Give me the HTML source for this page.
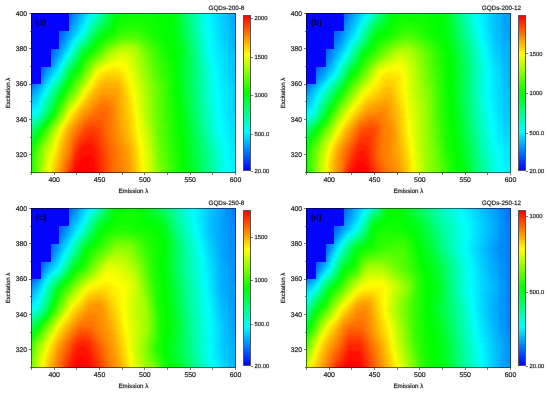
<!DOCTYPE html><html><head><meta charset="utf-8"><style>
*{margin:0;padding:0;box-sizing:border-box}
html,body{width:550px;height:393px;background:#fff;overflow:hidden}
body{position:relative;font-family:"Liberation Sans",Arial,Helvetica,sans-serif;color:#1a1a1a;text-rendering:geometricPrecision;-webkit-text-stroke:0.35px rgba(30,30,30,.55)}
.pn{position:absolute;width:275px;height:196px}
.hm{position:absolute;left:31px;top:13px;width:205px;height:160px;overflow:hidden}
.hm i{display:block;height:1px;width:205px}
.mk{position:absolute;background:#0404fc}
.lab{position:absolute;left:5px;top:4.7px;font-size:8.4px;line-height:8px;color:#000033;font-weight:bold;-webkit-text-stroke:0}
.fr{position:absolute;left:31px;top:13px;width:205px;height:160px;border:1px solid rgba(0,0,0,.55)}
.xt{position:absolute;top:173px;width:1px;height:2.3px;background:#777}
.xt.mn{height:1.5px}
.yt{position:absolute;left:29px;height:1px;width:2px;background:#777}
.yt.mn{width:1.5px;left:29.5px}
.xl{position:absolute;top:177px;font-size:6.9px;line-height:7px;transform:translateX(-50%);white-space:nowrap}
.yl{position:absolute;right:248px;font-size:6.8px;line-height:7px;transform:translateY(-50%);white-space:nowrap}
.xa{position:absolute;left:133.4px;top:188.4px;font-size:6.2px;line-height:7px;transform:translateX(-50%);white-space:nowrap}
.ya{position:absolute;left:8.9px;top:93.3px;font-size:6px;line-height:7px;transform:translate(-50%,-50%) rotate(-90deg);white-space:nowrap}
.ti{position:absolute;left:226.4px;top:5px;font-size:6.3px;line-height:7px;transform:translateX(-50%);white-space:nowrap}
.cb{position:absolute;left:243px;top:15px;width:8px;height:156px;border:0.5px solid #555;background:linear-gradient(180deg,#ff0000 0%,#ff8000 12.5%,#ffff00 25%,#80ff00 37.5%,#00ff00 50%,#00ff80 62.5%,#00ffff 75%,#0080ff 87.5%,#0000ff 100%)}
.ct{position:absolute;left:251px;width:2px;height:1px;background:#777}
.cl{position:absolute;left:254.6px;margin-top:0.6px;font-size:5.8px;line-height:7px;transform:translateY(-50%);white-space:nowrap}
</style></head><body><div class="pn" style="left:0px;top:0px"><div class="hm"><i style="background:linear-gradient(90deg,#0030ff,#0035ff 10.5px,#0040ff 14.5px,#0045ff 23.5px,#0050ff 27.5px,#0055ff 31.5px,#0060ff 35.5px,#007cff 41.5px,#00dcff 56.5px,#00fef7 62.5px,#00ffbb 68.5px,#00ff5f 76.5px,#00ff2b 80.5px,#00ff05 84.5px,#02ff00 94.5px,#10ff00 99.5px,#0cff00 120.5px,#00ff00 124.5px,#00ff05 141.5px,#00ff3c 149.5px,#00ff89 158.5px,#00ffef 173.5px,#00faff 177.5px,#00a0ff)"></i><i style="background:linear-gradient(90deg,#0030ff,#0035ff 10.5px,#0040ff 14.5px,#0046ff 23.5px,#0050ff 28.5px,#006cff 38.5px,#00f9fd 60.5px,#00ffd8 65.5px,#00ff4f 77.5px,#00ff0c 83.5px,#00ff00 86.5px,#06ff00 94.5px,#10ff00 100.5px,#0eff00 120.5px,#00ff00 125.5px,#00ff05 141.5px,#00ff3c 149.5px,#00ff86 158.5px,#00ffea 172.5px,#00fbff 177.5px,#00a1ff)"></i><i style="background:linear-gradient(90deg,#0030ff,#0035ff 10.5px,#0040ff 14.5px,#0043ff 22.5px,#0050ff 26.5px,#0056ff 31.5px,#0076ff 40.5px,#00f9fd 59.5px,#00ffd1 65.5px,#00ff0c 83.5px,#00ff00 86.5px,#06ff00 93.5px,#10ff00 99.5px,#0bff00 121.5px,#00ff00 125.5px,#00ff05 141.5px,#00ff3c 149.5px,#00ffc3 166.5px,#00fffe 176.5px,#00afff 200.5px,#00a1ff)"></i><i style="background:linear-gradient(90deg,#0030ff,#0035ff 10.5px,#0040ff 14.5px,#0044ff 22.5px,#0050ff 26.5px,#0059ff 31.5px,#0073ff 39.5px,#00fcfb 59.5px,#00ffbd 66.5px,#00ff0c 83.5px,#00ff00 87.5px,#0aff00 93.5px,#10ff00 119.5px,#00ff00 126.5px,#00ff05 141.5px,#00ff3c 149.5px,#00ffce 168.5px,#00fffe 176.5px,#00bfff 195.5px,#00a3ff)"></i><i style="background:linear-gradient(90deg,#0030ff,#0035ff 10.5px,#0040ff 14.5px,#0045ff 22.5px,#0050ff 26.5px,#0054ff 30.5px,#007cff 40.5px,#00fbfc 58.5px,#00ffaa 67.5px,#00ff31 79.5px,#00ff04 84.5px,#0aff00 92.5px,#10ff00 120.5px,#00ff00 127.5px,#00ff05 141.5px,#00ff3c 149.5px,#00ffea 172.5px,#00feff 177.5px,#00dfff 185.5px,#00afff 201.5px,#00a4ff)"></i><i style="background:linear-gradient(90deg,#0030ff,#0035ff 10.5px,#0040ff 14.5px,#0046ff 22.5px,#0050ff 27.5px,#0066ff 35.5px,#00a6ff 46.5px,#00fdf9 58.5px,#00ff30 79.5px,#00ff02 84.5px,#10ff00 97.5px,#0eff00 122.5px,#00ff00 127.5px,#00ff05 141.5px,#00ff43 150.5px,#00ffea 172.5px,#00feff 177.5px,#00dfff 185.5px,#00a4ff)"></i><i style="background:linear-gradient(90deg,#0030ff,#0035ff 10.5px,#0040ff 14.5px,#0043ff 21.5px,#0050ff 25.5px,#0056ff 30.5px,#0086ff 41.5px,#00fbfa 57.5px,#00ff91 68.5px,#00ff22 80.5px,#00ff01 84.5px,#10ff00 94.5px,#0cff00 123.5px,#00ff00 128.5px,#00ff05 141.5px,#00ff39 149.5px,#00ffad 164.5px,#00fffa 175.5px,#00f4ff 179.5px,#00a4ff)"></i><i style="background:linear-gradient(90deg,#0030ff,#0035ff 10.5px,#0040ff 14.5px,#0045ff 21.5px,#0050ff 25.5px,#0059ff 30.5px,#0079ff 38.5px,#00d6ff 52.5px,#00fdf6 57.5px,#00ff65 72.5px,#00ff20 80.5px,#01ff01 84.5px,#10ff00 91.5px,#0eff00 123.5px,#00ff00 128.5px,#00ff05 141.5px,#00ff36 149.5px,#00ff90 160.5px,#00fffa 175.5px,#00f4ff 179.5px,#00dfff 186.5px,#00a5ff)"></i><i style="background:linear-gradient(90deg,#0030ff,#0032ff 9.5px,#0040ff 14.5px,#0046ff 21.5px,#0050ff 26.5px,#006cff 35.5px,#00bcff 48.5px,#00fcf9 56.5px,#00ff60 72.5px,#02ff01 84.5px,#10ff00 90.5px,#10ff00 122.5px,#00ff00 129.5px,#00ff05 141.5px,#00ff34 149.5px,#00ff89 159.5px,#00fff8 175.5px,#00f4ff 179.5px,#00a8ff)"></i><i style="background:linear-gradient(90deg,#0030ff,#0033ff 9.5px,#0040ff 13.5px,#0043ff 20.5px,#0050ff 24.5px,#0059ff 29.5px,#0073ff 36.5px,#00cdff 50.5px,#00fafb 55.5px,#00ff62 71.5px,#01ff04 83.5px,#10ff00 88.5px,#19ff00 106.5px,#10ff00 118.5px,#0cff00 125.5px,#00ff00 129.5px,#00ff05 141.5px,#00ff34 149.5px,#00ff7f 158.5px,#00ffeb 173.5px,#00faff 178.5px,#00afff 201.5px,#00acff)"></i><i style="background:linear-gradient(90deg,#0030ff,#0034ff 9.5px,#0040ff 13.5px,#0044ff 20.5px,#0050ff 24.5px,#0055ff 28.5px,#0086ff 39.5px,#00e2ff 52.5px,#00fbf8 55.5px,#00ff6c 69.5px,#02ff02 83.5px,#10ff00 88.5px,#1eff00 106.5px,#10ff00 116.5px,#09ff00 126.5px,#00ff00 131.5px,#00ff05 141.5px,#00ff34 149.5px,#00ffc3 167.5px,#00fefe 177.5px,#00afff 201.5px,#00afff)"></i><i style="background:linear-gradient(90deg,#0030ff,#0035ff 9.5px,#0040ff 13.5px,#0045ff 20.5px,#0050ff 24.5px,#0056ff 28.5px,#007eff 37.5px,#00ddff 51.5px,#00fdf3 55.5px,#00ff64 69.5px,#04ff01 83.5px,#11ff00 88.5px,#20ff00 103.5px,#17ff00 111.5px,#0cff00 126.5px,#00ff00 130.5px,#00ff05 141.5px,#00ff2c 148.5px,#00ffd6 170.5px,#00fefe 177.5px,#00afff 201.5px,#00afff)"></i><i style="background:linear-gradient(90deg,#0030ff,#0035ff 9.5px,#0040ff 13.5px,#0046ff 20.5px,#0050ff 25.5px,#0070ff 34.5px,#00d9ff 50.5px,#00fbf8 54.5px,#00ff5c 69.5px,#05ff01 83.5px,#1cff00 92.5px,#1cff00 111.5px,#10ff00 118.5px,#09ff00 127.5px,#00ff00 132.5px,#00ff05 141.5px,#00ff24 147.5px,#00ffce 169.5px,#00fefe 177.5px,#00b0ff 201.5px,#00afff)"></i><i style="background:linear-gradient(90deg,#0030ff,#0035ff 9.5px,#0040ff 13.5px,#0043ff 19.5px,#0050ff 23.5px,#0056ff 27.5px,#0076ff 35.5px,#00e6ff 51.5px,#00fdf4 54.5px,#00ff5c 68.5px,#02ff02 82.5px,#1fff00 91.5px,#20ff00 110.5px,#10ff00 119.5px,#0cff00 127.5px,#00ff00 131.5px,#00ff05 141.5px,#00ff24 147.5px,#00ffea 173.5px,#00fbff 178.5px,#00bfff 196.5px,#00afff 203.5px,#00afff)"></i><i style="background:linear-gradient(90deg,#0030ff,#0037ff 9.5px,#0040ff 14.5px,#0045ff 19.5px,#0050ff 23.5px,#0069ff 32.5px,#00d2ff 48.5px,#00fbf9 53.5px,#00ff54 68.5px,#04ff01 82.5px,#20ff00 90.5px,#27ff00 104.5px,#1aff00 114.5px,#10ff00 120.5px,#09ff00 128.5px,#00ff00 133.5px,#00ff05 141.5px,#00ff24 147.5px,#00ffea 173.5px,#00fdff 178.5px,#00cfff 191.5px,#00afff 203.5px,#00afff)"></i><i style="background:linear-gradient(90deg,#0030ff,#0033ff 8.5px,#0040ff 12.5px,#0046ff 19.5px,#0066ff 31.5px,#00d6ff 48.5px,#00fdf6 53.5px,#00ff55 67.5px,#05ff01 82.5px,#1fff00 88.5px,#2cff00 104.5px,#19ff00 115.5px,#10ff00 120.5px,#0bff00 128.5px,#00ff00 132.5px,#00ff05 141.5px,#00ff24 147.5px,#00ffee 174.5px,#00feff 178.5px,#00dfff 186.5px,#00afff 203.5px,#00afff)"></i><i style="background:linear-gradient(90deg,#0030ff,#0034ff 8.5px,#0040ff 12.5px,#0043ff 18.5px,#0050ff 22.5px,#0069ff 31.5px,#00cdff 46.5px,#00fbfa 52.5px,#00ff4e 67.5px,#00ff11 78.5px,#07ff00 82.5px,#20ff00 87.5px,#30ff00 102.5px,#1cff00 115.5px,#10ff00 120.5px,#0cff00 128.5px,#00ff00 132.5px,#00ff05 141.5px,#00ff29 148.5px,#00ffe0 172.5px,#00fffe 177.5px,#00cfff 191.5px,#00afff 203.5px,#00afff)"></i><i style="background:linear-gradient(90deg,#0030ff,#0035ff 8.5px,#0040ff 12.5px,#0045ff 18.5px,#0050ff 22.5px,#006bff 31.5px,#00d1ff 46.5px,#00f8fd 51.5px,#00ffd2 55.5px,#00ff66 64.5px,#00ff37 69.5px,#04ff01 81.5px,#22ff00 87.5px,#30ff00 97.5px,#2aff00 109.5px,#10ff00 121.5px,#09ff00 129.5px,#00ff00 134.5px,#00ff05 141.5px,#00ff2d 149.5px,#00ffda 171.5px,#00fffe 177.5px,#00deff 187.5px,#00cfff 192.5px,#00afff 203.5px,#00afff)"></i><i style="background:linear-gradient(90deg,#0030ff,#0035ff 8.5px,#0040ff 12.5px,#0046ff 18.5px,#006cff 31.5px,#00e5ff 48.5px,#00fbfa 51.5px,#00ff54 65.5px,#00ff2b 70.5px,#07ff00 81.5px,#29ff00 88.5px,#33ff00 104.5px,#26ff00 111.5px,#10ff00 122.5px,#0bff00 129.5px,#00ff00 133.5px,#00ff05 141.5px,#00ff34 150.5px,#00ffdf 172.5px,#00feff 178.5px,#00dfff 186.5px,#00afff 203.5px,#00afff)"></i><i style="background:linear-gradient(90deg,#0030ff,#0035ff 8.5px,#0040ff 12.5px,#0043ff 17.5px,#0050ff 21.5px,#006eff 31.5px,#00e1ff 47.5px,#00fdf6 51.5px,#00ff56 64.5px,#00ff25 70.5px,#06ff01 80.5px,#2fff00 89.5px,#3bff00 103.5px,#17ff00 118.5px,#0cff00 129.5px,#00ff00 133.5px,#00ff05 141.5px,#00ff34 150.5px,#00ffde 172.5px,#00fefe 178.5px,#00dfff 187.5px,#00bfff 198.5px,#00afff)"></i><i style="background:linear-gradient(90deg,#0030ff,#0037ff 8.5px,#0040ff 13.5px,#0045ff 17.5px,#0050ff 21.5px,#0070ff 31.5px,#00fcfa 50.5px,#00ff45 65.5px,#00ff19 71.5px,#06ff01 79.5px,#32ff00 89.5px,#3fff00 103.5px,#10ff00 123.5px,#09ff00 130.5px,#00ff00 135.5px,#00ff05 141.5px,#00ff2c 149.5px,#00ffea 174.5px,#00faff 179.5px,#00bfff 198.5px,#00afff)"></i><i style="background:linear-gradient(90deg,#0030ff,#0033ff 7.5px,#0040ff 11.5px,#0046ff 17.5px,#0071ff 31.5px,#00fbfc 49.5px,#00ffd2 53.5px,#00ff60 62.5px,#00ff24 68.5px,#01ff04 75.5px,#21ff00 84.5px,#3bff00 91.5px,#3eff00 106.5px,#10ff00 123.5px,#0cff00 130.5px,#00ff00 134.5px,#00ff05 141.5px,#00ff2c 149.5px,#00ffef 175.5px,#00faff 179.5px,#00bfff 198.5px,#00afff)"></i><i style="background:linear-gradient(90deg,#0030ff,#0034ff 7.5px,#0040ff 11.5px,#0043ff 16.5px,#0050ff 20.5px,#0074ff 31.5px,#00f9fd 48.5px,#00ffe5 51.5px,#00ff63 61.5px,#00ff1c 68.5px,#02ff02 74.5px,#30ff00 86.5px,#44ff00 94.5px,#3eff00 108.5px,#10ff00 124.5px,#09ff00 131.5px,#00ff00 136.5px,#00ff05 141.5px,#00ff24 148.5px,#00ffef 175.5px,#00faff 179.5px,#00cfff 193.5px,#00afff)"></i><i style="background:linear-gradient(90deg,#0030ff,#0035ff 7.5px,#0040ff 11.5px,#0044ff 16.5px,#0050ff 20.5px,#0076ff 31.5px,#00f9fd 47.5px,#00ffe8 50.5px,#00ff5c 61.5px,#00ff16 68.5px,#04ff01 73.5px,#3bff00 87.5px,#4cff00 97.5px,#46ff00 106.5px,#10ff00 125.5px,#0bff00 131.5px,#00ff00 135.5px,#00ff05 141.5px,#00ff23 148.5px,#00ffef 175.5px,#00faff 179.5px,#00cfff 193.5px,#00afff)"></i><i style="background:linear-gradient(90deg,#0030ff,#0035ff 7.5px,#0040ff 11.5px,#0045ff 16.5px,#0073ff 30.5px,#00b2ff 38.5px,#00fcf9 47.5px,#00ffc8 52.5px,#00ff60 60.5px,#00ff10 68.5px,#0aff00 73.5px,#4cff00 91.5px,#54ff00 102.5px,#2aff00 116.5px,#10ff00 127.5px,#07ff00 132.5px,#00ff05 141.5px,#00ff21 148.5px,#00ffef 175.5px,#00fbff 179.5px,#00dfff 187.5px,#00afff)"></i><i style="background:linear-gradient(90deg,#0030ff,#0035ff 7.5px,#0040ff 11.5px,#0046ff 16.5px,#0076ff 30.5px,#00bfff 39.5px,#00fbf9 46.5px,#00ffca 51.5px,#00ff4e 61.5px,#01ff0b 68.5px,#12ff00 73.5px,#54ff00 91.5px,#5cff00 101.5px,#49ff00 109.5px,#1fff00 121.5px,#10ff00 128.5px,#09ff00 132.5px,#00ff00 137.5px,#00ff09 142.5px,#00ff25 149.5px,#00ffee 175.5px,#00fdff 179.5px,#00dfff 187.5px,#00b4ff 202.5px,#00afff)"></i><i style="background:linear-gradient(90deg,#0030ff,#0035ff 7.5px,#0040ff 11.5px,#0049ff 16.5px,#006cff 27.5px,#0096ff 34.5px,#00f9fa 45.5px,#00ffcc 50.5px,#00ff46 61.5px,#01ff0c 67.5px,#10ff00 71.5px,#5dff00 91.5px,#62ff00 103.5px,#1fff00 122.5px,#10ff00 129.5px,#00ff00 137.5px,#00ff07 142.5px,#00ff24 149.5px,#00ffe6 174.5px,#00fffe 178.5px,#00dfff 188.5px,#00afff)"></i><i style="background:linear-gradient(90deg,#0030ff,#0037ff 7.5px,#0040ff 12.5px,#0064ff 25.5px,#0092ff 33.5px,#00f9fc 44.5px,#00ffc1 50.5px,#00ff40 61.5px,#02ff06 67.5px,#44ff00 82.5px,#69ff00 92.5px,#66ff00 104.5px,#1fff00 123.5px,#10ff00 130.5px,#00ff00 137.5px,#00ff05 142.5px,#00ff24 149.5px,#00fffa 177.5px,#00f4ff 181.5px,#00b0ff)"></i><i style="background:linear-gradient(90deg,#0030ff,#0033ff 6.5px,#0040ff 10.5px,#0046ff 15.5px,#0071ff 27.5px,#0096ff 33.5px,#00f7fc 43.5px,#00ffcf 48.5px,#00ff43 60.5px,#04ff03 67.5px,#49ff00 81.5px,#71ff00 91.5px,#71ff00 103.5px,#20ff00 123.5px,#06ff00 134.5px,#00ff05 142.5px,#00ff23 149.5px,#00fffe 178.5px,#00dfff 189.5px,#00b0ff)"></i><i style="background:linear-gradient(90deg,#0030ff,#0034ff 6.5px,#0040ff 10.5px,#0049ff 15.5px,#0064ff 24.5px,#009aff 33.5px,#00fbf8 43.5px,#00ff9e 51.5px,#00ff3c 60.5px,#03ff04 66.5px,#3bff00 76.5px,#79ff00 90.5px,#7dff00 100.5px,#6bff00 107.5px,#26ff00 122.5px,#10ff00 131.5px,#00ff00 138.5px,#00ff09 143.5px,#00ff21 149.5px,#00fffe 178.5px,#00dfff 189.5px,#00b0ff)"></i><i style="background:linear-gradient(90deg,#0030ff,#0035ff 6.5px,#0040ff 10.5px,#0045ff 14.5px,#006cff 25.5px,#009dff 33.5px,#00f9fa 42.5px,#00ff93 51.5px,#00ff34 60.5px,#02ff06 65.5px,#54ff00 79.5px,#84ff00 91.5px,#89ff00 99.5px,#71ff00 107.5px,#31ff00 120.5px,#10ff00 131.5px,#00ff00 139.5px,#00ff07 143.5px,#00ff2c 151.5px,#00fff8 177.5px,#00f4ff 181.5px,#00dfff 189.5px,#00b0ff)"></i><i style="background:linear-gradient(90deg,#0030ff,#0035ff 6.5px,#0040ff 10.5px,#0046ff 14.5px,#006eff 25.5px,#00a2ff 33.5px,#00f6fd 41.5px,#00ffc6 46.5px,#00ff45 57.5px,#06ff03 65.5px,#59ff00 78.5px,#8cff00 90.5px,#92ff00 99.5px,#73ff00 108.5px,#35ff00 120.5px,#10ff00 132.5px,#00ff00 139.5px,#00ff05 143.5px,#00ff2c 151.5px,#00fff6 177.5px,#00f4ff 181.5px,#00cbff 197.5px,#00b0ff)"></i><i style="background:linear-gradient(90deg,#0030ff,#0035ff 6.5px,#0040ff 10.5px,#0062ff 22.5px,#00a6ff 33.5px,#00fafa 41.5px,#00ff45 56.5px,#04ff04 64.5px,#56ff00 76.5px,#93ff00 89.5px,#9bff00 98.5px,#84ff00 106.5px,#3aff00 120.5px,#10ff00 132.5px,#00ff00 139.5px,#00ff09 144.5px,#00ff24 150.5px,#00ffb2 168.5px,#00fff4 177.5px,#00f4ff 181.5px,#00d4ff 193.5px,#00b1ff)"></i><i style="background:linear-gradient(90deg,#0030ff,#0035ff 6.5px,#0040ff 10.5px,#0063ff 22.5px,#00a3ff 32.5px,#00f6fd 40.5px,#00ffdb 43.5px,#00ff50 54.5px,#03ff06 63.5px,#64ff00 77.5px,#99ff00 88.5px,#a4ff00 96.5px,#95ff00 104.5px,#34ff00 122.5px,#10ff00 133.5px,#00ff00 140.5px,#00ff07 144.5px,#00ff23 150.5px,#00ffa6 167.5px,#00ffef 176.5px,#00faff 180.5px,#00efff 184.5px,#00dfff 190.5px,#00b3ff)"></i><i style="background:linear-gradient(90deg,#0030ff,#0037ff 6.5px,#004cff 14.5px,#006bff 23.5px,#00a9ff 32.5px,#00fafa 40.5px,#00ff50 53.5px,#02ff06 62.5px,#6cff00 77.5px,#9fff00 87.5px,#aeff00 95.5px,#9cff00 104.5px,#41ff00 120.5px,#10ff00 133.5px,#00ff00 140.5px,#00ff05 144.5px,#00ff2d 152.5px,#00ffb9 169.5px,#00ffef 176.5px,#00fbff 180.5px,#00dfff 190.5px,#00b4ff)"></i><i style="background:linear-gradient(90deg,#0030ff,#0033ff 5.5px,#0040ff 9.5px,#0059ff 18.5px,#0079ff 25.5px,#00bfff 34.5px,#00f6fd 39.5px,#00ffdb 42.5px,#00ff50 52.5px,#02ff06 61.5px,#70ff00 76.5px,#a5ff00 86.5px,#b7ff00 95.5px,#9eff00 105.5px,#49ff00 119.5px,#10ff00 133.5px,#00ff00 141.5px,#00ff0b 145.5px,#00ff2c 152.5px,#00ffd2 172.5px,#00fffa 178.5px,#00dfff 190.5px,#00c4ff 199.5px,#00b4ff)"></i><i style="background:linear-gradient(90deg,#0030ff,#0034ff 5.5px,#0040ff 9.5px,#005bff 18.5px,#0074ff 24.5px,#00cfff 35.5px,#00fafa 39.5px,#00ffb3 44.5px,#00ff3b 53.5px,#04ff02 61.5px,#85ff00 78.5px,#b1ff00 87.5px,#beff00 95.5px,#a9ff00 104.5px,#4cff00 119.5px,#10ff00 133.5px,#09ff00 137.5px,#00ff00 142.5px,#00ff25 151.5px,#00fff4 177.5px,#00faff 181.5px,#00dfff 191.5px,#00b4ff)"></i><i style="background:linear-gradient(90deg,#0030ff,#0035ff 5.5px,#0040ff 9.5px,#0066ff 21.5px,#00a5ff 30.5px,#00f6fd 38.5px,#00ffdb 41.5px,#00ff47 51.5px,#00ff20 55.5px,#08ff01 61.5px,#8fff00 78.5px,#bcff00 88.5px,#c2ff00 97.5px,#a1ff00 106.5px,#53ff00 118.5px,#11ff00 133.5px,#0bff00 137.5px,#00ff00 141.5px,#00ff07 145.5px,#00ff34 153.5px,#00fffa 178.5px,#00f4ff 182.5px,#00e4ff 188.5px,#00d8ff 194.5px,#00b4ff)"></i><i style="background:linear-gradient(90deg,#0030ff,#0035ff 5.5px,#0040ff 9.5px,#0069ff 21.5px,#00a2ff 29.5px,#00fafa 38.5px,#00ffb3 43.5px,#00ff3e 51.5px,#00ff17 55.5px,#07ff01 60.5px,#98ff00 78.5px,#c1ff00 87.5px,#caff00 95.5px,#b1ff00 104.5px,#51ff00 119.5px,#11ff00 133.5px,#07ff00 138.5px,#00ff05 145.5px,#00ff34 153.5px,#00ffc3 171.5px,#00fffe 179.5px,#00efff 185.5px,#00dfff 191.5px,#00c4ff 200.5px,#00b5ff)"></i><i style="background:linear-gradient(90deg,#0030ff,#0035ff 5.5px,#0040ff 9.5px,#0071ff 22.5px,#00afff 30.5px,#00f7fd 37.5px,#00ffdb 40.5px,#00ff44 50.5px,#00ff15 54.5px,#0fff00 60.5px,#9fff00 78.5px,#c2ff00 85.5px,#d0ff00 94.5px,#bdff00 102.5px,#7eff00 112.5px,#22ff00 129.5px,#10ff00 135.5px,#00ff00 142.5px,#00ff0b 146.5px,#00ff2c 152.5px,#00ff9f 167.5px,#00fffe 179.5px,#00efff 185.5px,#00dfff 192.5px,#00b7ff)"></i><i style="background:linear-gradient(90deg,#0030ff,#0035ff 5.5px,#0040ff 9.5px,#0073ff 22.5px,#00aaff 29.5px,#00fafa 37.5px,#00ffb3 42.5px,#00ff3c 50.5px,#00ff0d 54.5px,#12ff00 59.5px,#37ff00 64.5px,#a1ff00 77.5px,#c9ff00 85.5px,#d5ff00 94.5px,#bdff00 103.5px,#51ff00 120.5px,#11ff00 134.5px,#0bff00 138.5px,#00ff00 142.5px,#00ff0b 146.5px,#00ff24 151.5px,#00ff9d 167.5px,#00fff8 178.5px,#00f4ff 182.5px,#00e8ff 188.5px,#00c4ff 200.5px,#00bcff)"></i><i style="background:linear-gradient(90deg,#0030ff,#0037ff 5.5px,#0056ff 15.5px,#008aff 25.5px,#00f8fc 36.5px,#00ffdb 39.5px,#00ff34 50.5px,#01ff08 54.5px,#20ff00 60.5px,#a9ff00 77.5px,#ceff00 85.5px,#dbff00 94.5px,#baff00 104.5px,#4eff00 121.5px,#11ff00 134.5px,#07ff00 139.5px,#00ff05 145.5px,#00ff24 151.5px,#00ff9c 167.5px,#00fff0 177.5px,#00fbff 181.5px,#00efff 185.5px,#00d4ff 195.5px,#00bfff 203.5px,#00bfff)"></i><i style="background:linear-gradient(90deg,#0030ff,#0039ff 5.5px,#0054ff 14.5px,#0086ff 24.5px,#00f4fd 35.5px,#00ffe2 38.5px,#00ff3b 49.5px,#01ff0b 53.5px,#14ff00 57.5px,#afff00 77.5px,#d3ff00 85.5px,#dfff00 93.5px,#d3ff00 98.5px,#a9ff00 107.5px,#4fff00 121.5px,#10ff00 135.5px,#04ff00 140.5px,#00ff05 145.5px,#00ff2c 152.5px,#00ff8c 165.5px,#00ffef 177.5px,#00fdff 181.5px,#00efff 186.5px,#00dfff 192.5px,#00bfff 203.5px,#00bfff)"></i><i style="background:linear-gradient(90deg,#0030ff,#0034ff 4.5px,#0040ff 8.5px,#007cff 22.5px,#00afff 28.5px,#00f9fa 35.5px,#00ffda 38.5px,#00ff34 49.5px,#02ff06 53.5px,#53ff00 64.5px,#b6ff00 77.5px,#d6ff00 84.5px,#e0ff00 93.5px,#d6ff00 98.5px,#a3ff00 108.5px,#45ff00 123.5px,#10ff00 136.5px,#00ff01 144.5px,#00ff34 153.5px,#00ff83 164.5px,#00ffef 177.5px,#00feff 181.5px,#00efff 186.5px,#00dfff 192.5px,#00bfff 203.5px,#00bfff)"></i><i style="background:linear-gradient(90deg,#0030ff,#0035ff 4.5px,#0054ff 13.5px,#0086ff 23.5px,#00e1ff 32.5px,#00fcf6 35.5px,#00ffa3 41.5px,#00ff20 50.5px,#06ff03 53.5px,#beff00 77.5px,#dcff00 84.5px,#e3ff00 94.5px,#c8ff00 102.5px,#37ff00 126.5px,#10ff00 137.5px,#00ff01 144.5px,#00ff4c 157.5px,#00ffee 177.5px,#00feff 181.5px,#00efff 185.5px,#00e4ff 189.5px,#00d8ff 195.5px,#00bfff)"></i><i style="background:linear-gradient(90deg,#0030ff,#0037ff 4.5px,#0056ff 13.5px,#008aff 23.5px,#00f3fd 33.5px,#00ffe3 36.5px,#00ff1a 50.5px,#0bff01 53.5px,#c1ff00 76.5px,#e2ff00 84.5px,#e8ff00 94.5px,#c4ff00 103.5px,#3eff00 125.5px,#11ff00 136.5px,#06ff00 141.5px,#00ff05 145.5px,#00ff54 158.5px,#00fffa 179.5px,#00f4ff 183.5px,#00e4ff 189.5px,#00daff 195.5px,#00bfff 203.5px,#00bfff)"></i><i style="background:linear-gradient(90deg,#0030ff,#004cff 10.5px,#008eff 23.5px,#00d6ff 30.5px,#00f8fa 33.5px,#00ffcc 37.5px,#00ff21 49.5px,#07ff02 52.5px,#9eff00 70.5px,#d8ff00 79.5px,#edff00 88.5px,#e9ff00 95.5px,#a9ff00 108.5px,#3fff00 125.5px,#10ff00 137.5px,#09ff00 141.5px,#00ff05 145.5px,#00ff54 158.5px,#00fff8 179.5px,#00ebff 188.5px,#00dfff 192.5px,#00d4ff 196.5px,#00bfff)"></i><i style="background:linear-gradient(90deg,#0030ff,#003bff 4.5px,#0056ff 12.5px,#0093ff 23.5px,#00cfff 29.5px,#00fcf6 33.5px,#01ff0e 50.5px,#15ff00 53.5px,#a1ff00 69.5px,#dfff00 79.5px,#efff00 87.5px,#e8ff00 96.5px,#9cff00 110.5px,#35ff00 127.5px,#10ff00 139.5px,#00ff05 145.5px,#00ff54 158.5px,#00ff9f 168.5px,#00fff6 179.5px,#00f8ff 183.5px,#00dfff 193.5px,#00bfff)"></i><i style="background:linear-gradient(90deg,#0030ff,#004bff 9.5px,#0099ff 23.5px,#00d6ff 29.5px,#00faf7 32.5px,#00ff9b 39.5px,#02ff09 50.5px,#25ff00 54.5px,#a4ff00 68.5px,#e1ff00 78.5px,#f4ff00 87.5px,#ebff00 96.5px,#9dff00 110.5px,#37ff00 127.5px,#10ff00 139.5px,#00ff05 145.5px,#00ff54 158.5px,#00ffa6 169.5px,#00ffef 178.5px,#00feff 182.5px,#00efff 187.5px,#00dfff 193.5px,#00bfff)"></i><i style="background:linear-gradient(90deg,#0030ff,#0050ff 10.5px,#00a6ff 24.5px,#00f6fa 31.5px,#00ffbc 36.5px,#00ff40 45.5px,#04ff06 50.5px,#8fff00 64.5px,#e1ff00 76.5px,#faff00 86.5px,#edff00 96.5px,#92ff00 112.5px,#33ff00 128.5px,#00ff05 145.5px,#00ff54 158.5px,#00ffad 170.5px,#00fff3 179.5px,#00faff 183.5px,#00efff 187.5px,#00dfff 193.5px,#00bfff)"></i><i style="background:linear-gradient(90deg,#0030ff,#0056ff 11.5px,#00b5ff 25.5px,#00f1fd 30.5px,#00ffdc 33.5px,#00ff50 43.5px,#02ff0c 49.5px,#1dff00 52.5px,#aaff00 66.5px,#edff00 77.5px,#feff00 87.5px,#f5ff00 93.5px,#dbff00 100.5px,#3fff00 126.5px,#20ff00 135.5px,#00ff05 145.5px,#00ff54 158.5px,#00ffb4 171.5px,#00fff8 180.5px,#00f4ff 184.5px,#00e4ff 190.5px,#00d4ff 196.5px,#00bfff)"></i><i style="background:linear-gradient(90deg,#0030ff,#0059ff 11.5px,#00baff 25.5px,#00f6fa 30.5px,#00ffb6 35.5px,#00ff47 43.5px,#04ff07 49.5px,#4cff00 56.5px,#acff00 65.5px,#f1ff00 76.5px,#fffe00 85.5px,#f9ff00 93.5px,#cbff00 103.5px,#40ff00 126.5px,#1fff00 136.5px,#00ff05 145.5px,#00ff54 158.5px,#00ffc4 173.5px,#00fffb 181.5px,#00dfff 193.5px,#00bfff)"></i><i style="background:linear-gradient(90deg,#0030ff,#005dff 11.5px,#00c0ff 25.5px,#00faf6 30.5px,#00ff4a 42.5px,#07ff04 49.5px,#b6ff00 65.5px,#f8ff00 76.5px,#feff00 92.5px,#d8ff00 101.5px,#40ff00 126.5px,#20ff00 136.5px,#00ff05 145.5px,#00ff54 158.5px,#00ffcb 174.5px,#00fffa 181.5px,#00dfff 193.5px,#00bfff)"></i><i style="background:linear-gradient(90deg,#0030ff,#0059ff 10.5px,#00c5ff 25.5px,#00f6fa 29.5px,#00ffc3 33.5px,#00ff4d 41.5px,#04ff07 48.5px,#50ff00 55.5px,#c1ff00 65.5px,#f9fe00 75.5px,#fff400 86.5px,#f8ff00 95.5px,#84ff00 115.5px,#41ff00 126.5px,#05ff00 143.5px,#00ff25 151.5px,#00ff9b 168.5px,#00ffef 179.5px,#00feff 183.5px,#00dfff 192.5px,#00d4ff 196.5px,#00bfff)"></i><i style="background:linear-gradient(90deg,#0030ff,#005cff 10.5px,#00ccff 25.5px,#00f9f6 29.5px,#00ff43 41.5px,#06ff04 48.5px,#caff00 65.5px,#fbfd00 74.5px,#ffef00 84.5px,#faff00 95.5px,#72ff00 118.5px,#42ff00 126.5px,#0bff00 142.5px,#00ff0b 146.5px,#00ff54 158.5px,#00ffb2 171.5px,#00fffa 181.5px,#00f4ff 185.5px,#00dfff 193.5px,#00cfff 199.5px,#00bfff)"></i><i style="background:linear-gradient(90deg,#0030ff,#0064ff 11.5px,#00caff 24.5px,#00f3fb 28.5px,#00ffd3 31.5px,#00ff53 39.5px,#00ff1c 44.5px,#09ff02 48.5px,#d3ff00 65.5px,#fbfd00 72.5px,#ffea00 82.5px,#fff900 92.5px,#f1ff00 97.5px,#6cff00 119.5px,#33ff00 130.5px,#10ff00 141.5px,#00ff05 145.5px,#00ff54 158.5px,#00ffaf 171.5px,#00fffa 181.5px,#00f4ff 185.5px,#00d4ff 196.5px,#00c4ff 202.5px,#00bfff)"></i><i style="background:linear-gradient(90deg,#0031ff,#0067ff 11.5px,#00daff 25.5px,#00f8f9 28.5px,#00ff84 35.5px,#00ff30 41.5px,#02ff06 46.5px,#1aff00 49.5px,#d2ff00 64.5px,#f9fe00 70.5px,#ffe400 82.5px,#fff600 92.5px,#f9ff00 96.5px,#74ff00 118.5px,#41ff00 127.5px,#10ff00 141.5px,#00ff05 145.5px,#00ff73 163.5px,#00ffce 175.5px,#00fffd 182.5px,#00cfff 199.5px,#00bfff)"></i><i style="background:linear-gradient(90deg,#0031ff,#006aff 11.5px,#00eaff 26.5px,#00fbf5 28.5px,#00ff4d 38.5px,#00ff14 43.5px,#0bff01 47.5px,#abff00 60.5px,#e3ff00 65.5px,#fdfb00 70.5px,#ffe100 79.5px,#ffe900 87.5px,#fbff00 96.5px,#7cff00 117.5px,#41ff00 127.5px,#15ff00 140.5px,#00ff05 145.5px,#00ff73 163.5px,#00ffc4 174.5px,#00fffb 182.5px,#00c4ff 202.5px,#00bfff)"></i><i style="background:linear-gradient(90deg,#0031ff,#006eff 11.5px,#00f9fa 27.5px,#00ffce 30.5px,#00ff54 37.5px,#00ff15 42.5px,#08ff01 46.5px,#96ff00 58.5px,#e2ff00 64.5px,#fcfd00 68.5px,#ffdf00 77.5px,#ffe600 88.5px,#f8ff00 97.5px,#7dff00 117.5px,#42ff00 127.5px,#1bff00 139.5px,#00ff05 145.5px,#00ff93 168.5px,#00ffef 180.5px,#00fdff 184.5px,#00dfff 194.5px,#00bfff)"></i><i style="background:linear-gradient(90deg,#0031ff,#006aff 10.5px,#00f6fd 26.5px,#00feea 28.5px,#00ff4c 37.5px,#00ff0d 42.5px,#0dff00 46.5px,#abff00 59.5px,#f2ff00 65.5px,#fff400 69.5px,#ffdb00 77.5px,#ffe100 88.5px,#faff00 97.5px,#64ff00 121.5px,#3fff00 129.5px,#0bff00 142.5px,#00ff0b 146.5px,#00ff93 168.5px,#00ffef 180.5px,#00feff 184.5px,#00dfff 193.5px,#00d4ff 197.5px,#00c0ff)"></i><i style="background:linear-gradient(90deg,#0032ff,#006dff 10.5px,#00fafa 26.5px,#00ffd1 29.5px,#00ff44 37.5px,#01ff08 42.5px,#14ff00 46.5px,#a5ff00 58.5px,#f7fe00 65.5px,#ffe100 72.5px,#ffd400 80.5px,#ffe500 90.5px,#fbff00 97.5px,#45ff00 127.5px,#10ff00 141.5px,#00ff05 145.5px,#00ff93 168.5px,#00ffef 180.5px,#00feff 184.5px,#00dfff 193.5px,#00d4ff 197.5px,#00c0ff)"></i><i style="background:linear-gradient(90deg,#0034ff,#0069ff 9.5px,#00f8fc 25.5px,#00ffdb 28.5px,#00ff3c 37.5px,#01ff0b 41.5px,#14ff00 45.5px,#54ff00 51.5px,#ebff00 63.5px,#fef900 66.5px,#ffd100 76.5px,#ffd600 86.5px,#fdfe00 97.5px,#46ff00 127.5px,#0bff00 142.5px,#00ff0b 146.5px,#00ff93 168.5px,#00ffef 180.5px,#00feff 184.5px,#00dfff 194.5px,#00c0ff)"></i><i style="background:linear-gradient(90deg,#0038ff,#0066ff 8.5px,#00f4fd 24.5px,#00ffe2 27.5px,#00ff35 37.5px,#02ff06 41.5px,#37ff00 48.5px,#f2fe00 63.5px,#ffef00 67.5px,#ffd000 75.5px,#ffd500 87.5px,#faff00 98.5px,#4eff00 126.5px,#00ff05 145.5px,#00ff93 168.5px,#00ffee 180.5px,#00feff 184.5px,#00dfff 194.5px,#00c0ff)"></i><i style="background:linear-gradient(90deg,#003dff,#006aff 8.5px,#00f3fd 23.5px,#00ffe8 26.5px,#00ff81 32.5px,#00ff21 38.5px,#06ff03 41.5px,#4aff00 49.5px,#f7fd00 63.5px,#ffda00 70.5px,#ffca00 79.5px,#ffd500 88.5px,#faff00 98.5px,#4fff00 126.5px,#00ff05 145.5px,#00ff73 163.5px,#00ffc3 174.5px,#00fffe 183.5px,#00dfff 195.5px,#00c0ff)"></i><i style="background:linear-gradient(90deg,#0040ff,#006eff 8.5px,#00f9fa 23.5px,#00ffd1 27.5px,#00ff37 36.5px,#04ff05 40.5px,#52ff00 49.5px,#f3fe00 62.5px,#ffea00 66.5px,#ffcd00 73.5px,#ffc400 81.5px,#ffdd00 91.5px,#fbfe00 98.5px,#50ff00 126.5px,#01ff05 145.5px,#00ff6c 162.5px,#00ffcb 175.5px,#00fffe 183.5px,#00dfff 195.5px,#00c1ff)"></i><i style="background:linear-gradient(90deg,#0042ff,#007bff 9.5px,#00f8fc 22.5px,#00ffd5 26.5px,#00ff31 36.5px,#02ff09 39.5px,#27ff00 44.5px,#74ff00 51.5px,#f8fd00 62.5px,#ffda00 68.5px,#ffc000 78.5px,#ffce00 88.5px,#fdfe00 98.5px,#51ff00 126.5px,#01ff05 145.5px,#00ff73 163.5px,#00ffc3 174.5px,#00fffd 183.5px,#00dfff 195.5px,#00c3ff)"></i><i style="background:linear-gradient(90deg,#0047ff,#0079ff 8.5px,#00baff 15.5px,#00fcf7 22.5px,#00ffbe 27.5px,#00ff49 34.5px,#04ff05 39.5px,#4bff00 47.5px,#f3fe00 61.5px,#ffe500 65.5px,#ffc100 74.5px,#ffc600 87.5px,#faff00 99.5px,#4fff00 127.5px,#01ff05 145.5px,#00ff73 163.5px,#00ffc3 174.5px,#00fffb 183.5px,#00c4ff)"></i><i style="background:linear-gradient(90deg,#004dff,#0076ff 7.5px,#00b5ff 14.5px,#00faf8 21.5px,#00ffb3 27.5px,#00ff33 35.5px,#02ff09 38.5px,#24ff00 42.5px,#5eff00 48.5px,#f8fc00 61.5px,#ffd100 68.5px,#ffbf00 75.5px,#ffc500 88.5px,#fafe00 99.5px,#50ff00 127.5px,#01ff04 145.5px,#00ff6c 162.5px,#00ffea 180.5px,#00feff 185.5px,#00efff 190.5px,#00c4ff)"></i><i style="background:linear-gradient(90deg,#0052ff,#007cff 7.5px,#00c5ff 15.5px,#00f8fa 20.5px,#00ffaa 27.5px,#00ff2c 35.5px,#04ff06 38.5px,#66ff00 48.5px,#f6fd00 60.5px,#ffdb00 65.5px,#ffbe00 73.5px,#ffc000 87.5px,#fbfe00 99.5px,#51ff00 127.5px,#01ff02 145.5px,#00ff6c 162.5px,#00ffea 180.5px,#00feff 185.5px,#00efff 190.5px,#00dfff 196.5px,#00c4ff)"></i><i style="background:linear-gradient(90deg,#0057ff,#008bff 8.5px,#00d6ff 16.5px,#00fcf6 20.5px,#00ff92 28.5px,#00ff24 35.5px,#07ff04 38.5px,#6eff00 48.5px,#f3fe00 59.5px,#ffed00 62.5px,#ffce00 67.5px,#ffb400 76.5px,#ffbe00 87.5px,#fff200 97.5px,#f2ff00 101.5px,#4fff00 128.5px,#01ff01 145.5px,#00ff6c 162.5px,#00ffea 180.5px,#00feff 185.5px,#00efff 189.5px,#00d6ff 199.5px,#00c5ff)"></i><i style="background:linear-gradient(90deg,#005dff,#0091ff 8.5px,#00ddff 16.5px,#00faf7 19.5px,#00ff96 27.5px,#00ff1d 35.5px,#0cff02 38.5px,#69ff00 47.5px,#efff00 58.5px,#fff100 61.5px,#ffc500 68.5px,#ffb000 76.5px,#ffb600 86.5px,#ffe400 95.5px,#fafe00 100.5px,#55ff00 127.5px,#01ff01 145.5px,#00ff6c 162.5px,#00ffef 181.5px,#00feff 185.5px,#00efff 189.5px,#00d8ff 199.5px,#00c7ff)"></i><i style="background:linear-gradient(90deg,#0064ff,#009eff 9.5px,#00f8fa 18.5px,#00ff8c 27.5px,#00ff24 34.5px,#07ff04 37.5px,#70ff00 47.5px,#e1ff00 56.5px,#fef400 60.5px,#ffc500 67.5px,#ffb000 74.5px,#ffb500 87.5px,#fbfe00 100.5px,#51ff00 128.5px,#01ff01 145.5px,#00ff6c 162.5px,#00ffef 181.5px,#00feff 185.5px,#00efff 190.5px,#00d4ff 200.5px,#00ccff)"></i><i style="background:linear-gradient(90deg,#006cff,#009cff 8.5px,#00f6fd 17.5px,#00ffc5 22.5px,#00ff54 30.5px,#04ff07 36.5px,#40ff00 42.5px,#84ff00 48.5px,#ddff00 55.5px,#fdf700 59.5px,#ffc500 66.5px,#ffaf00 73.5px,#ffb200 87.5px,#fdfe00 100.5px,#63ff00 125.5px,#0fff00 142.5px,#00ff05 146.5px,#00ff73 163.5px,#00ffef 181.5px,#00feff 185.5px,#00efff 190.5px,#00d4ff 200.5px,#00cfff)"></i><i style="background:linear-gradient(90deg,#0071ff,#009bff 7.5px,#00e5ff 15.5px,#00fef1 18.5px,#00ff4c 30.5px,#02ff0c 35.5px,#25ff00 39.5px,#8cff00 48.5px,#dbff00 54.5px,#fcf900 58.5px,#ffc100 66.5px,#ffaf00 72.5px,#ffb300 88.5px,#fefd00 100.5px,#60ff00 126.5px,#0fff00 142.5px,#00ff05 146.5px,#00ff6c 162.5px,#00ffef 181.5px,#00ffff 185.5px,#00efff 191.5px,#00cfff 203.5px,#00cfff)"></i><i style="background:linear-gradient(90deg,#0077ff,#00a3ff 7.5px,#00ecff 15.5px,#00fdf6 17.5px,#01ff0f 34.5px,#15ff00 37.5px,#86ff00 47.5px,#e3ff00 54.5px,#fef300 58.5px,#ffba00 67.5px,#ffab00 75.5px,#ffb100 88.5px,#fafe00 101.5px,#84ff00 120.5px,#0fff00 142.5px,#00ff05 146.5px,#00ff3c 155.5px,#00ffb3 172.5px,#00fffa 183.5px,#00faff 187.5px,#00efff 191.5px,#00cfff 203.5px,#00cfff)"></i><i style="background:linear-gradient(90deg,#007eff,#00a9ff 7.5px,#00fafa 16.5px,#00ff13 33.5px,#10ff01 36.5px,#8dff00 47.5px,#e1ff00 53.5px,#fdf400 57.5px,#ffbf00 65.5px,#ffa500 73.5px,#ffa900 84.5px,#ffbb00 90.5px,#fafe00 101.5px,#7fff00 121.5px,#11ff00 141.5px,#00ff05 146.5px,#00ff3c 155.5px,#00ffef 181.5px,#00feff 186.5px,#00efff 190.5px,#00eaff 194.5px,#00cfff)"></i><i style="background:linear-gradient(90deg,#0086ff,#00b6ff 8.5px,#00f7fd 15.5px,#00ffdb 18.5px,#01ff0c 33.5px,#16ff00 36.5px,#94ff00 47.5px,#e8ff00 53.5px,#fdf700 56.5px,#ffc500 63.5px,#ffa100 72.5px,#ffa600 85.5px,#ffc400 92.5px,#fbfe00 101.5px,#6fff00 124.5px,#11ff00 141.5px,#00ff04 146.5px,#00ff5c 160.5px,#00ffed 181.5px,#00feff 186.5px,#00efff 190.5px,#00eaff 194.5px,#00dfff 198.5px,#00cfff)"></i><i style="background:linear-gradient(90deg,#008cff,#00bcff 8.5px,#00fafa 15.5px,#01ff11 32.5px,#12ff00 35.5px,#8eff00 46.5px,#eeff00 53.5px,#fef200 56.5px,#ffba00 64.5px,#ffa000 72.5px,#ffa500 86.5px,#ffcb00 93.5px,#fdfd00 101.5px,#74ff00 123.5px,#11ff00 141.5px,#00ff07 147.5px,#00ff64 161.5px,#00ffe6 180.5px,#00feff 186.5px,#00efff 190.5px,#00eaff 194.5px,#00dfff 198.5px,#00cfff)"></i><i style="background:linear-gradient(90deg,#0091ff,#00bbff 7.5px,#00f8fd 14.5px,#00ffdb 17.5px,#00ff16 31.5px,#0fff01 34.5px,#96ff00 46.5px,#e9ff00 52.5px,#fef400 55.5px,#ffb600 64.5px,#ff9f00 71.5px,#ffa200 86.5px,#ffdc00 96.5px,#fafe00 102.5px,#9fff00 116.5px,#15ff00 140.5px,#00ff05 147.5px,#00ff6c 162.5px,#00ffdf 179.5px,#00feff 186.5px,#00efff 191.5px,#00d4ff 201.5px,#00cfff)"></i><i style="background:linear-gradient(90deg,#0096ff,#00c1ff 7.5px,#00fbfa 14.5px,#00ffc4 18.5px,#01ff0f 31.5px,#16ff00 34.5px,#90ff00 45.5px,#f0fe00 52.5px,#ffef00 55.5px,#ffb900 63.5px,#ff9f00 70.5px,#ffa500 87.5px,#fafe00 102.5px,#8eff00 119.5px,#15ff00 140.5px,#00ff05 147.5px,#00ff64 161.5px,#00ffdf 179.5px,#00feff 186.5px,#00efff 191.5px,#00e8ff 195.5px,#00cfff)"></i><i style="background:linear-gradient(90deg,#009cff,#00c5ff 7.5px,#00f9fc 13.5px,#00ffde 16.5px,#00ff1e 29.5px,#09ff03 32.5px,#96ff00 45.5px,#f6fd00 52.5px,#ffd900 57.5px,#ffa200 67.5px,#ff9c00 78.5px,#ffa400 87.5px,#fafe00 102.5px,#8fff00 119.5px,#20ff00 138.5px,#00ff01 146.5px,#00ff44 157.5px,#00ffbe 174.5px,#00fffe 185.5px,#00efff 192.5px,#00d4ff 201.5px,#00cfff)"></i><i style="background:linear-gradient(90deg,#00a1ff,#00d1ff 8.5px,#00fcf9 13.5px,#00ffca 17.5px,#00ff17 29.5px,#0fff01 32.5px,#9eff00 45.5px,#f1fe00 51.5px,#ffec00 54.5px,#ffb500 62.5px,#ff9400 72.5px,#ffa400 87.5px,#fbfe00 102.5px,#8fff00 119.5px,#15ff00 140.5px,#00ff05 147.5px,#00ff54 159.5px,#00ffea 181.5px,#00ffff 186.5px,#00efff 192.5px,#00e4ff 196.5px,#00cfff)"></i><i style="background:linear-gradient(90deg,#00a6ff,#00cdff 7.5px,#00fbfb 12.5px,#00ffd2 16.5px,#00ff1e 28.5px,#0cff02 31.5px,#a6ff00 45.5px,#f6fd00 51.5px,#ffd600 56.5px,#ffae00 63.5px,#ff9000 72.5px,#ff9600 80.5px,#ffaa00 88.5px,#fff300 100.5px,#f2ff00 104.5px,#8fff00 119.5px,#11ff00 141.5px,#00ff05 147.5px,#00ff54 159.5px,#00ffea 181.5px,#00ffff 186.5px,#00efff 192.5px,#00d4ff 201.5px,#00cfff)"></i><i style="background:linear-gradient(90deg,#00acff,#00caff 6.5px,#00fdf8 12.5px,#00ffbb 17.5px,#02ff0c 29.5px,#1dff00 32.5px,#bdff00 46.5px,#fafa00 51.5px,#ffb600 60.5px,#ff9000 71.5px,#ff9500 81.5px,#ffb100 90.5px,#fefd00 102.5px,#60ff00 127.5px,#11ff00 141.5px,#00ff05 147.5px,#00ff4c 158.5px,#00ffdf 179.5px,#00ffff 186.5px,#00efff 192.5px,#00cfff)"></i><i style="background:linear-gradient(90deg,#00b0ff,#00cdff 6.5px,#00fbfb 11.5px,#00ffd2 15.5px,#01ff12 28.5px,#17ff00 31.5px,#d3ff00 47.5px,#fdf600 51.5px,#ffb900 59.5px,#ff9000 69.5px,#ff9200 81.5px,#ffb000 90.5px,#fafe00 103.5px,#64ff00 126.5px,#0fff00 142.5px,#00ff05 147.5px,#00ff3c 156.5px,#00ffae 172.5px,#00fffa 184.5px,#00faff 188.5px,#00efff 192.5px,#00cfff)"></i><i style="background:linear-gradient(90deg,#00b4ff,#00d2ff 6.5px,#00fdf8 11.5px,#00ffbe 16.5px,#02ff0d 28.5px,#1eff00 31.5px,#f3fd00 49.5px,#ffe700 52.5px,#ffaf00 60.5px,#ff8c00 70.5px,#ff9400 82.5px,#ff9f00 86.5px,#ffc200 93.5px,#fafe00 103.5px,#64ff00 126.5px,#02ff00 145.5px,#00ff25 153.5px,#00ffa1 170.5px,#00fffa 184.5px,#00faff 188.5px,#00efff 192.5px,#00dfff 198.5px,#00cfff)"></i><i style="background:linear-gradient(90deg,#00bbff,#00d6ff 6.5px,#00fafb 10.5px,#00ffb8 16.5px,#05ff09 28.5px,#40ff00 33.5px,#f8fb00 49.5px,#ffaf00 59.5px,#ff8500 71.5px,#ff9000 81.5px,#ff9f00 86.5px,#ffc600 94.5px,#fafe00 103.5px,#64ff00 126.5px,#04ff00 145.5px,#00ff14 150.5px,#00ff5c 160.5px,#00ffef 182.5px,#00feff 187.5px,#00efff 191.5px,#00e4ff 195.5px,#00daff 201.5px,#00cfff)"></i><i style="background:linear-gradient(90deg,#00c0ff,#00daff 6.5px,#00fbf9 10.5px,#00ffa4 17.5px,#02ff0e 27.5px,#1fff00 30.5px,#9aff00 40.5px,#f6fc00 48.5px,#ffd300 53.5px,#ffa100 61.5px,#ff8000 72.5px,#ff8a00 79.5px,#ffaf00 90.5px,#fafe00 103.5px,#64ff00 126.5px,#0fff00 143.5px,#00ff02 147.5px,#00ff3c 156.5px,#00ffea 181.5px,#00feff 187.5px,#00efff 191.5px,#00e4ff 195.5px,#00daff 201.5px,#00cfff)"></i><i style="background:linear-gradient(90deg,#00c4ff,#00ddff 6.5px,#00fdf6 10.5px,#00ff7f 19.5px,#04ff09 27.5px,#34ff00 31.5px,#afff00 41.5px,#faf900 48.5px,#ffac00 58.5px,#ff8000 70.5px,#ff8600 79.5px,#ffb400 91.5px,#fbfe00 103.5px,#64ff00 126.5px,#0fff00 143.5px,#00ff01 147.5px,#00ff3c 156.5px,#00ffe8 181.5px,#00feff 187.5px,#00efff 191.5px,#00e4ff 195.5px,#00daff 201.5px,#00cfff)"></i><i style="background:linear-gradient(90deg,#00cbff,#00dbff 5.5px,#00fbfa 9.5px,#00ff7b 19.5px,#06ff06 27.5px,#99ff00 38.5px,#f8fb00 47.5px,#ffaf00 57.5px,#ff8d00 65.5px,#ff7f00 71.5px,#ff8400 79.5px,#ff9f00 86.5px,#ffd400 97.5px,#fdfe00 103.5px,#70ff00 124.5px,#0fff00 143.5px,#00ff01 147.5px,#00ff2c 154.5px,#00ffe0 180.5px,#00feff 187.5px,#00efff 192.5px,#00dfff 198.5px,#00d4ff 202.5px,#00cfff)"></i><i style="background:linear-gradient(90deg,#00cfff,#00dfff 5.5px,#00fdf7 9.5px,#00ff74 19.5px,#02ff0d 26.5px,#24ff00 29.5px,#adff00 39.5px,#f7fc00 46.5px,#ffc400 53.5px,#ff9200 62.5px,#ff7d00 71.5px,#ff8600 80.5px,#ff9f00 86.5px,#ffd400 97.5px,#fefd00 103.5px,#70ff00 124.5px,#0fff00 143.5px,#00ff01 147.5px,#00ff2c 154.5px,#00ffdf 180.5px,#00feff 187.5px,#00efff 192.5px,#00dfff 198.5px,#00d4ff 202.5px,#00cfff)"></i><i style="background:linear-gradient(90deg,#00d1ff,#00eaff 6.5px,#00fef3 9.5px,#00ff5e 20.5px,#05ff09 26.5px,#46ff00 31.5px,#abff00 38.5px,#f6fd00 45.5px,#ffdf00 49.5px,#ffa500 57.5px,#ff8000 67.5px,#ff7900 74.5px,#ff8400 80.5px,#ffa000 87.5px,#ffe300 99.5px,#fafe00 104.5px,#70ff00 124.5px,#0fff00 143.5px,#00ff01 147.5px,#00ff32 155.5px,#00ffdf 180.5px,#00ffff 187.5px,#00dfff 198.5px,#00d4ff 202.5px,#00cfff)"></i><i style="background:linear-gradient(90deg,#00d6ff,#00edff 6.5px,#00feef 9.5px,#00ff2b 23.5px,#09ff05 26.5px,#b4ff00 38.5px,#faf900 45.5px,#ffb400 54.5px,#ff8500 64.5px,#ff7200 73.5px,#ff9100 83.5px,#ffd300 97.5px,#fafe00 104.5px,#64ff00 126.5px,#01ff00 146.5px,#00ff1c 152.5px,#00ffdf 180.5px,#00ffff 187.5px,#00dfff 198.5px,#00d4ff 202.5px,#00cfff)"></i><i style="background:linear-gradient(90deg,#00dcff,#00eaff 5.5px,#00fdf6 8.5px,#00ff34 22.5px,#04ff09 25.5px,#35ff00 29.5px,#bfff00 38.5px,#f9f900 44.5px,#ffa900 55.5px,#ff7600 68.5px,#ff7400 76.5px,#ffcc00 96.5px,#fafe00 104.5px,#64ff00 126.5px,#01ff00 146.5px,#00ff1c 152.5px,#00ffea 182.5px,#00ffff 187.5px,#00dfff 198.5px,#00d4ff 202.5px,#00cfff)"></i><i style="background:linear-gradient(90deg,#00e0ff,#00f5fe 6.5px,#00ffe5 9.5px,#01ff11 24.5px,#11ff01 26.5px,#d4ff00 39.5px,#f9fa00 43.5px,#ffaa00 54.5px,#ff7200 68.5px,#ff7200 77.5px,#ffb000 91.5px,#fafe00 104.5px,#64ff00 126.5px,#10ff00 143.5px,#00ff05 148.5px,#00ff4c 159.5px,#00ffea 182.5px,#00ffff 187.5px,#00dfff 198.5px,#00d4ff 202.5px,#00cfff)"></i><i style="background:linear-gradient(90deg,#00e4ff,#00f9fd 6.5px,#00ffe0 9.5px,#02ff0d 24.5px,#24ff00 27.5px,#ddff00 39.5px,#f9fc00 42.5px,#ffa500 54.5px,#ff7200 67.5px,#ff7500 78.5px,#ffae00 90.5px,#ffe300 100.5px,#fafe00 104.5px,#64ff00 126.5px,#10ff00 143.5px,#00ff05 148.5px,#00ff3c 157.5px,#00ffea 182.5px,#00ffff 187.5px,#00dfff 198.5px,#00d4ff 202.5px,#00cfff)"></i><i style="background:linear-gradient(90deg,#00ebff,#00fdfb 6.5px,#00ffda 9.5px,#05ff09 24.5px,#4cff00 29.5px,#e5ff00 39.5px,#fdf800 42.5px,#ffb100 51.5px,#ff8200 61.5px,#ff7000 69.5px,#ff7400 78.5px,#ffae00 90.5px,#ffe300 100.5px,#fbfe00 104.5px,#64ff00 126.5px,#11ff00 143.5px,#00ff05 148.5px,#00ff3c 157.5px,#00ffef 183.5px,#00ffff 187.5px,#00dfff 198.5px,#00d0ff)"></i><i style="background:linear-gradient(90deg,#00f0ff,#00fef7 6.5px,#00ffa9 12.5px,#02ff0e 23.5px,#24ff00 26.5px,#e1ff00 38.5px,#fcf900 41.5px,#ffa500 52.5px,#ff7200 65.5px,#ff7300 78.5px,#ffa000 87.5px,#ffdb00 99.5px,#fdfe00 104.5px,#64ff00 126.5px,#11ff00 143.5px,#00ff04 148.5px,#00ff3c 157.5px,#00ffef 183.5px,#00feff 188.5px,#00dfff 197.5px,#00d8ff 202.5px,#00d0ff)"></i><i style="background:linear-gradient(90deg,#00f6ff,#00fef9 5.5px,#00ffdd 8.5px,#05ff09 23.5px,#4bff00 28.5px,#e8ff00 38.5px,#fef300 41.5px,#ff9f00 52.5px,#ff7000 65.5px,#ff7000 77.5px,#ffae00 90.5px,#ffdb00 99.5px,#fefd00 104.5px,#64ff00 126.5px,#11ff00 143.5px,#00ff07 149.5px,#00ffb3 174.5px,#00fffb 186.5px,#00f4ff 190.5px,#00dfff 198.5px,#00daff 202.5px,#00d0ff)"></i><i style="background:linear-gradient(90deg,#00fbfe,#00fff4 5.5px,#00ffca 9.5px,#02ff0e 22.5px,#24ff00 25.5px,#f0fe00 38.5px,#ffeb00 41.5px,#ff9a00 52.5px,#ff7000 64.5px,#ff6700 71.5px,#ff7500 79.5px,#ffa000 87.5px,#ffd300 98.5px,#fafe00 105.5px,#6bff00 125.5px,#11ff00 143.5px,#00ff05 149.5px,#00ffe6 182.5px,#00feff 188.5px,#00dfff 197.5px,#00dbff 202.5px,#00d1ff)"></i><i style="background:linear-gradient(90deg,#00fefa,#00ffe7 6.5px,#00ffa3 11.5px,#05ff09 22.5px,#4aff00 27.5px,#a9ff00 33.5px,#f6fd00 38.5px,#ffd400 43.5px,#ff9100 53.5px,#ff7000 63.5px,#ff6200 71.5px,#ff7000 77.5px,#ff8c00 83.5px,#ffb000 91.5px,#ffd300 98.5px,#fafe00 105.5px,#6bff00 125.5px,#2fff00 137.5px,#00ff01 148.5px,#00ff40 158.5px,#00ffdf 181.5px,#00feff 188.5px,#00dfff 197.5px,#00d9ff 203.5px,#00d3ff)"></i><i style="background:linear-gradient(90deg,#00fff3,#00ffe7 5.5px,#00ffbb 9.5px,#00ff29 19.5px,#09ff05 22.5px,#b2ff00 33.5px,#f1fe00 37.5px,#ffea00 40.5px,#ffaa00 48.5px,#ff7200 60.5px,#ff6000 71.5px,#ff7000 77.5px,#ff9600 85.5px,#ffcb00 97.5px,#fafe00 105.5px,#8cff00 120.5px,#54ff00 129.5px,#01ff00 147.5px,#00ff1c 153.5px,#00ffdf 181.5px,#00feff 188.5px,#00dfff 197.5px,#00d7ff)"></i><i style="background:linear-gradient(90deg,#00ffeb,#00ffde 5.5px,#00ffb3 9.5px,#00ff1f 19.5px,#0fff02 22.5px,#f6fd00 37.5px,#ffd100 42.5px,#ff9400 51.5px,#ff6e00 61.5px,#ff6000 70.5px,#ff7b00 80.5px,#ffaf00 91.5px,#ffdc00 100.5px,#fafe00 105.5px,#a3ff00 117.5px,#64ff00 126.5px,#11ff00 143.5px,#00ff05 149.5px,#00ff54 161.5px,#00ffea 183.5px,#00feff 188.5px,#00dfff 197.5px,#00dcff)"></i><i style="background:linear-gradient(90deg,#00ffe3,#00ffd4 5.5px,#00ffaa 9.5px,#01ff15 19.5px,#15ff01 22.5px,#f1fe00 36.5px,#ffe700 39.5px,#ffa000 48.5px,#ff6f00 59.5px,#ff6000 68.5px,#ff6400 73.5px,#ff7000 77.5px,#ffd400 99.5px,#fbfe00 105.5px,#9bff00 118.5px,#54ff00 129.5px,#01ff00 147.5px,#00ff1c 153.5px,#00ffea 183.5px,#00feff 188.5px,#00dfff 198.5px,#00deff)"></i><i style="background:linear-gradient(90deg,#00ffdb,#00ffcb 5.5px,#00ff9f 9.5px,#01ff1b 18.5px,#12ff01 21.5px,#f6fc00 36.5px,#ffcf00 41.5px,#ff8a00 51.5px,#ff6100 63.5px,#ff6400 73.5px,#ff7000 77.5px,#ffd400 99.5px,#fdfe00 105.5px,#64ff00 126.5px,#11ff00 143.5px,#00ff05 149.5px,#00ff4c 160.5px,#00ffef 184.5px,#00ffff 188.5px,#00dfff 198.5px,#00dfff)"></i><i style="background:linear-gradient(90deg,#00ffd3,#00ffc2 5.5px,#00ff94 9.5px,#00ff1f 17.5px,#0fff02 20.5px,#84ff00 28.5px,#f1fd00 35.5px,#ffe500 38.5px,#ff9600 48.5px,#ff6900 58.5px,#ff5f00 68.5px,#ff6400 73.5px,#ff7000 77.5px,#ffd400 99.5px,#fefd00 105.5px,#afff00 116.5px,#80ff00 122.5px,#31ff00 136.5px,#00ff01 148.5px,#00ff34 157.5px,#00ffea 183.5px,#00ffff 188.5px,#00dfff 199.5px,#00dfff)"></i><i style="background:linear-gradient(90deg,#00ffcb,#00ffb8 5.5px,#00ff8a 9.5px,#01ff14 17.5px,#17ff01 20.5px,#f6fa00 35.5px,#ffcc00 40.5px,#ff7a00 52.5px,#ff5f00 61.5px,#ff6000 72.5px,#ff7000 77.5px,#ffd300 99.5px,#fafe00 106.5px,#a9ff00 117.5px,#65ff00 126.5px,#01ff00 147.5px,#00ff25 155.5px,#00ffea 183.5px,#00feff 189.5px,#00dfff 198.5px,#00dfff)"></i><i style="background:linear-gradient(90deg,#00ffc3,#00ffad 5.5px,#00ff7f 9.5px,#03ff0c 17.5px,#21ff00 20.5px,#f1fd00 34.5px,#ffe200 37.5px,#ff9400 47.5px,#ff6500 56.5px,#ff5700 68.5px,#ff7b00 80.5px,#ffcc00 98.5px,#fafe00 106.5px,#a2ff00 118.5px,#54ff00 129.5px,#01ff00 147.5px,#00ff19 153.5px,#00ffed 184.5px,#00feff 189.5px,#00dfff 198.5px,#00dfff)"></i><i style="background:linear-gradient(90deg,#00ffbb,#00ff9a 6.5px,#00ff54 11.5px,#08ff07 17.5px,#56ff00 23.5px,#f6fa00 34.5px,#ffc900 39.5px,#ff7100 52.5px,#ff5500 62.5px,#ff5200 68.5px,#ff7f00 81.5px,#ffcb00 98.5px,#fafe00 106.5px,#9bff00 119.5px,#50ff00 130.5px,#01ff00 147.5px,#00ff11 152.5px,#00ffe6 183.5px,#00feff 189.5px,#00dfff 199.5px,#00dfff)"></i><i style="background:linear-gradient(90deg,#00ffb3,#00ff8f 6.5px,#00ff4b 11.5px,#07ff08 16.5px,#35ff00 20.5px,#f3fc00 33.5px,#ffdf00 36.5px,#ff9f00 44.5px,#ff6100 55.5px,#ff5000 64.5px,#ff5500 69.5px,#ff8400 82.5px,#ffcb00 98.5px,#fafe00 106.5px,#a4ff00 118.5px,#55ff00 129.5px,#02ff00 147.5px,#00ff0b 151.5px,#00ff64 164.5px,#00ffeb 184.5px,#00feff 189.5px,#00efff 194.5px,#00dfff 200.5px,#00dfff)"></i><i style="background:linear-gradient(90deg,#00ffab,#00ff84 6.5px,#00ff31 12.5px,#05ff0a 15.5px,#31ff00 19.5px,#f0fd00 32.5px,#ffe500 35.5px,#ffb500 40.5px,#ff6500 53.5px,#ff5000 61.5px,#ff5300 69.5px,#ff8300 82.5px,#ffcb00 98.5px,#fafe00 106.5px,#b8ff00 116.5px,#70ff00 125.5px,#12ff00 143.5px,#00ff05 150.5px,#00ff54 162.5px,#00ffea 184.5px,#00feff 189.5px,#00efff 194.5px,#00dfff 200.5px,#00dfff)"></i><i style="background:linear-gradient(90deg,#00ffa2,#00ff79 6.5px,#03ff0e 14.5px,#21ff00 17.5px,#f6fb00 32.5px,#ffc700 37.5px,#ff6100 53.5px,#ff4f00 60.5px,#ff5600 70.5px,#ff9400 86.5px,#ffd400 100.5px,#fbfe00 106.5px,#baff00 116.5px,#74ff00 124.5px,#10ff00 144.5px,#00ff05 150.5px,#00ff4c 161.5px,#00ffea 184.5px,#00feff 189.5px,#00efff 194.5px,#00dfff 200.5px,#00dfff)"></i><i style="background:linear-gradient(90deg,#00ff99,#00ff61 7.5px,#02ff11 13.5px,#1dff00 16.5px,#f1fd00 31.5px,#ffe200 34.5px,#ffb200 39.5px,#ff6100 52.5px,#ff4b00 60.5px,#ff5500 70.5px,#ff7000 77.5px,#ffc400 97.5px,#fdfe00 106.5px,#b2ff00 117.5px,#70ff00 125.5px,#1fff00 141.5px,#00ff01 149.5px,#00ff34 158.5px,#00ffea 184.5px,#00ffff 189.5px,#00dfff 200.5px,#00dfff)"></i><i style="background:linear-gradient(90deg,#00ff91,#00ff55 7.5px,#05ff09 13.5px,#43ff00 18.5px,#ecfe00 30.5px,#ffe800 33.5px,#ffb500 38.5px,#ff5e00 52.5px,#ff4500 61.5px,#ff5400 70.5px,#ff7000 77.5px,#ffc400 97.5px,#fefd00 106.5px,#bcff00 116.5px,#71ff00 125.5px,#1fff00 141.5px,#00ff01 149.5px,#00ff34 158.5px,#00ffea 184.5px,#00feff 190.5px,#00efff 195.5px,#00dfff 201.5px,#00dfff)"></i><i style="background:linear-gradient(90deg,#00ff89,#00ff55 6.5px,#03ff0c 12.5px,#23ff00 15.5px,#f3fd00 30.5px,#ffe100 33.5px,#ffb000 38.5px,#ff5500 53.5px,#ff4100 61.5px,#ff4a00 67.5px,#ff7000 77.5px,#ffc300 97.5px,#fafe00 107.5px,#acff00 118.5px,#6bff00 126.5px,#1fff00 141.5px,#00ff01 149.5px,#00ff33 158.5px,#00ffed 185.5px,#00feff 190.5px,#00efff 195.5px,#00dfff 201.5px,#00dfff)"></i><i style="background:linear-gradient(90deg,#00ff81,#00ff4b 6.5px,#08ff07 12.5px,#8dff00 22.5px,#eefe00 29.5px,#ffe600 32.5px,#ffab00 38.5px,#ff5100 53.5px,#ff4000 59.5px,#ff4600 67.5px,#ff7000 77.5px,#ffc600 98.5px,#fafe00 107.5px,#b6ff00 117.5px,#64ff00 127.5px,#1fff00 141.5px,#00ff01 149.5px,#00ff2c 157.5px,#00ffe6 184.5px,#00feff 190.5px,#00efff 195.5px,#00dfff 201.5px,#00dfff)"></i><i style="background:linear-gradient(90deg,#00ff79,#00ff42 6.5px,#05ff08 11.5px,#43ff00 16.5px,#f3fd00 29.5px,#ffd500 33.5px,#ffa000 39.5px,#ff4a00 54.5px,#ff3f00 60.5px,#ff4400 67.5px,#ff7000 77.5px,#ffc400 98.5px,#fafe00 107.5px,#b9ff00 117.5px,#64ff00 127.5px,#1fff00 141.5px,#00ff01 149.5px,#00ff24 156.5px,#00ffeb 185.5px,#00feff 190.5px,#00efff 195.5px,#00dfff 202.5px,#00dfff)"></i><i style="background:linear-gradient(90deg,#00ff71,#00ff44 5.5px,#03ff09 10.5px,#2eff00 14.5px,#f0fe00 28.5px,#ffe600 31.5px,#ffa300 38.5px,#ff4500 54.5px,#ff3c00 61.5px,#ff4600 68.5px,#ff7000 77.5px,#ffc400 98.5px,#fbfe00 107.5px,#baff00 117.5px,#65ff00 127.5px,#1fff00 141.5px,#00ff00 149.5px,#00ff24 156.5px,#00ffea 185.5px,#00ffff 190.5px,#00dfff 202.5px,#00dfff)"></i><i style="background:linear-gradient(90deg,#00ff69,#00ff3b 5.5px,#07ff05 10.5px,#7cff00 19.5px,#f6fd00 28.5px,#ffd500 32.5px,#ff9f00 38.5px,#ff4200 54.5px,#ff3700 61.5px,#ff4b00 69.5px,#ff7000 77.5px,#ffc400 98.5px,#fdfe00 107.5px,#bbff00 117.5px,#6dff00 126.5px,#1fff00 141.5px,#00ff00 149.5px,#00ff23 156.5px,#00ffef 186.5px,#00ffff 190.5px,#00efff 196.5px,#00dfff 202.5px,#00dfff)"></i><i style="background:linear-gradient(90deg,#00ff61,#00ff32 5.5px,#05ff07 9.5px,#3eff00 14.5px,#f9fb00 28.5px,#ffa300 37.5px,#ff4200 53.5px,#ff3100 60.5px,#ff4900 69.5px,#ff7000 77.5px,#ffa900 92.5px,#ffdb00 102.5px,#fefe00 107.5px,#bbff00 117.5px,#6eff00 126.5px,#1fff00 141.5px,#00ff00 149.5px,#00ff27 157.5px,#00ffea 185.5px,#00feff 191.5px,#00efff 196.5px,#00dfff 203.5px,#00dfff)"></i><i style="background:linear-gradient(90deg,#00ff5c,#03ff09 8.5px,#2cff00 12.5px,#f3fe00 27.5px,#ffe500 30.5px,#ffa000 37.5px,#ff4200 52.5px,#ff3000 60.5px,#ff4200 68.5px,#ff6e00 76.5px,#ff9500 88.5px,#ffd300 101.5px,#fefd00 107.5px,#bcff00 117.5px,#74ff00 125.5px,#21ff00 140.5px,#00ff00 149.5px,#00ff25 157.5px,#00ffed 186.5px,#00feff 191.5px,#00efff 196.5px,#00dfff 203.5px,#00dfff)"></i><i style="background:linear-gradient(90deg,#00ff57,#07ff05 8.5px,#5bff00 15.5px,#f7fd00 27.5px,#ffc000 33.5px,#ff7c00 42.5px,#ff4000 52.5px,#ff3000 59.5px,#ff3400 64.5px,#ff5200 71.5px,#ff6f00 77.5px,#ffa500 92.5px,#ffd900 102.5px,#fafe00 108.5px,#beff00 117.5px,#74ff00 125.5px,#22ff00 140.5px,#00ff01 150.5px,#00ff34 159.5px,#00ffec 186.5px,#00ffff 191.5px,#00efff 197.5px,#00dfff 203.5px,#00dfff)"></i><i style="background:linear-gradient(90deg,#00ff51,#05ff07 7.5px,#46ff00 13.5px,#f0fe00 26.5px,#ffe900 29.5px,#ffab00 35.5px,#ff4500 50.5px,#ff3000 57.5px,#ff3600 65.5px,#ff6600 75.5px,#ffa400 92.5px,#ffde00 103.5px,#fafe00 108.5px,#c0ff00 117.5px,#75ff00 125.5px,#2eff00 138.5px,#10ff00 145.5px,#00ff05 151.5px,#00ff54 164.5px,#00ffeb 186.5px,#00ffff 191.5px,#00efff 197.5px,#00dfff)"></i><i style="background:linear-gradient(90deg,#00ff4b,#03ff09 6.5px,#36ff00 11.5px,#f4fe00 26.5px,#ffe500 29.5px,#ffa100 36.5px,#ff4000 50.5px,#ff2c00 58.5px,#ff3400 65.5px,#ff7000 78.5px,#ffa900 93.5px,#ffdc00 103.5px,#fafe00 108.5px,#c2ff00 117.5px,#77ff00 125.5px,#31ff00 137.5px,#10ff00 145.5px,#00ff05 151.5px,#00ff54 164.5px,#00ffef 187.5px,#00feff 192.5px,#00efff 197.5px,#00dfff)"></i><i style="background:linear-gradient(90deg,#00ff46,#07ff05 6.5px,#a2ff00 19.5px,#f7fd00 26.5px,#ffc000 32.5px,#ff4100 49.5px,#ff2500 59.5px,#ff3c00 67.5px,#ff7000 78.5px,#ffa600 93.5px,#ffd300 102.5px,#fbfe00 108.5px,#c3ff00 117.5px,#72ff00 126.5px,#31ff00 137.5px,#00ff01 150.5px,#00ff37 160.5px,#00ffed 187.5px,#00feff 192.5px,#00efff 197.5px,#00dfff)"></i><i style="background:linear-gradient(90deg,#00ff3e,#05ff08 5.5px,#46ff00 11.5px,#f9fb00 26.5px,#ffa400 35.5px,#ff3e00 49.5px,#ff2100 59.5px,#ff4300 69.5px,#ff6f00 78.5px,#ffb100 96.5px,#ffdb00 103.5px,#fdfe00 108.5px,#c3ff00 117.5px,#64ff00 128.5px,#2fff00 138.5px,#00ff01 150.5px,#00ff24 157.5px,#00ffec 187.5px,#00ffff 192.5px,#00efff 198.5px,#00dfff)"></i><i style="background:linear-gradient(90deg,#00ff37,#08ff04 5.5px,#f4fe00 25.5px,#ffe500 28.5px,#ffa300 35.5px,#ff4000 48.5px,#ff2100 57.5px,#ff2700 62.5px,#ff4d00 71.5px,#ff7000 79.5px,#ffb400 97.5px,#fefd00 108.5px,#bbff00 118.5px,#64ff00 128.5px,#21ff00 141.5px,#00ff00 150.5px,#00ff23 157.5px,#00ffef 188.5px,#00ffff 192.5px,#00efff 198.5px,#00dfff)"></i><i style="background:linear-gradient(90deg,#00ff31,#05ff07 4.5px,#79ff00 14.5px,#f7fd00 25.5px,#ffc200 31.5px,#ff3b00 48.5px,#ff2000 56.5px,#ff2400 62.5px,#ff5200 72.5px,#ff7000 79.5px,#ffb300 97.5px,#fafe00 109.5px,#b3ff00 119.5px,#64ff00 128.5px,#1fff00 142.5px,#00ff00 150.5px,#00ff2d 159.5px,#00ffef 188.5px,#00feff 193.5px,#00efff 198.5px,#00dfff)"></i><i style="background:linear-gradient(90deg,#00ff2b,#09ff03 4.5px,#f9fb00 25.5px,#ff9f00 35.5px,#ff6500 42.5px,#ff2d00 50.5px,#ff2000 57.5px,#ff2700 63.5px,#ff5600 73.5px,#ff7000 80.5px,#ffbc00 99.5px,#fafe00 109.5px,#beff00 118.5px,#6cff00 127.5px,#1fff00 142.5px,#00ff00 150.5px,#00ff25 158.5px,#00ffed 188.5px,#00feff 193.5px,#00efff 198.5px,#00dfff)"></i><i style="background:linear-gradient(90deg,#00ff26,#05ff05 3.5px,#f4fe00 24.5px,#ffe500 27.5px,#ff9d00 35.5px,#ff7600 40.5px,#ff4000 46.5px,#ff2200 52.5px,#ff2500 63.5px,#ff6f00 79.5px,#ffac00 96.5px,#ffd300 103.5px,#fafe00 109.5px,#c0ff00 118.5px,#6cff00 127.5px,#1fff00 142.5px,#00ff01 151.5px,#00ff4c 164.5px,#00ffef 189.5px,#00ffff 193.5px,#00efff 199.5px,#00e0ff)"></i><i style="background:linear-gradient(90deg,#00ff1f,#09ff02 3.5px,#95ff00 15.5px,#f7fd00 24.5px,#ffc200 30.5px,#ff7300 40.5px,#ff3d00 46.5px,#ff2100 51.5px,#ff1e00 61.5px,#ff5400 73.5px,#ff8000 85.5px,#ffb900 99.5px,#fafe00 109.5px,#c2ff00 118.5px,#74ff00 126.5px,#23ff00 141.5px,#00ff01 151.5px,#00ff4c 164.5px,#00ffef 189.5px,#00feff 194.5px,#00efff 199.5px,#00e1ff)"></i><i style="background:linear-gradient(90deg,#00ff1a,#0dff01 3.5px,#91ff00 14.5px,#f9fb00 24.5px,#ffa900 33.5px,#ff7100 40.5px,#ff3900 46.5px,#ff1f00 51.5px,#ff1500 59.5px,#ff4e00 72.5px,#ff7000 81.5px,#ffb100 98.5px,#fbfe00 109.5px,#c3ff00 118.5px,#74ff00 126.5px,#2fff00 139.5px,#00ff01 151.5px,#00ff5d 167.5px,#00ffed 189.5px,#00feff 194.5px,#00efff 199.5px,#00e3ff)"></i><i style="background:linear-gradient(90deg,#00ff16,#12ff01 3.5px,#76ff00 11.5px,#fbfa00 24.5px,#ffad00 32.5px,#ff7b00 39.5px,#ff3600 46.5px,#ff1c00 51.5px,#ff1100 59.5px,#ff6f00 80.5px,#ffa600 96.5px,#ffdf00 105.5px,#fdfe00 109.5px,#c3ff00 118.5px,#74ff00 126.5px,#32ff00 138.5px,#00ff01 151.5px,#00ff5c 167.5px,#00fff0 190.5px,#00ffff 194.5px,#00efff 200.5px,#00e7ff)"></i><i style="background:linear-gradient(90deg,#01ff10,#17ff00 3.5px,#88ff00 12.5px,#fdf900 24.5px,#ffab00 32.5px,#ff7a00 39.5px,#ff3a00 45.5px,#ff1700 51.5px,#ff1200 60.5px,#ff6e00 80.5px,#ffa900 97.5px,#ffe600 106.5px,#fefd00 109.5px,#bbff00 119.5px,#75ff00 126.5px,#33ff00 138.5px,#00ff01 151.5px,#00ff5b 167.5px,#00ffef 190.5px,#00ffff 194.5px,#00efff 200.5px,#00ecff)"></i><i style="background:linear-gradient(90deg,#01ff0c,#1cff00 3.5px,#8dff00 12.5px,#f9fd00 23.5px,#ffa200 33.5px,#ff7800 39.5px,#ff3e00 44.5px,#ff1300 51.5px,#ff1400 61.5px,#ff6000 77.5px,#ffa600 97.5px,#ffe400 106.5px,#fafe00 110.5px,#bbff00 119.5px,#71ff00 127.5px,#25ff00 141.5px,#00ff01 151.5px,#00ff66 169.5px,#00fff4 191.5px,#00feff 195.5px,#00efff 199.5px,#00eeff)"></i><i style="background:linear-gradient(90deg,#01ff0b,#11ff01 2.5px,#70ff00 9.5px,#fbfb00 23.5px,#ffa600 32.5px,#ff7f00 38.5px,#ff3200 45.5px,#ff1100 51.5px,#ff1200 61.5px,#ff6000 77.5px,#ffab00 98.5px,#fafe00 110.5px,#b2ff00 120.5px,#64ff00 129.5px,#11ff00 146.5px,#00ff05 152.5px,#00ff7d 173.5px,#00ffef 190.5px,#00feff 195.5px,#00efff 200.5px,#00efff)"></i><i style="background:linear-gradient(90deg,#02ff08,#23ff00 3.5px,#75ff00 9.5px,#f7fe00 22.5px,#ffd000 27.5px,#ff9f00 33.5px,#ff7100 39.5px,#ff2e00 45.5px,#ff1000 51.5px,#ff1500 62.5px,#ff5f00 77.5px,#ff8000 87.5px,#ffb000 99.5px,#fafe00 110.5px,#beff00 119.5px,#73ff00 127.5px,#23ff00 142.5px,#00ff01 151.5px,#00ff2d 160.5px,#00ffab 180.5px,#00fff1 191.5px,#00fbff 196.5px,#00efff 200.5px,#00efff)"></i><i style="background:linear-gradient(90deg,#04ff03,#8fff00 11.5px,#fafd00 22.5px,#ffa400 32.5px,#ff7b00 38.5px,#ff2c00 45.5px,#ff1100 50.5px,#ff1500 62.5px,#ff6100 78.5px,#ffa400 97.5px,#ffe300 106.5px,#fafe00 110.5px,#caff00 118.5px,#7cff00 126.5px,#44ff00 135.5px,#00ff01 151.5px,#00ff33 161.5px,#00ffab 180.5px,#00fff0 191.5px,#00ffff 195.5px,#00efff 201.5px,#00efff)"></i><i style="background:linear-gradient(90deg,#06ff01,#92ff00 11.5px,#fbfb00 22.5px,#ffa200 32.5px,#ff7a00 38.5px,#ff3200 44.5px,#ff1000 50.5px,#ff1400 62.5px,#ff6f00 81.5px,#ff9f00 96.5px,#ffcf00 104.5px,#fafe00 110.5px,#cbff00 118.5px,#7cff00 126.5px,#44ff00 135.5px,#00ff00 151.5px,#00ff3d 163.5px,#00ffbd 183.5px,#00ffef 191.5px,#00ffff 195.5px,#00efff 201.5px,#00efff)"></i><i style="background:linear-gradient(90deg,#06ff00,#8aff00 10.5px,#fdfa00 22.5px,#ff9f00 32.5px,#ff7800 38.5px,#ff2e00 44.5px,#ff1100 49.5px,#ff1200 62.5px,#ff6e00 81.5px,#ffa100 97.5px,#ffd600 105.5px,#fafe00 110.5px,#cbff00 118.5px,#74ff00 127.5px,#32ff00 139.5px,#00ff01 152.5px,#00ff6d 171.5px,#00ffef 191.5px,#00ffff 195.5px,#00efff 201.5px,#00efff)"></i><i style="background:linear-gradient(90deg,#06ff00,#66ff00 7.5px,#d3ff00 17.5px,#fef900 22.5px,#ffa400 31.5px,#ff7400 38.5px,#ff2b00 44.5px,#ff1000 49.5px,#ff1500 63.5px,#ff6000 78.5px,#ff9000 93.5px,#ffb900 101.5px,#ffe800 107.5px,#fbfe00 110.5px,#c3ff00 119.5px,#74ff00 127.5px,#33ff00 139.5px,#00ff01 152.5px,#00ff6c 171.5px,#00ffef 191.5px,#00ffff 195.5px,#00efff 201.5px,#00efff)"></i><i style="background:linear-gradient(90deg,#06ff00,#75ff00 8.5px,#e9ff00 19.5px,#fef700 22.5px,#ffa200 31.5px,#ff7100 38.5px,#ff2700 44.5px,#ff1000 49.5px,#ff1000 61.5px,#ff6f00 82.5px,#ffa000 97.5px,#ffdc00 106.5px,#fdfe00 110.5px,#c3ff00 119.5px,#74ff00 127.5px,#3fff00 137.5px,#01ff00 151.5px,#00ff35 162.5px,#00ffb3 182.5px,#00fffa 193.5px,#00faff 197.5px,#00efff 201.5px,#00efff)"></i><i style="background:linear-gradient(90deg,#06ff00,#79ff00 8.5px,#f5fe00 20.5px,#ffeb00 23.5px,#ffa000 31.5px,#ff6e00 38.5px,#ff2500 44.5px,#ff0f00 49.5px,#ff0500 57.5px,#ff2000 65.5px,#ff5f00 78.5px,#ff7f00 87.5px,#ff9b00 96.5px,#ffcb00 104.5px,#fefd00 110.5px,#c3ff00 119.5px,#74ff00 127.5px,#21ff00 143.5px,#00ff01 152.5px,#00ff7c 174.5px,#00ffef 191.5px,#00feff 196.5px,#00efff 201.5px,#00efff)"></i><i style="background:linear-gradient(90deg,#07ff00,#86ff00 9.5px,#f7fe00 20.5px,#ffde00 24.5px,#ff9e00 31.5px,#ff6c00 38.5px,#ff2400 44.5px,#ff0e00 49.5px,#ff0100 54.5px,#ff0400 59.5px,#ff5f00 78.5px,#ff7f00 87.5px,#ff9b00 96.5px,#ffcb00 104.5px,#fefb00 110.5px,#c3ff00 119.5px,#75ff00 127.5px,#11ff00 147.5px,#00ff05 153.5px,#00ff82 175.5px,#00ffee 191.5px,#00fdff 197.5px,#00efff 202.5px,#00efff)"></i><i style="background:linear-gradient(90deg,#0bff00,#89ff00 9.5px,#f9fd00 20.5px,#ff9600 32.5px,#ff6900 38.5px,#ff2a00 43.5px,#ff1100 47.5px,#ff0000 54.5px,#ff0600 60.5px,#ff6000 79.5px,#ff7f00 87.5px,#ff8b00 91.5px,#ffa300 98.5px,#fafe00 111.5px,#bcff00 120.5px,#77ff00 127.5px,#20ff00 144.5px,#00ff01 152.5px,#00ff55 168.5px,#00ffb3 182.5px,#00fff0 192.5px,#00ffff 196.5px,#00efff 202.5px,#00efff)"></i><i style="background:linear-gradient(90deg,#11ff00,#94ff00 10.5px,#fafb00 20.5px,#ff9400 32.5px,#ff6500 38.5px,#ff1e00 44.5px,#ff0000 52.5px,#ff0400 60.5px,#ff6f00 82.5px,#ff8000 88.5px,#ffa100 98.5px,#fafe00 111.5px,#beff00 120.5px,#79ff00 127.5px,#31ff00 140.5px,#00ff01 152.5px,#00ff33 162.5px,#00ff9b 179.5px,#00ffec 191.5px,#00ffff 196.5px,#00efff 202.5px,#00efff)"></i><i style="background:linear-gradient(90deg,#15ff00,#aeff00 12.5px,#fbfa00 20.5px,#ff9900 31.5px,#ff6100 38.5px,#ff1c00 44.5px,#ff0000 52.5px,#ff0700 61.5px,#ff6000 79.5px,#ff7f00 87.5px,#ff9c00 97.5px,#ffd200 105.5px,#fafe00 111.5px,#caff00 119.5px,#7bff00 127.5px,#40ff00 137.5px,#00ff01 152.5px,#00ff37 163.5px,#00ff9b 179.5px,#00ffeb 191.5px,#00ffff 196.5px,#00efff 202.5px,#00efff)"></i><i style="background:linear-gradient(90deg,#16ff00,#afff00 12.5px,#fdfa00 20.5px,#ff9600 31.5px,#ff5e00 38.5px,#ff1a00 44.5px,#ff0000 51.5px,#ff0500 61.5px,#ff6000 79.5px,#ff7f00 87.5px,#ff9b00 97.5px,#ffd900 106.5px,#fafe00 111.5px,#caff00 119.5px,#7cff00 127.5px,#40ff00 137.5px,#00ff01 152.5px,#00ff3c 164.5px,#00ffbc 184.5px,#00ffea 191.5px,#00ffff 196.5px,#00efff 203.5px,#00efff)"></i><i style="background:linear-gradient(90deg,#16ff00,#a4ff00 11.5px,#f9fe00 19.5px,#ff8d00 32.5px,#ff4e00 39.5px,#ff1700 44.5px,#ff0000 51.5px,#ff0500 61.5px,#ff6000 79.5px,#ff7f00 87.5px,#ff8600 91.5px,#ffa400 99.5px,#ffd600 106.5px,#fafe00 111.5px,#cbff00 119.5px,#7cff00 127.5px,#37ff00 139.5px,#00ff00 152.5px,#00ff3c 164.5px,#00ffc3 185.5px,#00fffa 194.5px,#00f8ff 199.5px,#00efff)"></i><i style="background:linear-gradient(90deg,#16ff00,#9cff00 10.5px,#fafd00 19.5px,#ff8c00 32.5px,#ff3e00 40.5px,#ff1500 44.5px,#ff0000 50.5px,#ff0400 61.5px,#ff6000 79.5px,#ff7f00 87.5px,#ff8500 91.5px,#ffa400 99.5px,#ffd400 106.5px,#fefa00 110.5px,#cbff00 119.5px,#74ff00 128.5px,#33ff00 140.5px,#00ff01 153.5px,#00ff6b 172.5px,#00ffcb 186.5px,#00fffe 195.5px,#00faff 199.5px,#00efff 203.5px,#00efff)"></i><i style="background:linear-gradient(90deg,#16ff00,#76ff00 7.5px,#eaff00 17.5px,#fef500 20.5px,#ff9900 30.5px,#ff4600 39.5px,#ff1400 44.5px,#ff0000 50.5px,#ff0200 61.5px,#ff5c00 78.5px,#ff7f00 87.5px,#ff8400 91.5px,#ffa400 99.5px,#ffd400 106.5px,#fefa00 110.5px,#cbff00 119.5px,#75ff00 128.5px,#21ff00 144.5px,#00ff01 153.5px,#00ff54 168.5px,#00ffbb 184.5px,#00ffef 192.5px,#00ffff 196.5px,#00f4ff 200.5px,#00efff)"></i><i style="background:linear-gradient(90deg,#16ff00,#79ff00 7.5px,#f5fe00 18.5px,#ffde00 22.5px,#ff8f00 31.5px,#ff2e00 41.5px,#ff1200 44.5px,#ff0000 49.5px,#ff0500 62.5px,#ff4f00 75.5px,#ff7f00 87.5px,#ff8400 91.5px,#ffa400 99.5px,#ffd400 106.5px,#fdfe00 111.5px,#c3ff00 120.5px,#76ff00 128.5px,#1fff00 145.5px,#00ff01 153.5px,#00ff53 168.5px,#00ffab 182.5px,#00ffef 192.5px,#00ffff 196.5px,#00f4ff 200.5px,#00efff)"></i><i style="background:linear-gradient(90deg,#16ff00,#7aff00 7.5px,#f7fe00 18.5px,#ffc900 24.5px,#ff5500 37.5px,#ff1000 44.5px,#ff0000 49.5px,#ff0500 62.5px,#ff4f00 75.5px,#ff7000 83.5px,#ff8000 89.5px,#ff9f00 98.5px,#ffcb00 105.5px,#fefd00 111.5px,#baff00 121.5px,#79ff00 128.5px,#21ff00 144.5px,#00ff01 153.5px,#00ff7c 175.5px,#00ffef 192.5px,#00ffff 196.5px,#00f4ff 200.5px,#00efff)"></i><i style="background:linear-gradient(90deg,#16ff00,#7bff00 7.5px,#f9fe00 18.5px,#ff9300 30.5px,#ff5000 37.5px,#ff0f00 44.5px,#ff0000 48.5px,#ff0500 62.5px,#ff5000 76.5px,#ff7000 83.5px,#ff8000 89.5px,#ff9e00 98.5px,#ffd300 106.5px,#fafe00 112.5px,#bbff00 121.5px,#73ff00 129.5px,#1fff00 145.5px,#00ff01 153.5px,#00ff7c 175.5px,#00ffef 192.5px,#00ffff 196.5px,#00efff)"></i><i style="background:linear-gradient(90deg,#16ff00,#86ff00 8.5px,#f9fe00 18.5px,#ff9300 30.5px,#ff6200 35.5px,#ff1300 43.5px,#ff0000 47.5px,#ff0500 62.5px,#ff6f00 82.5px,#ff8000 89.5px,#ff9c00 98.5px,#ffe300 108.5px,#fafe00 112.5px,#bbff00 121.5px,#6cff00 130.5px,#11ff00 148.5px,#00ff05 154.5px,#00ff5c 170.5px,#00ffb3 183.5px,#00fffa 194.5px,#00f8ff 200.5px,#00efff)"></i><i style="background:linear-gradient(90deg,#16ff00,#89ff00 8.5px,#f9fd00 18.5px,#ff9900 29.5px,#ff6e00 34.5px,#ff3200 39.5px,#ff0400 45.5px,#ff0500 62.5px,#ff6f00 82.5px,#ff8000 89.5px,#ff9b00 98.5px,#fafe00 112.5px,#bcff00 121.5px,#74ff00 129.5px,#2fff00 142.5px,#00ff01 153.5px,#00ff33 163.5px,#00ffa3 181.5px,#00ffef 192.5px,#00ffff 197.5px,#00efff)"></i><i style="background:linear-gradient(90deg,#16ff00,#8aff00 8.5px,#f9fb00 18.5px,#ff9600 29.5px,#ff6b00 34.5px,#ff2e00 39.5px,#ff0200 45.5px,#ff0400 62.5px,#ff6f00 82.5px,#ff8000 89.5px,#ff8b00 93.5px,#ffa000 99.5px,#fafe00 112.5px,#beff00 121.5px,#74ff00 129.5px,#31ff00 141.5px,#00ff01 153.5px,#00ff33 163.5px,#00ff9b 180.5px,#00ffea 191.5px,#00ffff 197.5px,#00f4ff 201.5px,#00efff)"></i><i style="background:linear-gradient(90deg,#16ff00,#8bff00 8.5px,#f9fa00 18.5px,#ff9c00 28.5px,#ff7300 33.5px,#ff2a00 39.5px,#ff0100 45.5px,#ff0200 62.5px,#ff6f00 82.5px,#ff8000 89.5px,#ff8b00 93.5px,#ff9f00 99.5px,#fafe00 112.5px,#bfff00 121.5px,#7cff00 128.5px,#32ff00 141.5px,#00ff01 153.5px,#00ff37 164.5px,#00ff9b 180.5px,#00ffee 192.5px,#00ffff 198.5px,#00efff)"></i><i style="background:linear-gradient(90deg,#16ff00,#8bff00 8.5px,#f9fa00 18.5px,#ff9b00 28.5px,#ff7000 33.5px,#ff2500 39.5px,#ff0100 45.5px,#ff0500 63.5px,#ff6000 79.5px,#ff7f00 88.5px,#ff8400 92.5px,#ffa400 100.5px,#fafe00 112.5px,#c0ff00 121.5px,#74ff00 129.5px,#33ff00 141.5px,#00ff01 153.5px,#00ff3c 165.5px,#00ff9b 180.5px,#00ffee 192.5px,#00ffff 198.5px,#00efff)"></i><i style="background:linear-gradient(90deg,#16ff00,#8bff00 8.5px,#f9fa00 18.5px,#ffd000 22.5px,#ff6f00 33.5px,#ff2900 38.5px,#ff0200 44.5px,#ff0500 63.5px,#ff5000 76.5px,#ff7000 83.5px,#ff8000 89.5px,#ff8b00 93.5px,#ff9f00 99.5px,#ffdb00 107.5px,#fafe00 112.5px,#cbff00 120.5px,#74ff00 129.5px,#3fff00 139.5px,#01ff00 152.5px,#00ff15 158.5px,#00ff9b 180.5px,#00ffee 192.5px,#00ffff 198.5px,#00efff)"></i><b class="mk" style="left:0;top:0px;width:37.5px;height:18px"></b><b class="mk" style="left:0;top:18px;width:28px;height:18px"></b><b class="mk" style="left:0;top:36px;width:19.5px;height:17.5px"></b><b class="mk" style="left:0;top:53.5px;width:10px;height:17.5px"></b><span class="lab">(a)</span></div><div class="fr"></div><b class="xt mn" style="left:31px"></b><b class="xt" style="left:53.67px"></b><span class="xl" style="left:54.17px">400</span><b class="xt mn" style="left:76.33px"></b><b class="xt" style="left:99px"></b><span class="xl" style="left:99.5px">450</span><b class="xt mn" style="left:121.67px"></b><b class="xt" style="left:144.33px"></b><span class="xl" style="left:144.83px">500</span><b class="xt mn" style="left:167px"></b><b class="xt" style="left:189.67px"></b><span class="xl" style="left:190.17px">550</span><b class="xt mn" style="left:212.33px"></b><b class="xt" style="left:235px"></b><span class="xl" style="left:235.5px">600</span><b class="yt mn" style="top:172px"></b><b class="yt" style="top:154.33px"></b><span class="yl" style="top:154.83px">320</span><b class="yt mn" style="top:136.67px"></b><b class="yt" style="top:119px"></b><span class="yl" style="top:119.5px">340</span><b class="yt mn" style="top:101.33px"></b><b class="yt" style="top:83.67px"></b><span class="yl" style="top:84.17px">360</span><b class="yt mn" style="top:66px"></b><b class="yt" style="top:48.33px"></b><span class="yl" style="top:48.83px">380</span><b class="yt mn" style="top:30.67px"></b><b class="yt" style="top:13px"></b><span class="yl" style="top:13.5px">400</span><span class="xa">Emission &#955;</span><span class="ya">Excitation &#955;</span><span class="ti">GQDs-200-8</span><div class="cb"></div><b class="ct" style="top:18.19px"></b><span class="cl" style="top:18.69px">2000</span><b class="ct" style="top:56.65px"></b><span class="cl" style="top:57.15px">1500</span><b class="ct" style="top:95.12px"></b><span class="cl" style="top:95.62px">1000</span><b class="ct" style="top:133.58px"></b><span class="cl" style="top:134.08px">500.0</span><b class="ct" style="top:170.5px"></b><span class="cl" style="top:171px">20.00</span></div><div class="pn" style="left:275px;top:0px"><div class="hm"><i style="background:linear-gradient(90deg,#0030ff,#0035ff 10.5px,#0040ff 14.5px,#0045ff 23.5px,#0050ff 27.5px,#0055ff 31.5px,#0060ff 35.5px,#007cff 41.5px,#00caff 53.5px,#00fbfc 62.5px,#00ffda 66.5px,#00ff24 81.5px,#00ff01 86.5px,#05ff00 95.5px,#10ff00 99.5px,#0bff00 119.5px,#00ff00 123.5px,#00ff05 137.5px,#00ff34 144.5px,#00ff9b 156.5px,#00fffe 171.5px,#00cfff 184.5px,#00afff 195.5px,#009fff 201.5px,#009fff)"></i><i style="background:linear-gradient(90deg,#0030ff,#0035ff 10.5px,#0040ff 14.5px,#0046ff 23.5px,#0050ff 28.5px,#006cff 38.5px,#00d0ff 54.5px,#00fdf9 62.5px,#00ffc5 67.5px,#00ff19 82.5px,#00ff02 85.5px,#07ff00 95.5px,#10ff00 100.5px,#0bff00 119.5px,#00ff00 123.5px,#00ff05 137.5px,#00ff34 144.5px,#00ff9b 156.5px,#00fffe 171.5px,#00bfff 189.5px,#00afff 195.5px,#009fff 201.5px,#009fff)"></i><i style="background:linear-gradient(90deg,#0030ff,#0035ff 10.5px,#0040ff 14.5px,#0043ff 22.5px,#0050ff 26.5px,#0056ff 31.5px,#0076ff 40.5px,#00c0ff 51.5px,#00fdf9 61.5px,#00ffc9 66.5px,#00ff6e 74.5px,#00ff05 84.5px,#06ff00 94.5px,#10ff00 100.5px,#0cff00 119.5px,#00ff00 123.5px,#00ff05 137.5px,#00ff3c 145.5px,#00ff92 155.5px,#00fff8 170.5px,#00f4ff 174.5px,#00afff 194.5px,#00a4ff 198.5px,#009fff)"></i><i style="background:linear-gradient(90deg,#0030ff,#0035ff 10.5px,#0040ff 14.5px,#0044ff 22.5px,#0050ff 26.5px,#0059ff 31.5px,#0073ff 39.5px,#00f9fd 59.5px,#00ffe1 63.5px,#00ff7b 72.5px,#00ff05 84.5px,#06ff00 93.5px,#10ff00 99.5px,#0eff00 119.5px,#00ff00 124.5px,#00ff05 137.5px,#00ff3c 145.5px,#00ff8f 155.5px,#00ffeb 168.5px,#00faff 173.5px,#00bfff 189.5px,#00afff 195.5px,#009fff 201.5px,#009fff)"></i><i style="background:linear-gradient(90deg,#0030ff,#0035ff 10.5px,#0040ff 14.5px,#0045ff 22.5px,#0050ff 26.5px,#0054ff 30.5px,#007bff 40.5px,#00fcfb 59.5px,#00ffc1 65.5px,#00ff73 72.5px,#00ff05 84.5px,#06ff00 92.5px,#10ff00 98.5px,#0cff00 120.5px,#00ff00 125.5px,#00ff05 137.5px,#00ff3c 145.5px,#00ff8d 155.5px,#00ffea 168.5px,#00faff 173.5px,#00bfff 189.5px,#00afff 195.5px,#009fff 201.5px,#009fff)"></i><i style="background:linear-gradient(90deg,#0030ff,#0035ff 10.5px,#0040ff 14.5px,#0046ff 22.5px,#0050ff 27.5px,#0066ff 35.5px,#008bff 42.5px,#00fbfc 58.5px,#00ffc5 64.5px,#00ff74 71.5px,#00ff05 84.5px,#0aff00 92.5px,#10ff00 119.5px,#00ff00 126.5px,#00ff05 137.5px,#00ff3c 145.5px,#00ffdc 166.5px,#00fefe 172.5px,#00dfff 180.5px,#00afff 194.5px,#00a4ff 198.5px,#009fff)"></i><i style="background:linear-gradient(90deg,#0030ff,#0035ff 10.5px,#0040ff 14.5px,#0043ff 21.5px,#0050ff 25.5px,#0056ff 30.5px,#0080ff 40.5px,#00f8fd 57.5px,#00ffdd 61.5px,#00ff6c 71.5px,#00ff01 85.5px,#10ff00 97.5px,#0eff00 121.5px,#00ff00 126.5px,#00ff05 137.5px,#00ff43 146.5px,#00ffea 168.5px,#00faff 173.5px,#00dfff 180.5px,#00afff 194.5px,#00a4ff 198.5px,#009fff)"></i><i style="background:linear-gradient(90deg,#0030ff,#0032ff 9.5px,#0040ff 14.5px,#0045ff 21.5px,#0050ff 25.5px,#0059ff 30.5px,#007cff 39.5px,#00fbfb 57.5px,#00ffb3 64.5px,#00ff6c 70.5px,#00ff01 85.5px,#10ff00 94.5px,#0cff00 122.5px,#00ff00 127.5px,#00ff05 137.5px,#00ff39 145.5px,#00ffbd 162.5px,#00fffa 171.5px,#00afff 194.5px,#00a4ff 198.5px,#009fff)"></i><i style="background:linear-gradient(90deg,#0030ff,#0033ff 9.5px,#0040ff 13.5px,#0046ff 21.5px,#0050ff 26.5px,#0074ff 37.5px,#00e1ff 53.5px,#00fdf8 57.5px,#00ffab 64.5px,#00ff6c 69.5px,#00ff01 85.5px,#10ff00 92.5px,#10ff00 121.5px,#00ff00 128.5px,#00ff05 137.5px,#00ff36 145.5px,#00ff9f 158.5px,#00fffa 171.5px,#00afff 194.5px,#00a4ff 198.5px,#009fff)"></i><i style="background:linear-gradient(90deg,#0030ff,#0034ff 9.5px,#0040ff 13.5px,#0043ff 20.5px,#0050ff 24.5px,#0059ff 29.5px,#0076ff 37.5px,#00dcff 52.5px,#00fbfb 56.5px,#00ffb1 63.5px,#00ff64 69.5px,#01ff01 85.5px,#10ff00 91.5px,#1bff00 106.5px,#10ff00 116.5px,#09ff00 124.5px,#00ff00 129.5px,#00ff05 137.5px,#00ff34 145.5px,#00ff8f 156.5px,#00fffa 171.5px,#00ebff 177.5px,#00afff 194.5px,#00a4ff 198.5px,#009fff)"></i><i style="background:linear-gradient(90deg,#0030ff,#0035ff 9.5px,#0040ff 13.5px,#0045ff 20.5px,#0050ff 24.5px,#0056ff 28.5px,#0073ff 36.5px,#00cfff 50.5px,#00fdf8 56.5px,#00ff9b 64.5px,#00ff5c 69.5px,#00ff02 84.5px,#10ff00 91.5px,#1fff00 104.5px,#10ff00 117.5px,#0cff00 124.5px,#00ff00 128.5px,#00ff05 137.5px,#00ff34 145.5px,#00ff8d 156.5px,#00fff8 171.5px,#00edff 177.5px,#00afff 194.5px,#009fff 201.5px,#009fff)"></i><i style="background:linear-gradient(90deg,#0030ff,#0035ff 9.5px,#0040ff 13.5px,#0046ff 20.5px,#0050ff 25.5px,#006cff 34.5px,#00b5ff 46.5px,#00fbfb 55.5px,#00ffa1 63.5px,#00ff55 69.5px,#01ff01 84.5px,#10ff00 89.5px,#20ff00 103.5px,#17ff00 111.5px,#09ff00 125.5px,#00ff00 130.5px,#00ff05 137.5px,#00ff2c 144.5px,#00ffdc 167.5px,#00fefe 173.5px,#00bfff 190.5px,#00afff 195.5px,#009fff 201.5px,#009fff)"></i><i style="background:linear-gradient(90deg,#0030ff,#0035ff 9.5px,#0040ff 13.5px,#0043ff 19.5px,#0050ff 23.5px,#0056ff 27.5px,#0073ff 35.5px,#00c8ff 48.5px,#00f8fd 54.5px,#00ffd6 58.5px,#00ff4d 69.5px,#02ff01 84.5px,#10ff00 89.5px,#21ff00 100.5px,#19ff00 112.5px,#10ff00 119.5px,#0cff00 125.5px,#00ff00 129.5px,#00ff05 137.5px,#00ff24 143.5px,#00ffe3 168.5px,#00faff 174.5px,#00cfff 185.5px,#009fff 200.5px,#009fff)"></i><i style="background:linear-gradient(90deg,#0030ff,#0037ff 9.5px,#0040ff 14.5px,#0045ff 19.5px,#0050ff 23.5px,#006cff 33.5px,#00bcff 46.5px,#00fbfb 54.5px,#00ff9f 62.5px,#00ff4e 68.5px,#04ff00 84.5px,#10ff00 88.5px,#24ff00 101.5px,#1aff00 113.5px,#10ff00 119.5px,#09ff00 126.5px,#00ff00 131.5px,#00ff05 137.5px,#00ff24 143.5px,#00ffea 169.5px,#00faff 174.5px,#00cfff 185.5px,#009fff 200.5px,#009fff)"></i><i style="background:linear-gradient(90deg,#0030ff,#0033ff 8.5px,#0040ff 12.5px,#0046ff 19.5px,#0069ff 32.5px,#00b9ff 45.5px,#00f8fd 53.5px,#00ffd5 57.5px,#00ff7c 64.5px,#00ff47 68.5px,#01ff01 83.5px,#10ff00 88.5px,#21ff00 96.5px,#29ff00 104.5px,#15ff00 115.5px,#0bff00 126.5px,#00ff00 130.5px,#00ff05 137.5px,#00ff24 143.5px,#00ffee 170.5px,#00faff 174.5px,#00cfff 185.5px,#009fff 200.5px,#009fff)"></i><i style="background:linear-gradient(90deg,#0030ff,#0034ff 8.5px,#0040ff 12.5px,#0043ff 18.5px,#0050ff 22.5px,#006bff 32.5px,#00c9ff 47.5px,#00fbfb 53.5px,#00ffb6 59.5px,#00ff41 68.5px,#00ff24 74.5px,#02ff01 83.5px,#20ff00 93.5px,#2eff00 104.5px,#19ff00 115.5px,#10ff00 120.5px,#0cff00 126.5px,#00ff00 130.5px,#00ff05 137.5px,#00ff29 144.5px,#00ffe0 168.5px,#00fefe 173.5px,#00cfff 185.5px,#009fff 201.5px,#009fff)"></i><i style="background:linear-gradient(90deg,#0030ff,#0035ff 8.5px,#0040ff 12.5px,#0045ff 18.5px,#0050ff 22.5px,#006cff 32.5px,#00d5ff 48.5px,#00fdf8 53.5px,#00ff6c 64.5px,#00ff32 69.5px,#04ff00 83.5px,#22ff00 93.5px,#30ff00 102.5px,#26ff00 109.5px,#17ff00 116.5px,#09ff00 127.5px,#00ff00 132.5px,#00ff05 137.5px,#00ff2d 145.5px,#00ffd8 167.5px,#00fdff 174.5px,#00cfff 185.5px,#009fff 201.5px,#009fff)"></i><i style="background:linear-gradient(90deg,#0030ff,#0035ff 8.5px,#0040ff 12.5px,#0046ff 18.5px,#0069ff 31.5px,#00c1ff 45.5px,#00fbfb 52.5px,#00ffd0 56.5px,#00ff34 68.5px,#00ff1c 73.5px,#06ff00 83.5px,#2cff00 95.5px,#2eff00 108.5px,#10ff00 121.5px,#0cff00 127.5px,#00ff00 131.5px,#00ff05 137.5px,#00ff2c 145.5px,#00ffeb 170.5px,#00faff 175.5px,#00c0ff 189.5px,#009fff 202.5px,#009fff)"></i><i style="background:linear-gradient(90deg,#0030ff,#0035ff 8.5px,#0040ff 12.5px,#0043ff 17.5px,#0050ff 21.5px,#006cff 31.5px,#00bdff 44.5px,#00f8fd 51.5px,#00ffd8 55.5px,#00ff2d 68.5px,#00ff11 75.5px,#04ff00 82.5px,#20ff00 90.5px,#33ff00 99.5px,#28ff00 111.5px,#10ff00 121.5px,#09ff00 128.5px,#00ff00 133.5px,#00ff05 137.5px,#00ff2c 145.5px,#00ffef 171.5px,#00faff 175.5px,#00bfff 190.5px,#00afff 196.5px,#009fff 202.5px,#009fff)"></i><i style="background:linear-gradient(90deg,#0030ff,#0037ff 8.5px,#0040ff 13.5px,#0044ff 17.5px,#0050ff 21.5px,#0071ff 32.5px,#00d9ff 47.5px,#00fbfb 51.5px,#00ffc4 56.5px,#00ff26 68.5px,#00ff0d 75.5px,#07ff00 82.5px,#30ff00 94.5px,#3bff00 103.5px,#27ff00 112.5px,#10ff00 122.5px,#0bff00 128.5px,#00ff00 132.5px,#00ff05 137.5px,#00ff2c 145.5px,#00ffee 171.5px,#00faff 175.5px,#00bfff 190.5px,#00afff 196.5px,#009fff 202.5px,#009fff)"></i><i style="background:linear-gradient(90deg,#0030ff,#0033ff 7.5px,#0040ff 11.5px,#0045ff 17.5px,#0050ff 21.5px,#0073ff 32.5px,#00e6ff 48.5px,#00fdf8 51.5px,#00ffb0 57.5px,#00ff21 68.5px,#00ff0b 73.5px,#06ff00 81.5px,#34ff00 95.5px,#3fff00 103.5px,#10ff00 123.5px,#0cff00 128.5px,#00ff00 132.5px,#00ff05 137.5px,#00ff24 144.5px,#00fff3 172.5px,#00f4ff 176.5px,#00bfff 190.5px,#00afff 196.5px,#009fff 202.5px,#009fff)"></i><i style="background:linear-gradient(90deg,#0030ff,#0034ff 7.5px,#0040ff 11.5px,#0046ff 17.5px,#0075ff 32.5px,#00eaff 48.5px,#00fef3 51.5px,#00ff74 61.5px,#00ff1c 68.5px,#00ff04 74.5px,#0bff00 81.5px,#40ff00 98.5px,#39ff00 108.5px,#10ff00 123.5px,#09ff00 129.5px,#00ff00 134.5px,#00ff15 142.5px,#00fff2 172.5px,#00f6ff 176.5px,#00bfff 191.5px,#00afff 196.5px,#009fff 202.5px,#009fff)"></i><i style="background:linear-gradient(90deg,#0030ff,#0035ff 7.5px,#0040ff 11.5px,#0043ff 16.5px,#0050ff 20.5px,#0076ff 32.5px,#00efff 48.5px,#00ffef 51.5px,#00ff20 67.5px,#00ff02 72.5px,#12ff00 82.5px,#43ff00 98.5px,#3eff00 108.5px,#10ff00 124.5px,#0cff00 129.5px,#00ff00 134.5px,#00ff07 138.5px,#00ff27 145.5px,#00ffeb 171.5px,#00f8ff 176.5px,#00c0ff 190.5px,#009fff 202.5px,#009fff)"></i><i style="background:linear-gradient(90deg,#0030ff,#0035ff 7.5px,#0040ff 11.5px,#0045ff 16.5px,#0050ff 20.5px,#0079ff 32.5px,#00fbfb 49.5px,#00ffd2 53.5px,#00ff1b 67.5px,#01ff02 71.5px,#22ff00 85.5px,#4bff00 99.5px,#41ff00 108.5px,#11ff00 124.5px,#0aff00 130.5px,#00ff00 135.5px,#00ff15 142.5px,#00ff63 153.5px,#00fff4 173.5px,#00f4ff 177.5px,#00cfff 186.5px,#009fff 202.5px,#009fff)"></i><i style="background:linear-gradient(90deg,#0030ff,#0035ff 7.5px,#0040ff 11.5px,#0046ff 16.5px,#0076ff 31.5px,#00dfff 45.5px,#00fdf7 49.5px,#00ffbc 54.5px,#00ff17 67.5px,#02ff01 71.5px,#2bff00 86.5px,#53ff00 100.5px,#40ff00 110.5px,#10ff00 126.5px,#09ff00 131.5px,#00ff00 136.5px,#00ff24 145.5px,#00fff3 173.5px,#00f4ff 177.5px,#00bfff 191.5px,#009fff 202.5px,#009fff)"></i><i style="background:linear-gradient(90deg,#0030ff,#0035ff 7.5px,#0040ff 11.5px,#0049ff 16.5px,#006aff 27.5px,#0094ff 35.5px,#00fbf9 48.5px,#00ffd1 52.5px,#00ff35 64.5px,#00ff0a 68.5px,#0aff00 72.5px,#30ff00 86.5px,#59ff00 99.5px,#49ff00 109.5px,#11ff00 127.5px,#07ff00 132.5px,#00ff07 139.5px,#00ff2a 146.5px,#00fff2 173.5px,#00f4ff 177.5px,#00bfff 191.5px,#009fff 203.5px,#009fff)"></i><i style="background:linear-gradient(90deg,#0030ff,#0037ff 7.5px,#0040ff 12.5px,#005bff 22.5px,#0089ff 33.5px,#00f9fb 47.5px,#00ffc9 52.5px,#00ff53 61.5px,#01ff07 68.5px,#1bff00 77.5px,#3cff00 87.5px,#5cff00 97.5px,#59ff00 106.5px,#11ff00 128.5px,#00ff01 138.5px,#00ff27 146.5px,#00fff6 174.5px,#00eeff 179.5px,#00bfff 191.5px,#00afff 197.5px,#009fff 203.5px,#009fff)"></i><i style="background:linear-gradient(90deg,#0030ff,#0033ff 6.5px,#0040ff 10.5px,#0046ff 15.5px,#0066ff 25.5px,#009aff 35.5px,#00f7fd 46.5px,#00ffcd 51.5px,#00ff4c 61.5px,#02ff04 68.5px,#44ff00 87.5px,#64ff00 97.5px,#5cff00 107.5px,#14ff00 128.5px,#00ff01 138.5px,#00ff2c 147.5px,#00fff4 174.5px,#00f3ff 178.5px,#00bfff 191.5px,#009fff 203.5px,#009fff)"></i><i style="background:linear-gradient(90deg,#0030ff,#0034ff 6.5px,#0040ff 10.5px,#0049ff 15.5px,#0064ff 24.5px,#0096ff 34.5px,#00fbfa 46.5px,#00ffab 53.5px,#00ff50 60.5px,#01ff07 67.5px,#1fff00 74.5px,#4cff00 87.5px,#6cff00 97.5px,#66ff00 106.5px,#11ff00 130.5px,#00ff00 138.5px,#00ff2b 147.5px,#00fffa 175.5px,#00c0ff 191.5px,#009fff)"></i><i style="background:linear-gradient(90deg,#0030ff,#0035ff 6.5px,#0040ff 10.5px,#0045ff 14.5px,#0073ff 27.5px,#00a1ff 35.5px,#00f8fc 45.5px,#00ffc9 50.5px,#00ff54 59.5px,#02ff04 67.5px,#23ff00 74.5px,#73ff00 96.5px,#6cff00 106.5px,#10ff00 131.5px,#00ff01 139.5px,#00ff30 148.5px,#00fff8 175.5px,#00dcff 184.5px,#00bfff 192.5px,#00afff 198.5px,#009fff)"></i><i style="background:linear-gradient(90deg,#0030ff,#0035ff 6.5px,#0040ff 10.5px,#0046ff 14.5px,#0071ff 26.5px,#00a5ff 35.5px,#00fbf8 45.5px,#00ff99 53.5px,#00ff4c 59.5px,#04ff02 67.5px,#30ff00 76.5px,#7bff00 96.5px,#76ff00 105.5px,#12ff00 131.5px,#00ff00 139.5px,#00ff2d 148.5px,#00fefb 176.5px,#00bfff 192.5px,#00afff 198.5px,#00a0ff)"></i><i style="background:linear-gradient(90deg,#0030ff,#0035ff 6.5px,#0040ff 10.5px,#005bff 20.5px,#009bff 33.5px,#00f8fb 44.5px,#00ffb9 50.5px,#00ff4e 58.5px,#02ff05 66.5px,#39ff00 77.5px,#82ff00 95.5px,#7fff00 104.5px,#12ff00 132.5px,#00ff01 140.5px,#00ff3a 150.5px,#00fff4 175.5px,#00f3ff 179.5px,#00bfff 192.5px,#00afff 199.5px,#00a2ff)"></i><i style="background:linear-gradient(90deg,#0030ff,#0035ff 6.5px,#0040ff 10.5px,#004bff 14.5px,#0062ff 22.5px,#00adff 35.5px,#00f3fd 43.5px,#00ffd6 47.5px,#00ff46 58.5px,#04ff04 66.5px,#3fff00 77.5px,#8bff00 95.5px,#86ff00 104.5px,#11ff00 133.5px,#00ff01 140.5px,#00ff37 150.5px,#00fffa 176.5px,#00bfff 192.5px,#00afff 199.5px,#00a6ff)"></i><i style="background:linear-gradient(90deg,#0030ff,#0037ff 6.5px,#0040ff 11.5px,#0069ff 23.5px,#00b9ff 36.5px,#00f8fb 43.5px,#00ffc2 48.5px,#00ff4a 57.5px,#02ff06 65.5px,#4eff00 79.5px,#91ff00 94.5px,#8fff00 103.5px,#10ff00 134.5px,#00ff02 141.5px,#00ff3c 151.5px,#00fefd 177.5px,#00c0ff 192.5px,#00afff 199.5px,#00acff)"></i><i style="background:linear-gradient(90deg,#0030ff,#0033ff 5.5px,#0040ff 9.5px,#0046ff 13.5px,#0076ff 25.5px,#00cfff 38.5px,#00fbf7 43.5px,#00ff83 52.5px,#00ff41 57.5px,#04ff02 65.5px,#55ff00 79.5px,#99ff00 94.5px,#96ff00 103.5px,#11ff00 134.5px,#00ff01 141.5px,#00ff3b 151.5px,#00fff6 176.5px,#00eeff 181.5px,#00cfff 188.5px,#00afff 199.5px,#00afff)"></i><i style="background:linear-gradient(90deg,#0030ff,#0034ff 5.5px,#0040ff 9.5px,#0059ff 18.5px,#0086ff 27.5px,#00d4ff 38.5px,#00f8fb 42.5px,#00ffc1 47.5px,#00ff44 56.5px,#00ff12 62.5px,#0eff00 66.5px,#61ff00 80.5px,#a1ff00 94.5px,#9fff00 102.5px,#75ff00 112.5px,#10ff00 135.5px,#00ff01 141.5px,#00ff3a 151.5px,#00fff4 176.5px,#00f3ff 180.5px,#00c0ff 192.5px,#00afff 200.5px,#00afff)"></i><i style="background:linear-gradient(90deg,#0030ff,#0035ff 5.5px,#0040ff 9.5px,#0056ff 17.5px,#007bff 25.5px,#00d9ff 38.5px,#00fbf7 42.5px,#00ff72 52.5px,#00ff32 57.5px,#06ff02 64.5px,#69ff00 80.5px,#a9ff00 94.5px,#a6ff00 102.5px,#6cff00 115.5px,#11ff00 135.5px,#00ff01 141.5px,#00ff31 150.5px,#00fffa 177.5px,#00bfff 193.5px,#00afff 200.5px,#00afff)"></i><i style="background:linear-gradient(90deg,#0030ff,#0035ff 5.5px,#0040ff 9.5px,#006cff 22.5px,#00d4ff 37.5px,#00f8fb 41.5px,#00ffcd 45.5px,#00ff34 56.5px,#04ff02 63.5px,#81ff00 83.5px,#b2ff00 95.5px,#a5ff00 104.5px,#11ff00 135.5px,#00ff02 142.5px,#00ff44 153.5px,#00fefe 178.5px,#00bfff 193.5px,#00afff 201.5px,#00afff)"></i><i style="background:linear-gradient(90deg,#0030ff,#0035ff 5.5px,#0040ff 9.5px,#006eff 22.5px,#00daff 37.5px,#00fbf8 41.5px,#00ff9b 48.5px,#00ff2c 56.5px,#03ff02 62.5px,#89ff00 83.5px,#b8ff00 95.5px,#a5ff00 105.5px,#12ff00 135.5px,#00ff01 142.5px,#00ff44 153.5px,#00fefd 178.5px,#00c0ff 193.5px,#00b9ff 197.5px,#00afff 202.5px,#00afff)"></i><i style="background:linear-gradient(90deg,#0030ff,#0035ff 5.5px,#0040ff 9.5px,#0071ff 22.5px,#00dfff 37.5px,#00f9fb 40.5px,#00ffce 44.5px,#00ff25 56.5px,#02ff02 61.5px,#9aff00 85.5px,#bcff00 94.5px,#b5ff00 101.5px,#93ff00 109.5px,#11ff00 136.5px,#00ff01 142.5px,#00ff34 151.5px,#00fff6 177.5px,#00efff 182.5px,#00cfff 189.5px,#00bfff 195.5px,#00afff 201.5px,#00afff)"></i><i style="background:linear-gradient(90deg,#0030ff,#0037ff 5.5px,#0064ff 19.5px,#00a5ff 29.5px,#00f7fd 39.5px,#00ffe2 42.5px,#00ff1e 56.5px,#02ff02 60.5px,#a1ff00 85.5px,#c0ff00 94.5px,#b9ff00 101.5px,#69ff00 118.5px,#11ff00 136.5px,#00ff01 142.5px,#00ff33 151.5px,#00fff4 177.5px,#00f4ff 181.5px,#00cfff 189.5px,#00bfff 195.5px,#00afff 201.5px,#00afff)"></i><i style="background:linear-gradient(90deg,#0030ff,#0039ff 5.5px,#0056ff 15.5px,#0082ff 24.5px,#00eaff 37.5px,#00fef3 40.5px,#00ff93 47.5px,#00ff17 56.5px,#02ff02 59.5px,#a9ff00 85.5px,#c7ff00 95.5px,#b1ff00 104.5px,#1fff00 133.5px,#00ff01 142.5px,#00ff2c 150.5px,#00fff4 177.5px,#00f4ff 181.5px,#00bfff 194.5px,#00afff 202.5px,#00afff)"></i><i style="background:linear-gradient(90deg,#0030ff,#0034ff 4.5px,#0040ff 8.5px,#0077ff 22.5px,#00f8fc 38.5px,#00ffe2 41.5px,#00ff11 56.5px,#06ff01 59.5px,#a5ff00 83.5px,#caff00 93.5px,#c5ff00 99.5px,#a1ff00 108.5px,#1fff00 133.5px,#00ff01 142.5px,#00ff24 149.5px,#00fffa 178.5px,#00c0ff 194.5px,#00b9ff 198.5px,#00afff 203.5px,#00afff)"></i><i style="background:linear-gradient(90deg,#0030ff,#0035ff 4.5px,#0066ff 18.5px,#0096ff 26.5px,#00fbf9 38.5px,#00ffdb 41.5px,#01ff0c 56.5px,#14ff00 60.5px,#a6ff00 82.5px,#ceff00 92.5px,#c9ff00 99.5px,#9eff00 109.5px,#23ff00 132.5px,#00ff00 142.5px,#00ff23 149.5px,#00fefe 179.5px,#00cfff 190.5px,#00bfff 196.5px,#00afff 202.5px,#00afff)"></i><i style="background:linear-gradient(90deg,#0030ff,#0037ff 4.5px,#0064ff 17.5px,#0092ff 25.5px,#00f9fb 37.5px,#00ffd3 41.5px,#00ff11 55.5px,#0cff00 58.5px,#a9ff00 81.5px,#d0ff00 91.5px,#cfff00 98.5px,#a6ff00 108.5px,#11ff00 136.5px,#00ff01 143.5px,#00ff44 154.5px,#00fefd 179.5px,#00c0ff 194.5px,#00b6ff 199.5px,#00afff)"></i><i style="background:linear-gradient(90deg,#0030ff,#004bff 10.5px,#0086ff 23.5px,#00f7fc 36.5px,#00ffd8 40.5px,#01ff0c 55.5px,#12ff00 58.5px,#abff00 80.5px,#d8ff00 92.5px,#d5ff00 97.5px,#a9ff00 108.5px,#11ff00 136.5px,#00ff01 143.5px,#00ff34 152.5px,#00fff6 178.5px,#00efff 183.5px,#00c0ff 195.5px,#00b9ff 199.5px,#00afff)"></i><i style="background:linear-gradient(90deg,#0030ff,#003bff 4.5px,#0056ff 13.5px,#0091ff 24.5px,#00fbf9 36.5px,#00ffc2 41.5px,#00ff39 51.5px,#02ff08 55.5px,#2cff00 61.5px,#a9ff00 78.5px,#d9ff00 90.5px,#ddff00 96.5px,#abff00 108.5px,#12ff00 136.5px,#00ff01 143.5px,#00ff34 152.5px,#00fff4 178.5px,#00f4ff 182.5px,#00c0ff 195.5px,#00baff 199.5px,#00afff 203.5px,#00afff)"></i><i style="background:linear-gradient(90deg,#0030ff,#0054ff 12.5px,#0095ff 24.5px,#00f9fb 35.5px,#00ffc5 40.5px,#00ff33 51.5px,#04ff05 55.5px,#a5ff00 76.5px,#cfff00 85.5px,#e4ff00 93.5px,#cbff00 102.5px,#20ff00 133.5px,#00ff00 142.5px,#00ff25 150.5px,#00fff4 178.5px,#00f4ff 182.5px,#00cfff 191.5px,#00bfff 197.5px,#00afff 203.5px,#00afff)"></i><i style="background:linear-gradient(90deg,#0030ff,#0056ff 12.5px,#0099ff 24.5px,#00f6fd 34.5px,#00ffd6 38.5px,#00ff2d 51.5px,#07ff02 55.5px,#a9ff00 75.5px,#d2ff00 84.5px,#eaff00 93.5px,#bfff00 105.5px,#25ff00 132.5px,#00ff00 142.5px,#00ff24 150.5px,#00fffa 179.5px,#00cfff 192.5px,#00bfff 197.5px,#00afff 203.5px,#00afff)"></i><i style="background:linear-gradient(90deg,#0030ff,#0059ff 12.5px,#009dff 24.5px,#00fafa 34.5px,#00ffc1 39.5px,#00ff4a 48.5px,#04ff06 54.5px,#84ff00 69.5px,#c8ff00 79.5px,#eeff00 92.5px,#cbff00 103.5px,#25ff00 132.5px,#00ff00 142.5px,#00ff24 150.5px,#00fffa 179.5px,#00c0ff 196.5px,#00afff 203.5px,#00afff)"></i><i style="background:linear-gradient(90deg,#0030ff,#0056ff 11.5px,#00a1ff 24.5px,#00f6fd 33.5px,#00ffd3 37.5px,#00ff4c 47.5px,#07ff04 54.5px,#b3ff00 74.5px,#dbff00 82.5px,#f1ff00 93.5px,#beff00 106.5px,#30ff00 130.5px,#00ff00 142.5px,#00ff1c 149.5px,#00fff8 179.5px,#00deff 188.5px,#00b0ff 202.5px,#00afff)"></i><i style="background:linear-gradient(90deg,#0030ff,#0059ff 11.5px,#00a5ff 24.5px,#00fafa 33.5px,#00ffae 39.5px,#00ff4e 46.5px,#04ff07 53.5px,#43ff00 60.5px,#b5ff00 73.5px,#dfff00 81.5px,#f5ff00 93.5px,#bfff00 106.5px,#25ff00 132.5px,#00ff01 143.5px,#00ff24 150.5px,#00ff83 163.5px,#00fffb 180.5px,#00bfff 197.5px,#00afff)"></i><i style="background:linear-gradient(90deg,#0030ff,#0061ff 12.5px,#00b2ff 25.5px,#00f6fd 32.5px,#00ffd1 36.5px,#00ff45 46.5px,#07ff04 53.5px,#b9ff00 72.5px,#e6ff00 81.5px,#fbff00 93.5px,#bbff00 107.5px,#30ff00 130.5px,#10ff00 138.5px,#00ff02 144.5px,#00ff3c 154.5px,#00fff4 179.5px,#00f4ff 183.5px,#00bfff 198.5px,#00afff)"></i><i style="background:linear-gradient(90deg,#0030ff,#0073ff 15.5px,#00bfff 26.5px,#00f9fa 32.5px,#00ff9c 39.5px,#00ff3c 46.5px,#04ff06 52.5px,#6cff00 63.5px,#c3ff00 72.5px,#ebff00 80.5px,#feff00 93.5px,#bcff00 107.5px,#31ff00 130.5px,#10ff00 138.5px,#00ff01 144.5px,#00ff44 155.5px,#00ffef 178.5px,#00faff 182.5px,#00c0ff 197.5px,#00afff)"></i><i style="background:linear-gradient(90deg,#0031ff,#0076ff 15.5px,#00cdff 27.5px,#00fbf6 32.5px,#00ff3e 45.5px,#07ff03 52.5px,#cbff00 72.5px,#f2ff00 80.5px,#fffd00 92.5px,#f0ff00 97.5px,#abff00 110.5px,#32ff00 130.5px,#10ff00 138.5px,#00ff01 144.5px,#00ff44 155.5px,#00ffef 178.5px,#00faff 182.5px,#00cfff 193.5px,#00afff)"></i><i style="background:linear-gradient(90deg,#0031ff,#0075ff 14.5px,#00c9ff 26.5px,#00f8fa 31.5px,#00ff9b 38.5px,#00ff40 44.5px,#04ff05 51.5px,#cbff00 71.5px,#f5ff00 79.5px,#fff900 92.5px,#f8ff00 96.5px,#9aff00 113.5px,#44ff00 127.5px,#10ff00 138.5px,#00ff01 144.5px,#00ff34 153.5px,#00fff4 179.5px,#00f4ff 183.5px,#00afff 203.5px,#00afff)"></i><i style="background:linear-gradient(90deg,#0031ff,#0073ff 13.5px,#00ceff 26.5px,#00fbf7 31.5px,#00ff63 41.5px,#00ff2d 45.5px,#08ff02 51.5px,#adff00 67.5px,#e1ff00 73.5px,#fdfd00 80.5px,#fff400 92.5px,#faff00 96.5px,#9bff00 113.5px,#50ff00 125.5px,#10ff00 138.5px,#00ff01 144.5px,#00ff34 153.5px,#00fff3 179.5px,#00f4ff 183.5px,#00afff 203.5px,#00afff)"></i><i style="background:linear-gradient(90deg,#0031ff,#0076ff 13.5px,#00dbff 27.5px,#00f8fb 30.5px,#00ffda 33.5px,#00ff2f 44.5px,#06ff02 50.5px,#92ff00 64.5px,#dbff00 71.5px,#fdfd00 78.5px,#fff000 91.5px,#fbff00 96.5px,#a3ff00 112.5px,#40ff00 128.5px,#10ff00 138.5px,#00ff01 144.5px,#00ff34 153.5px,#00ffe4 177.5px,#00fefe 181.5px,#00c0ff 198.5px,#00afff)"></i><i style="background:linear-gradient(90deg,#0031ff,#0080ff 14.5px,#00e1ff 27.5px,#00fbf7 30.5px,#00ffc2 34.5px,#00ff33 43.5px,#02ff06 48.5px,#26ff00 53.5px,#e9ff00 72.5px,#fff900 78.5px,#fff000 86.5px,#fff600 94.5px,#eeff00 99.5px,#a3ff00 112.5px,#35ff00 130.5px,#10ff00 138.5px,#00ff01 144.5px,#00ff34 153.5px,#00ffdf 176.5px,#00fffe 181.5px,#00afff 203.5px,#00afff)"></i><i style="background:linear-gradient(90deg,#0032ff,#008aff 15.5px,#00f8fb 29.5px,#00ffdb 32.5px,#00ff37 42.5px,#01ff0d 46.5px,#14ff00 50.5px,#7eff00 61.5px,#e8ff00 71.5px,#fefd00 76.5px,#ffee00 82.5px,#fff400 94.5px,#f4ff00 98.5px,#a4ff00 112.5px,#25ff00 133.5px,#00ff00 143.5px,#00ff25 151.5px,#00ffdf 176.5px,#00fffe 181.5px,#00b0ff 203.5px,#00afff)"></i><i style="background:linear-gradient(90deg,#0033ff,#0095ff 16.5px,#00f4fd 28.5px,#00ffe2 31.5px,#00ff30 42.5px,#02ff06 46.5px,#2cff00 52.5px,#bcff00 66.5px,#f4ff00 72.5px,#fff500 77.5px,#ffea00 84.5px,#fff400 94.5px,#f4ff00 98.5px,#92ff00 115.5px,#25ff00 133.5px,#00ff00 143.5px,#00ff25 151.5px,#00ffdf 176.5px,#00fffe 181.5px,#00cfff 194.5px,#00afff)"></i><i style="background:linear-gradient(90deg,#0034ff,#00a1ff 17.5px,#00f9fa 28.5px,#00ffda 31.5px,#00ff29 42.5px,#02ff07 45.5px,#2aff00 51.5px,#b6ff00 65.5px,#f1ff00 71.5px,#fff900 75.5px,#ffe400 82.5px,#fff300 94.5px,#f4ff00 98.5px,#93ff00 115.5px,#21ff00 134.5px,#00ff00 143.5px,#00ff25 151.5px,#00ffdf 176.5px,#00fffe 181.5px,#00cfff 194.5px,#00afff)"></i><i style="background:linear-gradient(90deg,#0035ff,#00a6ff 17.5px,#00f9fc 27.5px,#00ffd3 31.5px,#00ff22 42.5px,#06ff03 45.5px,#30ff00 51.5px,#edff00 70.5px,#fff900 74.5px,#ffe000 82.5px,#ffea00 91.5px,#fafe00 97.5px,#93ff00 115.5px,#22ff00 134.5px,#00ff00 143.5px,#00ff25 151.5px,#00ffdf 176.5px,#00fffe 181.5px,#00bfff 199.5px,#00afff)"></i><i style="background:linear-gradient(90deg,#0038ff,#00a4ff 16.5px,#00fcf8 27.5px,#00ffcb 31.5px,#00ff1a 42.5px,#0cff01 45.5px,#37ff00 51.5px,#f3ff00 70.5px,#fff500 74.5px,#ffdf00 81.5px,#ffe600 91.5px,#fbfe00 97.5px,#94ff00 115.5px,#20ff00 135.5px,#00ff00 143.5px,#00ff25 151.5px,#00ffdf 176.5px,#00fffe 181.5px,#00afff)"></i><i style="background:linear-gradient(90deg,#003dff,#009bff 14.5px,#00fbf9 26.5px,#00ffd1 30.5px,#01ff14 42.5px,#12ff00 45.5px,#40ff00 51.5px,#f7ff00 70.5px,#ffe500 77.5px,#ffe000 90.5px,#f8ff00 98.5px,#82ff00 118.5px,#15ff00 137.5px,#00ff01 144.5px,#00ff34 153.5px,#00ffdf 176.5px,#00fffe 181.5px,#00afff)"></i><i style="background:linear-gradient(90deg,#0041ff,#00a9ff 15.5px,#00f9f9 25.5px,#00ffd5 29.5px,#00ff89 34.5px,#00ff1c 41.5px,#0fff01 44.5px,#6cff00 55.5px,#fbfe00 70.5px,#ffde00 79.5px,#ffe100 91.5px,#faff00 98.5px,#4cff00 127.5px,#0fff00 139.5px,#00ff00 143.5px,#00ff25 151.5px,#00ffdf 176.5px,#00fffe 181.5px,#00afff)"></i><i style="background:linear-gradient(90deg,#0044ff,#00aeff 15.5px,#00f9f9 24.5px,#00ffcc 29.5px,#01ff15 41.5px,#0bff02 43.5px,#80ff00 56.5px,#f8ff00 69.5px,#ffdf00 77.5px,#ffd600 83.5px,#ffe400 92.5px,#faff00 98.5px,#15ff00 137.5px,#00ff01 144.5px,#00ff34 153.5px,#00ffdf 176.5px,#00fffe 181.5px,#00afff)"></i><i style="background:linear-gradient(90deg,#0048ff,#00bcff 16.5px,#00f9fa 23.5px,#00ffc2 29.5px,#00ff1c 40.5px,#07ff05 42.5px,#fbfe00 69.5px,#ffd100 81.5px,#ffe400 92.5px,#faff00 98.5px,#11ff00 138.5px,#00ff01 144.5px,#00ff34 153.5px,#00ffdf 176.5px,#00fffe 181.5px,#00b0ff)"></i><i style="background:linear-gradient(90deg,#004eff,#00ccff 17.5px,#00f9fc 22.5px,#00ffb8 29.5px,#01ff15 40.5px,#0cff02 42.5px,#e9ff00 66.5px,#fff800 70.5px,#ffd000 80.5px,#ffd500 86.5px,#ffea00 93.5px,#faff00 98.5px,#11ff00 138.5px,#00ff01 144.5px,#00ff34 153.5px,#00ffdf 176.5px,#00fffe 181.5px,#00b0ff)"></i><i style="background:linear-gradient(90deg,#0053ff,#00d4ff 17.5px,#00f9fc 21.5px,#00ffba 28.5px,#02ff0e 40.5px,#1eff00 43.5px,#c3ff00 61.5px,#fbfd00 68.5px,#ffd000 79.5px,#ffd600 87.5px,#fff400 95.5px,#f4ff00 99.5px,#4cff00 128.5px,#11ff00 138.5px,#00ff01 144.5px,#00ff34 153.5px,#00ffdf 176.5px,#00fffe 181.5px,#00b0ff)"></i><i style="background:linear-gradient(90deg,#0058ff,#00dcff 17.5px,#00fdf7 21.5px,#00ff96 30.5px,#05ff09 40.5px,#3aff00 45.5px,#cbff00 61.5px,#fdfb00 68.5px,#ffcf00 79.5px,#ffd300 87.5px,#fff400 95.5px,#f4ff00 99.5px,#53ff00 127.5px,#11ff00 138.5px,#00ff01 144.5px,#00ff34 153.5px,#00ffdf 176.5px,#00fffe 181.5px,#00bfff 200.5px,#00b0ff)"></i><i style="background:linear-gradient(90deg,#005fff,#00c9ff 14.5px,#00fcf8 20.5px,#00ff8c 30.5px,#02ff0e 39.5px,#20ff00 42.5px,#bbff00 58.5px,#fdfd00 67.5px,#ffcf00 78.5px,#ffd600 88.5px,#ffec00 94.5px,#faff00 98.5px,#a1ff00 114.5px,#34ff00 132.5px,#0fff00 139.5px,#00ff00 143.5px,#00ff25 151.5px,#00ffdf 176.5px,#00fffe 181.5px,#00bfff 200.5px,#00b0ff)"></i><i style="background:linear-gradient(90deg,#0066ff,#00c5ff 13.5px,#00faf9 19.5px,#00ff9a 28.5px,#05ff08 39.5px,#3eff00 44.5px,#c3ff00 58.5px,#fbfd00 66.5px,#ffcf00 78.5px,#ffd000 87.5px,#ffeb00 94.5px,#faff00 98.5px,#b0ff00 111.5px,#50ff00 128.5px,#11ff00 138.5px,#00ff01 144.5px,#00ff34 153.5px,#00ffdf 176.5px,#00fffe 181.5px,#00bfff 200.5px,#00b0ff)"></i><i style="background:linear-gradient(90deg,#006dff,#00ccff 13.5px,#00f9fa 18.5px,#00ff90 28.5px,#02ff0c 38.5px,#20ff00 41.5px,#9fff00 53.5px,#efff00 63.5px,#fff100 68.5px,#ffc600 80.5px,#ffd100 88.5px,#fafe00 98.5px,#b1ff00 111.5px,#59ff00 127.5px,#11ff00 138.5px,#00ff01 144.5px,#00ff34 153.5px,#00ffdf 176.5px,#00fffe 181.5px,#00bfff 200.5px,#00b1ff)"></i><i style="background:linear-gradient(90deg,#0071ff,#00e6ff 15.5px,#00fdf6 18.5px,#00ff6c 30.5px,#05ff07 38.5px,#74ff00 48.5px,#cbff00 57.5px,#f9fe00 64.5px,#ffc200 80.5px,#ffca00 85.5px,#fff400 96.5px,#efff00 100.5px,#bdff00 109.5px,#5bff00 127.5px,#11ff00 138.5px,#00ff01 144.5px,#00ff34 153.5px,#00ffdf 176.5px,#00fffe 181.5px,#00bfff 200.5px,#00b3ff)"></i><i style="background:linear-gradient(90deg,#0077ff,#00f6fd 16.5px,#00ffd9 20.5px,#00ff3b 33.5px,#03ff09 37.5px,#3aff00 42.5px,#cbff00 56.5px,#f9fe00 63.5px,#ffc000 80.5px,#ffc600 85.5px,#fafe00 98.5px,#c0ff00 108.5px,#62ff00 126.5px,#15ff00 137.5px,#00ff00 143.5px,#00ff25 151.5px,#00ffdf 176.5px,#00fffe 181.5px,#00bfff 200.5px,#00b4ff)"></i><i style="background:linear-gradient(90deg,#007eff,#00fafa 16.5px,#00ff73 28.5px,#02ff0c 36.5px,#1cff00 39.5px,#a3ff00 51.5px,#eaff00 59.5px,#fff400 65.5px,#ffc100 78.5px,#ffc300 85.5px,#fafe00 98.5px,#c0ff00 108.5px,#6aff00 125.5px,#15ff00 137.5px,#00ff00 143.5px,#00ff25 151.5px,#00ffdf 176.5px,#00fffe 181.5px,#00cfff 195.5px,#00b4ff)"></i><i style="background:linear-gradient(90deg,#0083ff,#00e9ff 13.5px,#00fdf6 16.5px,#05ff07 36.5px,#75ff00 46.5px,#e3ff00 57.5px,#fef800 63.5px,#ffc100 77.5px,#ffc100 85.5px,#fbfe00 98.5px,#c0ff00 108.5px,#76ff00 123.5px,#17ff00 137.5px,#00ff00 143.5px,#00ff25 151.5px,#00ffdf 176.5px,#00fffe 181.5px,#00cfff 195.5px,#00b5ff)"></i><i style="background:linear-gradient(90deg,#0088ff,#00f7fd 14.5px,#00ffd9 18.5px,#03ff09 35.5px,#36ff00 40.5px,#dbff00 55.5px,#fbfd00 60.5px,#ffc000 77.5px,#ffc300 86.5px,#fdfe00 98.5px,#c0ff00 108.5px,#79ff00 123.5px,#1fff00 136.5px,#00ff00 143.5px,#00ff25 151.5px,#00ffdf 176.5px,#00fffe 181.5px,#00cfff 195.5px,#00b7ff)"></i><i style="background:linear-gradient(90deg,#008eff,#00fbfa 14.5px,#00ffa1 22.5px,#02ff0c 34.5px,#1aff00 37.5px,#c3ff00 52.5px,#f9fe00 58.5px,#ffc000 76.5px,#ffc000 85.5px,#fff400 96.5px,#f3ff00 100.5px,#bfff00 109.5px,#73ff00 124.5px,#25ff00 135.5px,#00ff01 144.5px,#00ff34 153.5px,#00ffdf 176.5px,#00fffe 181.5px,#00cfff 195.5px,#00bcff)"></i><i style="background:linear-gradient(90deg,#0093ff,#00dfff 10.5px,#00fdf6 14.5px,#05ff07 34.5px,#75ff00 44.5px,#f0ff00 56.5px,#fff400 60.5px,#ffc000 75.5px,#ffb600 82.5px,#ffd600 91.5px,#fefe00 98.5px,#b0ff00 112.5px,#6cff00 125.5px,#20ff00 136.5px,#00ff01 144.5px,#00ff34 153.5px,#00ffdf 176.5px,#00fffe 181.5px,#00deff 191.5px,#00cfff 196.5px,#00bfff 202.5px,#00bfff)"></i><i style="background:linear-gradient(90deg,#0097ff,#00e4ff 10.5px,#00fcf9 13.5px,#00ff91 22.5px,#03ff09 33.5px,#36ff00 38.5px,#e4ff00 54.5px,#fef900 58.5px,#ffce00 69.5px,#ffb200 82.5px,#ffe400 94.5px,#fefe00 98.5px,#b0ff00 112.5px,#6cff00 125.5px,#20ff00 136.5px,#00ff01 144.5px,#00ff34 153.5px,#00ffdf 176.5px,#00fffe 181.5px,#00dfff 190.5px,#00bfff 202.5px,#00bfff)"></i><i style="background:linear-gradient(90deg,#009dff,#00d6ff 8.5px,#00fbfb 12.5px,#00ffaf 19.5px,#03ff0c 32.5px,#1bff00 35.5px,#d9ff00 52.5px,#fdf900 57.5px,#ffca00 69.5px,#ffb000 82.5px,#ffe400 94.5px,#faff00 99.5px,#b6ff00 111.5px,#73ff00 124.5px,#20ff00 136.5px,#00ff01 144.5px,#00ff34 153.5px,#00ffdf 176.5px,#00fffe 181.5px,#00dfff 190.5px,#00bfff 202.5px,#00bfff)"></i><i style="background:linear-gradient(90deg,#00a1ff,#00d1ff 7.5px,#00fdf8 12.5px,#00ffa9 19.5px,#02ff0f 31.5px,#1aff00 34.5px,#dfff00 52.5px,#fdf900 56.5px,#ffcb00 67.5px,#ffaf00 80.5px,#ffb900 85.5px,#fafe00 99.5px,#c0ff00 109.5px,#81ff00 122.5px,#15ff00 138.5px,#00ff05 145.5px,#00ff3c 154.5px,#00ffdf 176.5px,#00fffe 181.5px,#00dfff 191.5px,#00bfff 202.5px,#00bfff)"></i><i style="background:linear-gradient(90deg,#00a6ff,#00d5ff 7.5px,#00fbfb 11.5px,#00ffaf 18.5px,#05ff09 31.5px,#39ff00 36.5px,#e5ff00 52.5px,#fcfb00 55.5px,#ffd000 64.5px,#ffaf00 78.5px,#ffb600 85.5px,#fafe00 99.5px,#c0ff00 109.5px,#89ff00 121.5px,#15ff00 138.5px,#00ff05 145.5px,#00ff3c 154.5px,#00ffe4 177.5px,#00feff 182.5px,#00cfff 196.5px,#00bfff 202.5px,#00bfff)"></i><i style="background:linear-gradient(90deg,#00acff,#00d9ff 7.5px,#00fdf8 11.5px,#00ff8d 20.5px,#03ff0c 30.5px,#1eff00 33.5px,#d9ff00 50.5px,#fef800 55.5px,#ffce00 63.5px,#ffaf00 77.5px,#ffb300 85.5px,#fff400 97.5px,#f0ff00 101.5px,#c0ff00 109.5px,#8aff00 121.5px,#20ff00 136.5px,#00ff01 144.5px,#00ff34 153.5px,#00ffeb 178.5px,#00faff 183.5px,#00bfff 202.5px,#00bfff)"></i><i style="background:linear-gradient(90deg,#00b0ff,#00dcff 7.5px,#00fef4 11.5px,#00ff51 24.5px,#07ff07 30.5px,#76ff00 40.5px,#f9fd00 53.5px,#ffca00 63.5px,#ffad00 76.5px,#ffb100 85.5px,#fdfe00 99.5px,#c0ff00 109.5px,#8fff00 120.5px,#15ff00 138.5px,#00ff05 145.5px,#00ff3c 154.5px,#00ffea 178.5px,#00faff 183.5px,#00cfff 197.5px,#00bfff 203.5px,#00bfff)"></i><i style="background:linear-gradient(90deg,#00b2ff,#00dfff 7.5px,#00fbf9 10.5px,#00ff64 22.5px,#05ff09 29.5px,#3aff00 34.5px,#dcff00 49.5px,#fcf900 53.5px,#ffc900 62.5px,#ffa500 78.5px,#ffb400 86.5px,#fefe00 99.5px,#c1ff00 109.5px,#8bff00 121.5px,#20ff00 136.5px,#00ff01 144.5px,#00ff34 153.5px,#00ffea 178.5px,#00fbff 183.5px,#00cfff 196.5px,#00bfff 203.5px,#00bfff)"></i><i style="background:linear-gradient(90deg,#00b6ff,#00e3ff 7.5px,#00fdf6 10.5px,#02ff0e 28.5px,#1eff00 31.5px,#d1ff00 47.5px,#fbfb00 52.5px,#ffc300 62.5px,#ffa000 79.5px,#ffbd00 88.5px,#faff00 100.5px,#bfff00 110.5px,#8bff00 121.5px,#15ff00 138.5px,#00ff04 145.5px,#00ff33 153.5px,#00ffea 178.5px,#00fdff 183.5px,#00cfff 196.5px,#00c4ff 200.5px,#00bfff)"></i><i style="background:linear-gradient(90deg,#00bcff,#00e6ff 7.5px,#00fef2 10.5px,#05ff08 28.5px,#3eff00 33.5px,#e2ff00 48.5px,#fdf800 52.5px,#ffc100 61.5px,#ffa000 77.5px,#ffa600 83.5px,#ffe200 95.5px,#fafe00 100.5px,#c0ff00 110.5px,#92ff00 120.5px,#15ff00 138.5px,#00ff02 145.5px,#00ff2c 152.5px,#00ffef 179.5px,#00feff 183.5px,#00cfff 196.5px,#00c4ff 200.5px,#00bfff)"></i><i style="background:linear-gradient(90deg,#00c1ff,#00e1ff 6.5px,#00fbf9 9.5px,#02ff0c 27.5px,#22ff00 30.5px,#c1ff00 44.5px,#f9fd00 50.5px,#ffc100 60.5px,#ff9f00 75.5px,#ffa300 83.5px,#ffed00 97.5px,#f3ff00 101.5px,#beff00 111.5px,#93ff00 120.5px,#1bff00 137.5px,#00ff00 144.5px,#00ff1c 150.5px,#00ffee 179.5px,#00feff 183.5px,#00cfff 196.5px,#00bfff 203.5px,#00bfff)"></i><i style="background:linear-gradient(90deg,#00c6ff,#00e5ff 6.5px,#00fdf6 9.5px,#05ff07 27.5px,#7dff00 37.5px,#f7fd00 49.5px,#ffd100 56.5px,#ffae00 65.5px,#ff9e00 75.5px,#ffa600 84.5px,#ffeb00 97.5px,#f4ff00 101.5px,#beff00 111.5px,#93ff00 120.5px,#1bff00 137.5px,#00ff00 144.5px,#00ff1c 150.5px,#00ffec 179.5px,#00feff 183.5px,#00cfff 197.5px,#00bfff 203.5px,#00bfff)"></i><i style="background:linear-gradient(90deg,#00ccff,#00e1ff 5.5px,#00fafb 8.5px,#02ff09 26.5px,#23ff00 29.5px,#bbff00 42.5px,#fbfb00 49.5px,#ffbc00 59.5px,#ff9f00 71.5px,#ffa000 83.5px,#ffe300 96.5px,#fafe00 100.5px,#c0ff00 110.5px,#9bff00 119.5px,#1bff00 137.5px,#00ff00 144.5px,#00ff27 152.5px,#00ffdf 177.5px,#00fefe 183.5px,#00cfff 197.5px,#00bfff 203.5px,#00bfff)"></i><i style="background:linear-gradient(90deg,#00d1ff,#00edff 6.5px,#00fbf9 8.5px,#05ff05 26.5px,#b9ff00 41.5px,#f9fc00 48.5px,#ffb600 59.5px,#ff9e00 69.5px,#ff9500 78.5px,#ffb400 88.5px,#ffeb00 97.5px,#f6ff00 101.5px,#b4ff00 113.5px,#93ff00 120.5px,#1bff00 137.5px,#00ff00 144.5px,#00ff25 152.5px,#00ff9d 168.5px,#00ffea 179.5px,#00fbff 184.5px,#00bfff 202.5px,#00bfff)"></i><i style="background:linear-gradient(90deg,#00d6ff,#00e9ff 5.5px,#00fdf6 8.5px,#03ff09 25.5px,#24ff00 28.5px,#abff00 39.5px,#f9fd00 47.5px,#ffae00 60.5px,#ff9000 75.5px,#ff9a00 81.5px,#ffc400 91.5px,#fdfd00 100.5px,#b1ff00 114.5px,#8cff00 121.5px,#1bff00 137.5px,#00ff00 144.5px,#00ff25 152.5px,#00ff95 167.5px,#00ffea 179.5px,#00fdff 184.5px,#00cfff 197.5px,#00bfff)"></i><i style="background:linear-gradient(90deg,#00dcff,#00edff 5.5px,#00fef1 8.5px,#02ff0e 24.5px,#1dff00 27.5px,#7aff00 34.5px,#efff00 45.5px,#fef300 48.5px,#ffae00 59.5px,#ff9000 73.5px,#ff9600 81.5px,#ffd300 94.5px,#fafe00 101.5px,#c0ff00 111.5px,#93ff00 120.5px,#1bff00 137.5px,#00ff01 145.5px,#00ff34 154.5px,#00ffd0 175.5px,#00fffe 183.5px,#00cfff 197.5px,#00bfff)"></i><i style="background:linear-gradient(90deg,#00e1ff,#00f8fd 6.5px,#00ffdf 9.5px,#01ff15 23.5px,#0cff02 25.5px,#b1ff00 38.5px,#fbfb00 46.5px,#ffb400 57.5px,#ff9b00 64.5px,#ff8f00 73.5px,#ff9400 81.5px,#ffd200 94.5px,#fafe00 101.5px,#c0ff00 111.5px,#93ff00 120.5px,#1bff00 137.5px,#00ff01 145.5px,#00ff24 152.5px,#00ff8d 166.5px,#00ffef 180.5px,#00feff 184.5px,#00dfff 192.5px,#00cfff 198.5px,#00bfff)"></i><i style="background:linear-gradient(90deg,#00e6ff,#00fbfb 6.5px,#00ffda 9.5px,#00ff37 20.5px,#07ff05 24.5px,#b9ff00 38.5px,#f9fc00 45.5px,#ffb500 56.5px,#ff9600 64.5px,#ff8f00 79.5px,#ffc400 92.5px,#fafe00 101.5px,#c0ff00 111.5px,#9bff00 119.5px,#15ff00 138.5px,#00ff02 146.5px,#00ff2c 153.5px,#00ff85 165.5px,#00ffe8 179.5px,#00feff 184.5px,#00cfff 197.5px,#00c4ff 201.5px,#00bfff)"></i><i style="background:linear-gradient(90deg,#00ecff,#00fdf9 6.5px,#00ffc3 10.5px,#00ff30 20.5px,#04ff09 23.5px,#24ff00 26.5px,#9dff00 35.5px,#f9fd00 44.5px,#ffaf00 56.5px,#ff9100 64.5px,#ff8e00 76.5px,#ff9600 82.5px,#ffdc00 96.5px,#fafe00 101.5px,#c0ff00 111.5px,#a3ff00 118.5px,#15ff00 138.5px,#00ff01 146.5px,#00ff2c 153.5px,#00ff7f 164.5px,#00ffec 180.5px,#00faff 185.5px,#00cfff 197.5px,#00bfff)"></i><i style="background:linear-gradient(90deg,#00f3ff,#00fdfc 5.5px,#00ffdd 8.5px,#00ff61 16.5px,#02ff0e 22.5px,#1dff00 25.5px,#99ff00 34.5px,#f7fd00 43.5px,#ffcc00 50.5px,#ff9300 61.5px,#ff8500 74.5px,#ff9400 82.5px,#ffd400 95.5px,#fafe00 101.5px,#c0ff00 111.5px,#a3ff00 118.5px,#15ff00 138.5px,#00ff01 146.5px,#00ff2c 153.5px,#00ffb9 172.5px,#00fefe 184.5px,#00cfff 197.5px,#00bfff)"></i><i style="background:linear-gradient(90deg,#00fafe,#00fff7 5.5px,#00ffd8 8.5px,#00ff66 15.5px,#05ff09 22.5px,#25ff00 25.5px,#9fff00 34.5px,#f4fe00 42.5px,#ffe500 46.5px,#ffaf00 54.5px,#ff8f00 61.5px,#ff8100 74.5px,#ff8f00 80.5px,#ffbc00 91.5px,#fafe00 101.5px,#c0ff00 111.5px,#a3ff00 118.5px,#1dff00 137.5px,#00ff00 145.5px,#00ff1c 151.5px,#00ffb0 171.5px,#00ffef 181.5px,#00fdff 185.5px,#00cfff 197.5px,#00c8ff 201.5px,#00bfff)"></i><i style="background:linear-gradient(90deg,#00fefa,#00fff0 5.5px,#00ffc0 9.5px,#00ff5e 15.5px,#02ff0e 21.5px,#1eff00 24.5px,#a6ff00 34.5px,#f2fe00 41.5px,#ffe900 45.5px,#ffaa00 54.5px,#ff8900 62.5px,#ff8000 74.5px,#ffa100 86.5px,#ffdb00 96.5px,#fbfe00 101.5px,#bfff00 112.5px,#9bff00 119.5px,#24ff00 136.5px,#00ff00 145.5px,#00ff1c 151.5px,#00ffdf 178.5px,#00feff 185.5px,#00d0ff 197.5px,#00caff 201.5px,#00bfff)"></i><i style="background:linear-gradient(90deg,#00fff3,#00ffe8 5.5px,#00ffb8 9.5px,#00ff56 15.5px,#05ff08 21.5px,#44ff00 26.5px,#b9ff00 35.5px,#f7fd00 41.5px,#ffcb00 48.5px,#ff9000 58.5px,#ff7f00 66.5px,#ff8600 77.5px,#ffa500 87.5px,#ffdb00 96.5px,#fdfe00 101.5px,#b0ff00 115.5px,#9bff00 119.5px,#25ff00 136.5px,#00ff00 145.5px,#00ff27 153.5px,#00ffd2 176.5px,#00fffe 184.5px,#00cfff 198.5px,#00c4ff 202.5px,#00bfff)"></i><i style="background:linear-gradient(90deg,#00ffeb,#00ffde 5.5px,#00ffbe 8.5px,#00ff40 16.5px,#03ff0c 20.5px,#22ff00 23.5px,#b5ff00 34.5px,#fbfb00 41.5px,#ffa500 53.5px,#ff8100 61.5px,#ff7e00 72.5px,#ff8900 78.5px,#ffa400 87.5px,#ffdb00 96.5px,#fefe00 101.5px,#b0ff00 115.5px,#9bff00 119.5px,#25ff00 136.5px,#00ff00 145.5px,#00ff25 153.5px,#00ff9f 169.5px,#00fffa 183.5px,#00f4ff 187.5px,#00cfff 198.5px,#00bfff)"></i><i style="background:linear-gradient(90deg,#00ffe3,#00ffd4 5.5px,#00ffb3 8.5px,#00ff36 16.5px,#07ff07 20.5px,#54ff00 26.5px,#c8ff00 35.5px,#f9fc00 40.5px,#ff9f00 53.5px,#ff7c00 61.5px,#ff7500 70.5px,#ff8600 78.5px,#ffa300 87.5px,#ffdb00 96.5px,#fefd00 101.5px,#b0ff00 115.5px,#9bff00 119.5px,#25ff00 136.5px,#00ff00 145.5px,#00ff25 153.5px,#00ff9e 169.5px,#00fff3 182.5px,#00faff 186.5px,#00dfff 193.5px,#00cfff 199.5px,#00c0ff)"></i><i style="background:linear-gradient(90deg,#00ffdb,#00ffca 5.5px,#00ffaa 8.5px,#00ff3b 15.5px,#05ff09 19.5px,#3eff00 24.5px,#b9ff00 33.5px,#f7fd00 39.5px,#ffcb00 46.5px,#ff8f00 55.5px,#ff7100 64.5px,#ff7500 72.5px,#ff9000 82.5px,#ffb300 90.5px,#fafe00 102.5px,#b4ff00 114.5px,#a3ff00 118.5px,#2bff00 135.5px,#01ff00 144.5px,#00ff0b 148.5px,#00ff34 155.5px,#00ff9d 169.5px,#00fff1 182.5px,#00faff 186.5px,#00cfff 198.5px,#00c9ff 202.5px,#00c0ff)"></i><i style="background:linear-gradient(90deg,#00ffd3,#00ffb8 6.5px,#00ff6e 11.5px,#02ff0c 18.5px,#1eff00 21.5px,#caff00 34.5px,#fbf900 39.5px,#ff8e00 54.5px,#ff6f00 63.5px,#ff7200 72.5px,#ff8f00 82.5px,#ffab00 89.5px,#fafe00 102.5px,#b0ff00 115.5px,#9bff00 119.5px,#25ff00 136.5px,#00ff00 145.5px,#00ff1d 152.5px,#00ff95 168.5px,#00ffec 181.5px,#00faff 186.5px,#00cfff 198.5px,#00caff 202.5px,#00c0ff)"></i><i style="background:linear-gradient(90deg,#00ffcb,#00ffab 6.5px,#01ff0f 17.5px,#1aff00 20.5px,#d1ff00 34.5px,#f9fb00 38.5px,#ff8c00 53.5px,#ff6c00 62.5px,#ff6900 68.5px,#ff9c00 86.5px,#fff300 100.5px,#f3ff00 103.5px,#aeff00 116.5px,#64ff00 127.5px,#20ff00 137.5px,#00ff00 145.5px,#00ff15 151.5px,#00ff8e 167.5px,#00ffeb 181.5px,#00fbff 186.5px,#00cfff 199.5px,#00c1ff)"></i><i style="background:linear-gradient(90deg,#00ffc2,#00ff9f 6.5px,#03ff09 17.5px,#2eff00 21.5px,#d9ff00 34.5px,#fcf800 38.5px,#ff8000 54.5px,#ff6200 65.5px,#ff7300 73.5px,#ff9b00 86.5px,#ffe300 98.5px,#fafe00 102.5px,#b0ff00 115.5px,#9cff00 119.5px,#20ff00 137.5px,#00ff00 145.5px,#00ff0b 149.5px,#00ff4b 158.5px,#00ffda 178.5px,#00fdff 186.5px,#00cfff 199.5px,#00c9ff 203.5px,#00c3ff)"></i><i style="background:linear-gradient(90deg,#00ffb9,#00ff92 6.5px,#00ff40 12.5px,#03ff0c 16.5px,#1dff00 19.5px,#dfff00 34.5px,#fef200 38.5px,#ff7600 55.5px,#ff5f00 65.5px,#ff6a00 71.5px,#ff7f00 77.5px,#ff9a00 86.5px,#ffe300 98.5px,#fafe00 102.5px,#b1ff00 115.5px,#83ff00 123.5px,#25ff00 136.5px,#01ff00 145.5px,#00ff0b 149.5px,#00ff52 159.5px,#00ffdf 179.5px,#00feff 186.5px,#00dfff 194.5px,#00cfff 200.5px,#00c4ff)"></i><i style="background:linear-gradient(90deg,#00ffb0,#00ff7b 7.5px,#02ff0f 15.5px,#1aff00 18.5px,#f0fe00 35.5px,#ffeb00 38.5px,#ff7100 55.5px,#ff5b00 65.5px,#ff6600 71.5px,#ff7f00 77.5px,#ff9e00 87.5px,#fff300 100.5px,#f4ff00 103.5px,#b3ff00 115.5px,#73ff00 125.5px,#15ff00 139.5px,#00ff01 147.5px,#00ff3e 157.5px,#00ffa9 171.5px,#00fffa 184.5px,#00f4ff 188.5px,#00cfff 199.5px,#00c7ff)"></i><i style="background:linear-gradient(90deg,#00ffa8,#00ff6e 7.5px,#05ff08 15.5px,#3cff00 20.5px,#edff00 34.5px,#feef00 37.5px,#ff7100 54.5px,#ff5500 64.5px,#ff6300 71.5px,#ff7f00 77.5px,#ff9c00 87.5px,#fafe00 102.5px,#beff00 113.5px,#7cff00 124.5px,#15ff00 139.5px,#00ff01 147.5px,#00ff3c 157.5px,#00ffcb 176.5px,#00fffe 185.5px,#00cfff 199.5px,#00ccff)"></i><i style="background:linear-gradient(90deg,#00ff9d,#00ff6c 6.5px,#03ff09 14.5px,#37ff00 19.5px,#f3fe00 34.5px,#ffea00 37.5px,#ff6d00 54.5px,#ff5100 65.5px,#ff6100 71.5px,#ff7f00 77.5px,#ff8600 81.5px,#ffa500 89.5px,#fbfe00 102.5px,#9cff00 119.5px,#15ff00 139.5px,#00ff01 147.5px,#00ff34 156.5px,#00ffa4 171.5px,#00ffef 182.5px,#00faff 187.5px,#00d0ff 199.5px,#00cfff)"></i><i style="background:linear-gradient(90deg,#00ff92,#00ff60 6.5px,#03ff0c 13.5px,#27ff00 17.5px,#f7fd00 34.5px,#ffca00 40.5px,#ff6300 55.5px,#ff4f00 64.5px,#ff5900 70.5px,#ff7f00 77.5px,#ff8500 81.5px,#ffa400 89.5px,#fdfe00 102.5px,#83ff00 123.5px,#15ff00 139.5px,#00ff01 147.5px,#00ff34 156.5px,#00ff9d 170.5px,#00fff1 183.5px,#00faff 187.5px,#00cfff 200.5px,#00cfff)"></i><i style="background:linear-gradient(90deg,#00ff89,#00ff55 6.5px,#02ff0d 12.5px,#25ff00 16.5px,#f3fe00 33.5px,#ffdf00 37.5px,#ffaa00 44.5px,#ff5f00 55.5px,#ff4c00 64.5px,#ff5600 70.5px,#ff7f00 77.5px,#ff8400 81.5px,#ffa400 89.5px,#fefe00 102.5px,#83ff00 123.5px,#15ff00 139.5px,#00ff01 147.5px,#00ff24 154.5px,#00ff8f 168.5px,#00fff0 183.5px,#00fbff 187.5px,#00cfff 200.5px,#00cfff)"></i><i style="background:linear-gradient(90deg,#00ff81,#00ff4a 6.5px,#05ff07 12.5px,#80ff00 23.5px,#f8fd00 33.5px,#ffbe00 40.5px,#ff5500 56.5px,#ff4700 65.5px,#ff5c00 71.5px,#ff7f00 77.5px,#ff8400 81.5px,#ffa400 89.5px,#fefe00 102.5px,#83ff00 123.5px,#17ff00 139.5px,#00ff00 147.5px,#00ff24 154.5px,#00ff8e 168.5px,#00ffeb 182.5px,#00fdff 187.5px,#00cfff 200.5px,#00cfff)"></i><i style="background:linear-gradient(90deg,#00ff79,#00ff35 7.5px,#03ff08 11.5px,#36ff00 16.5px,#f3fe00 32.5px,#ffdf00 36.5px,#ffa500 43.5px,#ff5500 55.5px,#ff4200 65.5px,#ff5c00 71.5px,#ff7f00 77.5px,#ff8900 82.5px,#ff9d00 88.5px,#fefd00 102.5px,#83ff00 123.5px,#23ff00 137.5px,#00ff00 146.5px,#00ff0b 150.5px,#00ff4b 159.5px,#00ffda 179.5px,#00feff 187.5px,#00dfff 195.5px,#00cfff 201.5px,#00cfff)"></i><i style="background:linear-gradient(90deg,#00ff71,#07ff03 11.5px,#bfff00 27.5px,#f8fd00 32.5px,#ffbc00 39.5px,#ff5100 55.5px,#ff4000 64.5px,#ff5400 70.5px,#ff7f00 77.5px,#ff8600 82.5px,#ff9c00 88.5px,#fefb00 102.5px,#83ff00 123.5px,#24ff00 137.5px,#00ff00 146.5px,#00ff0b 150.5px,#00ff51 160.5px,#00ffdf 180.5px,#00feff 187.5px,#00dfff 195.5px,#00cfff 202.5px,#00cfff)"></i><i style="background:linear-gradient(90deg,#00ff6b,#06ff05 10.5px,#66ff00 19.5px,#f3fe00 31.5px,#ffdf00 35.5px,#ffa900 41.5px,#ff4e00 55.5px,#ff4000 62.5px,#ff4400 67.5px,#ff7f00 77.5px,#ff8500 82.5px,#ff9c00 88.5px,#fafe00 103.5px,#64ff00 128.5px,#25ff00 137.5px,#00ff00 146.5px,#00ff0b 150.5px,#00ff3e 158.5px,#00ffae 173.5px,#00fffa 185.5px,#00f4ff 189.5px,#00cfff 202.5px,#00cfff)"></i><i style="background:linear-gradient(90deg,#00ff66,#04ff07 9.5px,#56ff00 17.5px,#f8fd00 31.5px,#ffbb00 38.5px,#ff4a00 55.5px,#ff4000 62.5px,#ff4700 68.5px,#ff7f00 77.5px,#ff8400 82.5px,#ff9b00 88.5px,#fafe00 103.5px,#64ff00 128.5px,#25ff00 137.5px,#01ff00 146.5px,#00ff0b 150.5px,#00ff3c 158.5px,#00ffcb 177.5px,#00fffd 186.5px,#00cfff 202.5px,#00cfff)"></i><i style="background:linear-gradient(90deg,#00ff5e,#02ff09 8.5px,#30ff00 13.5px,#f3fe00 30.5px,#ffdf00 34.5px,#ffa600 40.5px,#ff4200 56.5px,#ff4500 68.5px,#ff7f00 77.5px,#ff8400 82.5px,#ff9b00 88.5px,#fafe00 103.5px,#64ff00 128.5px,#20ff00 138.5px,#00ff00 147.5px,#00ff24 155.5px,#00ff9e 171.5px,#00ffed 183.5px,#00fbff 188.5px,#00deff 197.5px,#00cfff 202.5px,#00cfff)"></i><i style="background:linear-gradient(90deg,#00ff57,#05ff05 8.5px,#a9ff00 23.5px,#f8fc00 30.5px,#ffc500 36.5px,#ff9000 43.5px,#ff4200 55.5px,#ff4200 67.5px,#ff7f00 77.5px,#ff8400 82.5px,#ffa100 89.5px,#fbfe00 103.5px,#64ff00 128.5px,#15ff00 140.5px,#00ff01 148.5px,#00ff24 155.5px,#00ff9d 171.5px,#00ffec 183.5px,#00fdff 188.5px,#00dfff 196.5px,#00cfff 203.5px,#00cfff)"></i><i style="background:linear-gradient(90deg,#00ff50,#03ff07 7.5px,#60ff00 16.5px,#f3fd00 29.5px,#ffdf00 33.5px,#ff9f00 40.5px,#ff4000 55.5px,#ff3b00 62.5px,#ff4900 68.5px,#ff7f00 77.5px,#ff8400 82.5px,#ffa500 90.5px,#fdfe00 103.5px,#6cff00 127.5px,#15ff00 140.5px,#00ff01 148.5px,#00ff24 155.5px,#00ff94 170.5px,#00ffeb 183.5px,#00feff 188.5px,#00dfff 197.5px,#00cfff 203.5px,#00cfff)"></i><i style="background:linear-gradient(90deg,#00ff48,#06ff03 7.5px,#ccff00 25.5px,#f8fb00 29.5px,#ffbb00 36.5px,#ff4100 54.5px,#ff3400 61.5px,#ff4f00 69.5px,#ff7f00 77.5px,#ff8400 82.5px,#ffa400 90.5px,#fefe00 103.5px,#9fff00 119.5px,#15ff00 140.5px,#00ff00 148.5px,#00ff24 155.5px,#00ffb2 174.5px,#00fffa 186.5px,#00f4ff 190.5px,#00cfff 203.5px,#00cfff)"></i><i style="background:linear-gradient(90deg,#00ff41,#04ff05 6.5px,#d2ff00 25.5px,#fbf800 29.5px,#ff9f00 39.5px,#ff3e00 54.5px,#ff3100 61.5px,#ff5400 70.5px,#ff7f00 77.5px,#ff8400 82.5px,#ffa400 90.5px,#fefd00 103.5px,#9fff00 119.5px,#15ff00 140.5px,#00ff00 148.5px,#00ff23 155.5px,#00ffa9 173.5px,#00fff8 186.5px,#00f4ff 190.5px,#00cfff)"></i><i style="background:linear-gradient(90deg,#00ff3b,#07ff02 6.5px,#f9fb00 28.5px,#ff9c00 39.5px,#ff3a00 54.5px,#ff3000 60.5px,#ff4b00 68.5px,#ff7f00 77.5px,#ff8400 82.5px,#ffa400 90.5px,#fafe00 104.5px,#afff00 116.5px,#52ff00 131.5px,#15ff00 140.5px,#00ff00 148.5px,#00ff27 156.5px,#00ffa0 172.5px,#00fff1 185.5px,#00f6ff 190.5px,#00dfff 198.5px,#00cfff)"></i><i style="background:linear-gradient(90deg,#00ff36,#05ff04 5.5px,#f6fd00 27.5px,#ffd100 32.5px,#ff7c00 43.5px,#ff3200 55.5px,#ff3500 63.5px,#ff6300 72.5px,#ff7f00 78.5px,#ff8400 82.5px,#ffa400 90.5px,#fafe00 104.5px,#afff00 116.5px,#62ff00 129.5px,#17ff00 140.5px,#00ff00 148.5px,#00ff25 156.5px,#00ffbb 176.5px,#00fffe 188.5px,#00dfff 198.5px,#00cfff)"></i><i style="background:linear-gradient(90deg,#00ff2f,#09ff02 5.5px,#fafb00 27.5px,#ff9c00 38.5px,#ff3200 54.5px,#ff3500 63.5px,#ff6300 72.5px,#ff7f00 78.5px,#ff8400 82.5px,#ffa400 90.5px,#fbfe00 104.5px,#afff00 116.5px,#63ff00 129.5px,#23ff00 138.5px,#00ff00 147.5px,#00ff0b 151.5px,#00ff34 158.5px,#00ffba 176.5px,#00fffe 188.5px,#00dfff 199.5px,#00d0ff)"></i><i style="background:linear-gradient(90deg,#00ff28,#06ff04 4.5px,#f6fd00 26.5px,#ffcf00 31.5px,#ff7000 44.5px,#ff3000 54.5px,#ff3500 63.5px,#ff6400 72.5px,#ff7f00 78.5px,#ff8400 82.5px,#ffa400 90.5px,#fdfe00 104.5px,#b4ff00 115.5px,#64ff00 129.5px,#24ff00 138.5px,#01ff00 147.5px,#00ff0b 151.5px,#00ff2c 157.5px,#00ffb2 175.5px,#00fffe 188.5px,#00dfff 199.5px,#00d2ff)"></i><i style="background:linear-gradient(90deg,#00ff21,#0bff02 4.5px,#fafb00 26.5px,#ffa300 36.5px,#ff3100 53.5px,#ff2e00 60.5px,#ff4400 66.5px,#ff7f00 77.5px,#ff8400 82.5px,#ffa400 90.5px,#fefd00 104.5px,#b4ff00 115.5px,#6cff00 128.5px,#20ff00 139.5px,#00ff00 148.5px,#00ff1c 155.5px,#00ffaa 174.5px,#00fffd 188.5px,#00dfff 200.5px,#00d6ff)"></i><i style="background:linear-gradient(90deg,#00ff1c,#07ff03 3.5px,#f6fd00 25.5px,#ffcf00 30.5px,#ff7000 43.5px,#ff2f00 53.5px,#ff2500 58.5px,#ff4400 66.5px,#ff7f00 77.5px,#ff8400 82.5px,#ffa400 90.5px,#fafe00 105.5px,#bbff00 114.5px,#6cff00 128.5px,#15ff00 141.5px,#00ff00 149.5px,#00ff23 156.5px,#00ffa2 173.5px,#00fffb 188.5px,#00e4ff 197.5px,#00dcff)"></i><i style="background:linear-gradient(90deg,#00ff17,#0bff01 3.5px,#f9fb00 25.5px,#ffa200 35.5px,#ff3000 52.5px,#ff2100 57.5px,#ff4400 66.5px,#ff7f00 77.5px,#ff8400 82.5px,#ffa400 90.5px,#fafe00 105.5px,#b4ff00 115.5px,#6cff00 128.5px,#15ff00 141.5px,#00ff00 149.5px,#00ff27 157.5px,#00ffa0 173.5px,#00fffa 188.5px,#00f4ff 192.5px,#00dfff 201.5px,#00deff)"></i><i style="background:linear-gradient(90deg,#00ff11,#0fff01 3.5px,#f4fe00 24.5px,#ffda00 28.5px,#ff9600 36.5px,#ff2e00 52.5px,#ff2000 57.5px,#ff3400 63.5px,#ff7f00 77.5px,#ff8400 82.5px,#ffa400 90.5px,#fafe00 105.5px,#b4ff00 115.5px,#60ff00 130.5px,#15ff00 141.5px,#00ff00 149.5px,#00ff25 157.5px,#00ffbb 177.5px,#00fffe 189.5px,#00dfff 201.5px,#00dfff)"></i><i style="background:linear-gradient(90deg,#00ff0c,#12ff00 3.5px,#f8fd00 24.5px,#ffb700 31.5px,#ff2a00 52.5px,#ff2000 57.5px,#ff2700 61.5px,#ff7f00 77.5px,#ff8400 82.5px,#ffae00 92.5px,#fafe00 105.5px,#afff00 116.5px,#5bff00 131.5px,#15ff00 141.5px,#00ff00 149.5px,#00ff24 157.5px,#00ffba 177.5px,#00fffd 189.5px,#00dfff 201.5px,#00dfff)"></i><i style="background:linear-gradient(90deg,#01ff08,#16ff00 3.5px,#f3fe00 23.5px,#ffe600 26.5px,#ffa500 33.5px,#ff2700 52.5px,#ff2100 60.5px,#ff7f00 77.5px,#ff8400 82.5px,#ffb600 94.5px,#fbfe00 105.5px,#b4ff00 115.5px,#6aff00 129.5px,#15ff00 141.5px,#00ff00 149.5px,#00ff24 157.5px,#00ffab 175.5px,#00fff1 187.5px,#00faff 192.5px,#00dfff 201.5px,#00dfff)"></i><i style="background:linear-gradient(90deg,#01ff03,#25ff00 4.5px,#f7fd00 23.5px,#ffc200 29.5px,#ff8900 37.5px,#ff2400 52.5px,#ff2500 61.5px,#ff7000 74.5px,#ff7f00 78.5px,#ff8400 82.5px,#ffb400 94.5px,#fdfd00 105.5px,#b4ff00 115.5px,#71ff00 128.5px,#17ff00 141.5px,#00ff00 149.5px,#00ff1c 156.5px,#00ffaa 175.5px,#00fff0 187.5px,#00feff 191.5px,#00dfff 202.5px,#00dfff)"></i><i style="background:linear-gradient(90deg,#02ff01,#34ff00 5.5px,#f9fb00 23.5px,#ff9e00 33.5px,#ff2500 51.5px,#ff2000 59.5px,#ff3000 63.5px,#ff6e00 73.5px,#ff8000 79.5px,#ff8b00 83.5px,#ffab00 92.5px,#ffe200 101.5px,#f9fe00 106.5px,#cfff00 111.5px,#90ff00 122.5px,#6bff00 129.5px,#24ff00 139.5px,#10ff00 144.5px,#00ff00 150.5px,#00ff23 157.5px,#00ffa2 174.5px,#00fffa 189.5px,#00f8ff 193.5px,#00dfff 202.5px,#00dfff)"></i><i style="background:linear-gradient(90deg,#04ff00,#41ff00 6.5px,#fbfa00 23.5px,#ffa300 32.5px,#ff3a00 47.5px,#ff2000 52.5px,#ff1b00 57.5px,#ff2700 62.5px,#ff6f00 73.5px,#ff8000 79.5px,#ff8b00 83.5px,#ffab00 92.5px,#ffed00 103.5px,#fafe00 106.5px,#cfff00 111.5px,#90ff00 122.5px,#6cff00 129.5px,#20ff00 140.5px,#00ff00 149.5px,#00ff0b 153.5px,#00ff3e 161.5px,#00ffa0 174.5px,#00fffa 189.5px,#00faff 193.5px,#00dfff 203.5px,#00dfff)"></i><i style="background:linear-gradient(90deg,#05ff00,#44ff00 6.5px,#f7fe00 22.5px,#ffce00 27.5px,#ffa000 32.5px,#ff3e00 46.5px,#ff2100 51.5px,#ff1600 57.5px,#ff2c00 63.5px,#ff6b00 72.5px,#ff8000 79.5px,#ff8b00 83.5px,#ffab00 92.5px,#ffeb00 103.5px,#fafe00 106.5px,#b4ff00 115.5px,#73ff00 128.5px,#15ff00 142.5px,#00ff00 150.5px,#00ff25 158.5px,#00ffac 176.5px,#00fff3 188.5px,#00feff 192.5px,#00efff 197.5px,#00dfff 203.5px,#00dfff)"></i><i style="background:linear-gradient(90deg,#05ff00,#5fff00 8.5px,#f9fd00 22.5px,#ff9e00 32.5px,#ff2200 50.5px,#ff1200 57.5px,#ff2c00 63.5px,#ff6b00 72.5px,#ff8000 79.5px,#ff8b00 83.5px,#ffaa00 92.5px,#ffdb00 101.5px,#fafe00 106.5px,#abff00 117.5px,#6cff00 129.5px,#15ff00 142.5px,#00ff00 150.5px,#00ff24 158.5px,#00ffab 176.5px,#00fff1 188.5px,#00fbff 193.5px,#00efff 197.5px,#00dfff)"></i><i style="background:linear-gradient(90deg,#05ff00,#fafb00 22.5px,#ff9d00 32.5px,#ff2100 50.5px,#ff1000 56.5px,#ff2500 62.5px,#ff6400 71.5px,#ff7f00 78.5px,#ff8400 82.5px,#ffbb00 96.5px,#fafe00 106.5px,#abff00 117.5px,#66ff00 130.5px,#15ff00 142.5px,#00ff00 150.5px,#00ff24 158.5px,#00ffab 176.5px,#00fff0 188.5px,#00ffff 192.5px,#00dfff)"></i><i style="background:linear-gradient(90deg,#06ff00,#f2fe00 21.5px,#ffe900 24.5px,#ffa300 31.5px,#ff2300 49.5px,#ff1000 55.5px,#ff1900 60.5px,#ff6a00 72.5px,#ff7f00 78.5px,#ff8400 82.5px,#ffb000 94.5px,#ffe300 102.5px,#fafe00 106.5px,#abff00 117.5px,#62ff00 131.5px,#1bff00 141.5px,#00ff00 150.5px,#00ff1c 157.5px,#00ff8d 172.5px,#00ffec 187.5px,#00ffff 192.5px,#00efff 198.5px,#00dfff)"></i><i style="background:linear-gradient(90deg,#06ff00,#f5fe00 21.5px,#ffdb00 25.5px,#ff9b00 32.5px,#ff2100 49.5px,#ff1000 55.5px,#ff1700 60.5px,#ff6900 72.5px,#ff7f00 78.5px,#ff8400 82.5px,#ff9000 86.5px,#ffbf00 97.5px,#fafe00 106.5px,#a4ff00 118.5px,#63ff00 131.5px,#1dff00 141.5px,#00ff00 150.5px,#00ff15 156.5px,#00ff85 171.5px,#00ffdf 185.5px,#00ffff 192.5px,#00efff 198.5px,#00dfff)"></i><i style="background:linear-gradient(90deg,#06ff00,#f7fe00 21.5px,#ffce00 26.5px,#ffa100 31.5px,#ff5600 41.5px,#ff1a00 50.5px,#ff1000 55.5px,#ff1500 60.5px,#ff5c00 70.5px,#ff7f00 78.5px,#ff8400 82.5px,#ff9000 86.5px,#ffbe00 97.5px,#fafd00 106.5px,#a4ff00 118.5px,#63ff00 131.5px,#23ff00 140.5px,#10ff00 145.5px,#00ff00 151.5px,#00ff23 158.5px,#00ff9a 174.5px,#00ffef 188.5px,#00feff 193.5px,#00efff 198.5px,#00dfff)"></i><i style="background:linear-gradient(90deg,#06ff00,#efff00 20.5px,#ffed00 23.5px,#ffa500 30.5px,#ff5300 41.5px,#ff1700 50.5px,#ff1100 59.5px,#ff3300 64.5px,#ff6000 71.5px,#ff7f00 78.5px,#ff8400 82.5px,#ff9000 86.5px,#ffb600 96.5px,#fafb00 106.5px,#a4ff00 118.5px,#64ff00 131.5px,#20ff00 141.5px,#00ff00 150.5px,#00ff0b 154.5px,#00ff3e 162.5px,#00ff99 174.5px,#00ffee 188.5px,#00fbff 194.5px,#00efff 198.5px,#00dfff)"></i><i style="background:linear-gradient(90deg,#06ff00,#e6ff00 19.5px,#fef500 22.5px,#ffa400 30.5px,#ff6200 39.5px,#ff1f00 48.5px,#ff1000 53.5px,#ff1700 61.5px,#ff4f00 68.5px,#ff7f00 78.5px,#ff8400 82.5px,#ff8f00 86.5px,#ffb400 96.5px,#fbfa00 106.5px,#a4ff00 118.5px,#6bff00 130.5px,#15ff00 143.5px,#00ff00 151.5px,#00ff25 159.5px,#00ff9d 175.5px,#00ffee 188.5px,#00fdff 194.5px,#00efff 199.5px,#00dfff)"></i><i style="background:linear-gradient(90deg,#06ff00,#e8ff00 19.5px,#fef200 22.5px,#ffa400 30.5px,#ff6900 38.5px,#ff2100 47.5px,#ff1000 52.5px,#ff1500 61.5px,#ff4e00 68.5px,#ff7e00 78.5px,#ff8900 83.5px,#ff9c00 90.5px,#ffc000 98.5px,#fdfa00 106.5px,#bfff00 114.5px,#90ff00 122.5px,#73ff00 129.5px,#15ff00 143.5px,#00ff01 152.5px,#00ff34 161.5px,#00ff95 174.5px,#00ffed 188.5px,#00ffff 193.5px,#00efff 199.5px,#00e0ff)"></i><i style="background:linear-gradient(90deg,#06ff00,#eaff00 19.5px,#fef000 22.5px,#ffab00 29.5px,#ff7100 37.5px,#ff2c00 45.5px,#ff1100 50.5px,#ff1500 61.5px,#ff5300 69.5px,#ff7f00 79.5px,#ff8600 83.5px,#ffa400 93.5px,#ffdb00 102.5px,#f9fe00 107.5px,#bfff00 114.5px,#90ff00 122.5px,#73ff00 129.5px,#1cff00 142.5px,#00ff00 151.5px,#00ff24 159.5px,#00ff8e 173.5px,#00ffeb 188.5px,#00ffff 193.5px,#00efff 199.5px,#00e1ff)"></i><i style="background:linear-gradient(90deg,#06ff00,#caff00 16.5px,#fbf900 21.5px,#ffa900 29.5px,#ff7b00 36.5px,#ff3600 43.5px,#ff1000 50.5px,#ff1100 60.5px,#ff5c00 71.5px,#ff7f00 80.5px,#ff9a00 90.5px,#ffc400 99.5px,#fafe00 107.5px,#bfff00 114.5px,#90ff00 122.5px,#6dff00 130.5px,#1eff00 142.5px,#00ff00 151.5px,#00ff1c 158.5px,#00ff8d 173.5px,#00ffdf 186.5px,#00ffff 193.5px,#00efff 199.5px,#00e8ff 203.5px,#00e3ff)"></i><i style="background:linear-gradient(90deg,#06ff00,#bfff00 15.5px,#fdf900 21.5px,#ffa700 29.5px,#ff7a00 36.5px,#ff3a00 42.5px,#ff1100 49.5px,#ff0800 57.5px,#ff1c00 62.5px,#ff5b00 71.5px,#ff7f00 80.5px,#ff9900 90.5px,#ffc300 99.5px,#fafe00 107.5px,#c0ff00 114.5px,#90ff00 122.5px,#69ff00 131.5px,#23ff00 141.5px,#00ff00 151.5px,#00ff15 157.5px,#00ff85 172.5px,#00ffea 188.5px,#00feff 194.5px,#00efff 199.5px,#00eaff 203.5px,#00e4ff)"></i><i style="background:linear-gradient(90deg,#06ff00,#aaff00 13.5px,#f9fe00 20.5px,#ffe100 23.5px,#ffa500 29.5px,#ff7800 36.5px,#ff3700 42.5px,#ff1000 49.5px,#ff0200 56.5px,#ff1a00 62.5px,#ff5300 70.5px,#ff7f00 80.5px,#ff9600 90.5px,#ffc300 99.5px,#fafe00 107.5px,#b4ff00 116.5px,#8fff00 123.5px,#63ff00 132.5px,#20ff00 142.5px,#00ff00 151.5px,#00ff0b 155.5px,#00ff4b 164.5px,#00ffda 185.5px,#00ffff 194.5px,#00efff 200.5px,#00e7ff)"></i><i style="background:linear-gradient(90deg,#06ff00,#b6ff00 14.5px,#f9fd00 20.5px,#ffa400 29.5px,#ff6c00 37.5px,#ff3400 42.5px,#ff1100 48.5px,#ff0000 56.5px,#ff1700 62.5px,#ff5100 70.5px,#ff7f00 80.5px,#ff8600 84.5px,#ffa500 94.5px,#ffe200 103.5px,#fafe00 107.5px,#94ff00 121.5px,#6bff00 131.5px,#15ff00 144.5px,#00ff00 152.5px,#00ff1c 158.5px,#00ff9e 176.5px,#00ffee 189.5px,#00feff 195.5px,#00efff 199.5px,#00ecff)"></i><i style="background:linear-gradient(90deg,#06ff00,#b9ff00 14.5px,#f9fb00 20.5px,#ffa400 29.5px,#ff6b00 37.5px,#ff3200 42.5px,#ff0e00 49.5px,#ff0000 55.5px,#ff0c00 60.5px,#ff5b00 72.5px,#ff7f00 81.5px,#ff9900 91.5px,#ffce00 101.5px,#fafe00 107.5px,#94ff00 121.5px,#6bff00 131.5px,#1cff00 143.5px,#00ff00 152.5px,#00ff27 160.5px,#00ffba 180.5px,#00fffe 193.5px,#00f4ff 197.5px,#00eeff)"></i><i style="background:linear-gradient(90deg,#06ff00,#baff00 14.5px,#f9fa00 20.5px,#ffd100 24.5px,#ff9e00 30.5px,#ff6a00 37.5px,#ff2e00 42.5px,#ff0200 51.5px,#ff0400 59.5px,#ff5e00 73.5px,#ff7f00 81.5px,#ff9600 91.5px,#ffd400 102.5px,#fafe00 107.5px,#94ff00 121.5px,#6bff00 131.5px,#1eff00 143.5px,#00ff00 152.5px,#00ff25 160.5px,#00ff90 174.5px,#00ffeb 189.5px,#00ffff 194.5px,#00efff 200.5px,#00efff)"></i><i style="background:linear-gradient(90deg,#06ff00,#baff00 14.5px,#fafa00 20.5px,#ffd000 24.5px,#ff9600 31.5px,#ff6900 37.5px,#ff2c00 42.5px,#ff0100 51.5px,#ff0200 59.5px,#ff5c00 73.5px,#ff7f00 82.5px,#ff9a00 92.5px,#ffcb00 101.5px,#fafd00 107.5px,#94ff00 121.5px,#72ff00 130.5px,#1fff00 143.5px,#00ff00 152.5px,#00ff24 160.5px,#00ff8f 174.5px,#00ffeb 189.5px,#00feff 195.5px,#00efff 200.5px,#00efff)"></i><i style="background:linear-gradient(90deg,#06ff00,#94ff00 11.5px,#f2fe00 19.5px,#ffea00 22.5px,#ffb300 27.5px,#ff7000 36.5px,#ff2a00 42.5px,#ff0100 50.5px,#ff0500 60.5px,#ff4f00 71.5px,#ff7f00 82.5px,#ff9900 92.5px,#ffc300 100.5px,#fafb00 107.5px,#94ff00 121.5px,#73ff00 130.5px,#15ff00 145.5px,#00ff01 153.5px,#00ff24 160.5px,#00ff8e 174.5px,#00ffea 189.5px,#00ffff 195.5px,#00efff 201.5px,#00efff)"></i><i style="background:linear-gradient(90deg,#06ff00,#54ff00 6.5px,#c4ff00 15.5px,#f3fe00 19.5px,#ffe800 22.5px,#ffb300 27.5px,#ff6f00 36.5px,#ff2700 42.5px,#ff0000 50.5px,#ff0500 60.5px,#ff5600 73.5px,#ff7f00 82.5px,#ff8b00 87.5px,#ff9c00 93.5px,#ffc300 100.5px,#fafa00 107.5px,#94ff00 121.5px,#6eff00 131.5px,#15ff00 145.5px,#00ff00 153.5px,#00ff24 160.5px,#00ff8d 174.5px,#00ffee 190.5px,#00feff 196.5px,#00efff 200.5px,#00efff)"></i><i style="background:linear-gradient(90deg,#06ff00,#54ff00 6.5px,#baff00 14.5px,#f3fe00 19.5px,#ffe600 22.5px,#ffab00 28.5px,#ff7b00 35.5px,#ff2c00 41.5px,#ff0400 48.5px,#ff0500 60.5px,#ff5e00 75.5px,#ff7f00 83.5px,#ff9b00 93.5px,#ffc300 100.5px,#fbfa00 107.5px,#94ff00 121.5px,#6aff00 132.5px,#15ff00 145.5px,#00ff00 153.5px,#00ff1c 159.5px,#00ff85 173.5px,#00ffee 190.5px,#00feff 196.5px,#00efff 200.5px,#00efff)"></i><i style="background:linear-gradient(90deg,#06ff00,#54ff00 6.5px,#a3ff00 12.5px,#f3fe00 19.5px,#ffe400 22.5px,#ff9c00 30.5px,#ff7b00 35.5px,#ff2800 41.5px,#ff0000 49.5px,#ff0400 60.5px,#ff6c00 78.5px,#ff7f00 83.5px,#ff8600 87.5px,#ffa300 95.5px,#fdfa00 107.5px,#b0ff00 117.5px,#90ff00 122.5px,#6bff00 132.5px,#12ff00 146.5px,#00ff00 153.5px,#00ff1c 159.5px,#00ff7e 172.5px,#00ffed 190.5px,#00ffff 195.5px,#00efff 201.5px,#00efff)"></i><i style="background:linear-gradient(90deg,#06ff00,#54ff00 6.5px,#a4ff00 12.5px,#f3fe00 19.5px,#ffe400 22.5px,#ff9c00 30.5px,#ff7b00 35.5px,#ff2500 41.5px,#ff0100 48.5px,#ff0200 60.5px,#ff6b00 78.5px,#ff7f00 83.5px,#ff8500 87.5px,#ffad00 97.5px,#fafe00 108.5px,#beff00 115.5px,#90ff00 122.5px,#6bff00 132.5px,#14ff00 146.5px,#00ff00 153.5px,#00ff1c 159.5px,#00ff51 166.5px,#00ff9f 177.5px,#00fffe 194.5px,#00f4ff 198.5px,#00efff)"></i><b class="mk" style="left:0;top:0px;width:37.5px;height:18px"></b><b class="mk" style="left:0;top:18px;width:28px;height:18px"></b><b class="mk" style="left:0;top:36px;width:19.5px;height:17.5px"></b><b class="mk" style="left:0;top:53.5px;width:10px;height:17.5px"></b><span class="lab">(b)</span></div><div class="fr"></div><b class="xt mn" style="left:31px"></b><b class="xt" style="left:53.67px"></b><span class="xl" style="left:54.17px">400</span><b class="xt mn" style="left:76.33px"></b><b class="xt" style="left:99px"></b><span class="xl" style="left:99.5px">450</span><b class="xt mn" style="left:121.67px"></b><b class="xt" style="left:144.33px"></b><span class="xl" style="left:144.83px">500</span><b class="xt mn" style="left:167px"></b><b class="xt" style="left:189.67px"></b><span class="xl" style="left:190.17px">550</span><b class="xt mn" style="left:212.33px"></b><b class="xt" style="left:235px"></b><span class="xl" style="left:235.5px">600</span><b class="yt mn" style="top:172px"></b><b class="yt" style="top:154.33px"></b><span class="yl" style="top:154.83px">320</span><b class="yt mn" style="top:136.67px"></b><b class="yt" style="top:119px"></b><span class="yl" style="top:119.5px">340</span><b class="yt mn" style="top:101.33px"></b><b class="yt" style="top:83.67px"></b><span class="yl" style="top:84.17px">360</span><b class="yt mn" style="top:66px"></b><b class="yt" style="top:48.33px"></b><span class="yl" style="top:48.83px">380</span><b class="yt mn" style="top:30.67px"></b><b class="yt" style="top:13px"></b><span class="yl" style="top:13.5px">400</span><span class="xa">Emission &#955;</span><span class="ya">Excitation &#955;</span><span class="ti">GQDs-200-12</span><div class="cb"></div><b class="ct" style="top:53.48px"></b><span class="cl" style="top:53.98px">1500</span><b class="ct" style="top:93.01px"></b><span class="cl" style="top:93.51px">1000</span><b class="ct" style="top:132.55px"></b><span class="cl" style="top:133.05px">500.0</span><b class="ct" style="top:170.5px"></b><span class="cl" style="top:171px">20.00</span></div><div class="pn" style="left:0px;top:195px"><div class="hm"><i style="background:linear-gradient(90deg,#0030ff,#0035ff 10.5px,#0040ff 14.5px,#0045ff 23.5px,#0050ff 27.5px,#0055ff 31.5px,#0060ff 35.5px,#007cff 41.5px,#00d6ff 55.5px,#00fef7 62.5px,#00ffaa 69.5px,#00ff1f 80.5px,#00ff01 84.5px,#05ff00 94.5px,#10ff00 98.5px,#0bff00 105.5px,#00ff01 109.5px,#00ff73 133.5px,#00fffe 161.5px,#00bfff 180.5px,#009bff 192.5px,#0080ff 201.5px,#0080ff)"></i><i style="background:linear-gradient(90deg,#0030ff,#0035ff 10.5px,#0040ff 14.5px,#0045ff 23.5px,#0050ff 27.5px,#0055ff 31.5px,#0075ff 40.5px,#00e0ff 56.5px,#00fdf9 61.5px,#00ffc5 66.5px,#00ff1d 80.5px,#00ff01 84.5px,#05ff00 94.5px,#10ff00 98.5px,#0bff00 105.5px,#00ff01 109.5px,#00ff6a 132.5px,#00fffe 161.5px,#00bfff 181.5px,#00afff 186.5px,#0080ff 201.5px,#0080ff)"></i><i style="background:linear-gradient(90deg,#0030ff,#0035ff 10.5px,#0040ff 14.5px,#0046ff 23.5px,#0050ff 28.5px,#0076ff 40.5px,#00f9fd 59.5px,#00ffdf 63.5px,#00ff1c 80.5px,#00ff01 84.5px,#07ff00 94.5px,#10ff00 99.5px,#0cff00 105.5px,#00ff01 109.5px,#00ff55 129.5px,#00ffef 158.5px,#00faff 163.5px,#00bfff 180.5px,#00afff 186.5px,#0080ff 201.5px,#0080ff)"></i><i style="background:linear-gradient(90deg,#0030ff,#0035ff 10.5px,#0040ff 14.5px,#0043ff 22.5px,#0050ff 26.5px,#0059ff 31.5px,#0079ff 40.5px,#00f9fd 58.5px,#00ffe1 62.5px,#00ff24 79.5px,#00ff01 84.5px,#06ff00 93.5px,#10ff00 99.5px,#09ff00 106.5px,#00ff05 110.5px,#00ff54 130.5px,#00ffee 158.5px,#00fbff 163.5px,#00cfff 175.5px,#00afff 186.5px,#0080ff 202.5px,#0080ff)"></i><i style="background:linear-gradient(90deg,#0030ff,#0035ff 10.5px,#0040ff 14.5px,#0044ff 22.5px,#0050ff 26.5px,#0054ff 30.5px,#0083ff 41.5px,#00f8fd 57.5px,#00ffd8 62.5px,#00ff54 74.5px,#00ff04 83.5px,#06ff00 92.5px,#10ff00 98.5px,#0bff00 106.5px,#00ff04 110.5px,#00ff52 131.5px,#00ffce 152.5px,#00fdff 163.5px,#00cfff 175.5px,#00afff 186.5px,#0080ff 202.5px,#0080ff)"></i><i style="background:linear-gradient(90deg,#0030ff,#0035ff 10.5px,#0040ff 14.5px,#0045ff 22.5px,#0050ff 26.5px,#0055ff 30.5px,#0086ff 41.5px,#00fbfa 57.5px,#00ffb9 64.5px,#00ff56 73.5px,#00ff02 83.5px,#07ff00 91.5px,#10ff00 98.5px,#0bff00 106.5px,#00ff02 110.5px,#00ff4b 131.5px,#00ffbc 149.5px,#00feff 163.5px,#00cfff 175.5px,#00afff 186.5px,#008fff 197.5px,#0080ff 203.5px,#0080ff)"></i><i style="background:linear-gradient(90deg,#0030ff,#0035ff 10.5px,#0040ff 14.5px,#0046ff 22.5px,#0050ff 27.5px,#0076ff 38.5px,#00f9fc 56.5px,#00ffba 63.5px,#00ff63 71.5px,#00ff05 82.5px,#06ff00 89.5px,#10ff00 97.5px,#0bff00 106.5px,#00ff01 110.5px,#00ff10 116.5px,#00ff4b 132.5px,#00ffae 147.5px,#00fffe 162.5px,#00cfff 175.5px,#00afff 186.5px,#008fff 197.5px,#0080ff 203.5px,#0080ff)"></i><i style="background:linear-gradient(90deg,#0030ff,#0035ff 10.5px,#0040ff 14.5px,#0043ff 21.5px,#0050ff 25.5px,#0059ff 30.5px,#0086ff 40.5px,#00f7fd 55.5px,#00ffc9 61.5px,#00ff64 70.5px,#00ff05 82.5px,#0aff00 89.5px,#0fff00 105.5px,#00ff00 109.5px,#00ff26 124.5px,#00ff4c 133.5px,#00ffa1 145.5px,#00fffd 162.5px,#00cfff 175.5px,#00afff 186.5px,#008fff 197.5px,#0080ff 203.5px,#0080ff)"></i><i style="background:linear-gradient(90deg,#0030ff,#0032ff 9.5px,#0040ff 14.5px,#0045ff 21.5px,#0050ff 25.5px,#0056ff 29.5px,#0083ff 39.5px,#00eaff 53.5px,#00fef4 56.5px,#00ff5c 70.5px,#00ff05 82.5px,#10ff00 94.5px,#0bff00 106.5px,#00ff00 110.5px,#00ff25 125.5px,#00ff46 133.5px,#00ff9e 145.5px,#00fefe 163.5px,#00cfff 175.5px,#00afff 186.5px,#008fff 197.5px,#0080ff)"></i><i style="background:linear-gradient(90deg,#0030ff,#0033ff 9.5px,#0040ff 13.5px,#0046ff 21.5px,#0050ff 26.5px,#0070ff 35.5px,#00bdff 47.5px,#00f8fd 54.5px,#00ffc3 60.5px,#00ff5c 69.5px,#00ff04 82.5px,#10ff00 92.5px,#0cff00 106.5px,#00ff00 110.5px,#00ff27 127.5px,#00ff42 133.5px,#00ffa9 147.5px,#00fefe 163.5px,#00cfff 175.5px,#00afff 186.5px,#008fff 197.5px,#0080ff)"></i><i style="background:linear-gradient(90deg,#0030ff,#0034ff 9.5px,#0040ff 13.5px,#0043ff 20.5px,#0050ff 24.5px,#0055ff 28.5px,#0073ff 35.5px,#00c1ff 47.5px,#00fbfa 54.5px,#00ff8a 64.5px,#00ff4c 70.5px,#00ff02 82.5px,#10ff00 89.5px,#0eff00 106.5px,#00ff00 111.5px,#00ff25 128.5px,#00ff3e 133.5px,#00ffa6 147.5px,#00fffe 163.5px,#00cfff 175.5px,#00afff 186.5px,#008fff 198.5px,#0080ff)"></i><i style="background:linear-gradient(90deg,#0030ff,#0035ff 9.5px,#0040ff 13.5px,#0045ff 20.5px,#0050ff 24.5px,#0056ff 28.5px,#0074ff 35.5px,#00cdff 48.5px,#00f8fd 53.5px,#00ffb4 60.5px,#00ff4c 69.5px,#01ff01 82.5px,#10ff00 87.5px,#0bff00 107.5px,#00ff00 111.5px,#00ff19 125.5px,#00ff32 132.5px,#00ff9e 146.5px,#00fffe 163.5px,#00bfff 180.5px,#00afff 186.5px,#009fff 192.5px,#008fff 198.5px,#0080ff)"></i><i style="background:linear-gradient(90deg,#0030ff,#0035ff 9.5px,#0040ff 13.5px,#0046ff 20.5px,#0050ff 25.5px,#0071ff 34.5px,#00d9ff 49.5px,#00fbfa 53.5px,#00ff6e 65.5px,#00ff3c 70.5px,#02ff00 82.5px,#10ff00 87.5px,#0cff00 107.5px,#00ff00 111.5px,#00ff0a 119.5px,#00ff27 131.5px,#00ff9c 146.5px,#00fffd 163.5px,#00bfff 180.5px,#00afff 186.5px,#009fff 192.5px,#008fff 198.5px,#0080ff)"></i><i style="background:linear-gradient(90deg,#0030ff,#0035ff 9.5px,#0040ff 13.5px,#0043ff 19.5px,#0050ff 23.5px,#0056ff 27.5px,#0073ff 34.5px,#00e6ff 50.5px,#00fdf6 53.5px,#00ff44 68.5px,#00ff04 80.5px,#10ff00 87.5px,#0eff00 107.5px,#00ff00 112.5px,#00ff09 120.5px,#00ff1f 130.5px,#00ffa0 147.5px,#00fefe 164.5px,#00bfff 180.5px,#00afff 186.5px,#009fff 192.5px,#008fff 198.5px,#0080ff)"></i><i style="background:linear-gradient(90deg,#0030ff,#0037ff 9.5px,#0040ff 14.5px,#0045ff 19.5px,#0050ff 23.5px,#0069ff 32.5px,#00e1ff 49.5px,#00fbfa 52.5px,#00ff3d 68.5px,#01ff02 80.5px,#10ff00 86.5px,#0cff00 108.5px,#00ff00 113.5px,#00ff09 122.5px,#00ff20 131.5px,#00ff9e 147.5px,#00fefe 164.5px,#00bfff 180.5px,#00afff 186.5px,#009fff 192.5px,#008fff 198.5px,#0084ff 202.5px,#0080ff)"></i><i style="background:linear-gradient(90deg,#0030ff,#0033ff 8.5px,#0040ff 12.5px,#0046ff 19.5px,#0066ff 31.5px,#00deff 48.5px,#00fdf6 52.5px,#00ff37 68.5px,#00ff02 79.5px,#10ff00 86.5px,#0bff00 109.5px,#00ff00 117.5px,#00ff17 130.5px,#00ff56 138.5px,#00ff96 146.5px,#00fefe 164.5px,#00bfff 180.5px,#00afff 186.5px,#009fff 192.5px,#008fff 198.5px,#0085ff 202.5px,#0080ff)"></i><i style="background:linear-gradient(90deg,#0030ff,#0034ff 8.5px,#0040ff 12.5px,#0043ff 18.5px,#0050ff 22.5px,#0069ff 31.5px,#00daff 47.5px,#00fbfa 51.5px,#00ff3b 67.5px,#00ff0e 75.5px,#04ff00 80.5px,#10ff00 85.5px,#0fff00 108.5px,#00ff00 117.5px,#00ff09 125.5px,#00ff1a 131.5px,#00ff5c 139.5px,#00ffa2 148.5px,#00fefe 164.5px,#00bfff 180.5px,#00afff 186.5px,#009fff 192.5px,#008fff 199.5px,#0080ff)"></i><i style="background:linear-gradient(90deg,#0030ff,#0035ff 8.5px,#0040ff 12.5px,#0045ff 18.5px,#0050ff 22.5px,#006bff 31.5px,#00e8ff 48.5px,#00fdf6 51.5px,#00ff34 67.5px,#00ff09 75.5px,#07ff00 80.5px,#1bff00 92.5px,#10ff00 103.5px,#0aff00 112.5px,#00ff01 123.5px,#00ff1d 132.5px,#00ff92 146.5px,#00fffd 164.5px,#00bfff 180.5px,#00afff 186.5px,#009fff 192.5px,#008fff 199.5px,#0080ff)"></i><i style="background:linear-gradient(90deg,#0030ff,#0035ff 8.5px,#0040ff 12.5px,#0046ff 18.5px,#006dff 31.5px,#00fbfa 50.5px,#00ff2d 67.5px,#00ff04 75.5px,#1fff00 92.5px,#10ff00 103.5px,#09ff00 115.5px,#00ff01 125.5px,#00ff1a 132.5px,#00ff8f 146.5px,#00fffb 164.5px,#00bfff 180.5px,#00afff 186.5px,#009fff 192.5px,#008fff 199.5px,#0080ff)"></i><i style="background:linear-gradient(90deg,#0030ff,#0035ff 8.5px,#0040ff 12.5px,#0043ff 17.5px,#0050ff 21.5px,#0069ff 30.5px,#00e1ff 46.5px,#00fdf7 50.5px,#00ff30 66.5px,#01ff02 74.5px,#20ff00 90.5px,#15ff00 98.5px,#09ff00 117.5px,#00ff00 125.5px,#00ff17 132.5px,#00ff8d 146.5px,#00fffa 164.5px,#00bfff 180.5px,#00afff 186.5px,#009fff 192.5px,#0094ff 196.5px,#008bff 202.5px,#0080ff)"></i><i style="background:linear-gradient(90deg,#0030ff,#0035ff 8.5px,#0040ff 12.5px,#0044ff 17.5px,#0050ff 21.5px,#006cff 30.5px,#00fbfa 49.5px,#00ffcc 53.5px,#00ff2b 66.5px,#01ff02 73.5px,#20ff00 88.5px,#1aff00 98.5px,#10ff00 105.5px,#0aff00 118.5px,#00ff00 126.5px,#00ff1c 133.5px,#00ff93 147.5px,#00fefe 165.5px,#00bfff 180.5px,#00afff 186.5px,#009fff 192.5px,#0094ff 196.5px,#008bff 202.5px,#0080ff)"></i><i style="background:linear-gradient(90deg,#0030ff,#0037ff 8.5px,#0040ff 13.5px,#0045ff 17.5px,#0050ff 21.5px,#0073ff 31.5px,#00f9fc 48.5px,#00ffd3 52.5px,#00ff3b 64.5px,#00ff10 69.5px,#06ff00 74.5px,#20ff00 87.5px,#1aff00 99.5px,#10ff00 108.5px,#09ff00 120.5px,#00ff00 127.5px,#00ff22 134.5px,#00ff92 147.5px,#00fefe 165.5px,#00bfff 180.5px,#00afff 186.5px,#009fff 192.5px,#0094ff 196.5px,#008bff 202.5px,#0081ff)"></i><i style="background:linear-gradient(90deg,#0030ff,#0033ff 7.5px,#0040ff 11.5px,#0046ff 17.5px,#0070ff 30.5px,#00f7fd 47.5px,#00ffe5 50.5px,#00ff35 64.5px,#00ff0b 69.5px,#0eff00 75.5px,#24ff00 90.5px,#10ff00 112.5px,#0aff00 121.5px,#00ff00 127.5px,#00ff19 133.5px,#00ff96 148.5px,#00fefd 165.5px,#00bfff 180.5px,#00afff 186.5px,#009fff 192.5px,#0094ff 196.5px,#0086ff 203.5px,#0082ff)"></i><i style="background:linear-gradient(90deg,#0030ff,#0034ff 7.5px,#0040ff 11.5px,#0043ff 16.5px,#0077ff 31.5px,#00fbfa 47.5px,#00ffc3 52.5px,#00ff25 65.5px,#01ff02 70.5px,#21ff00 83.5px,#29ff00 92.5px,#10ff00 115.5px,#0aff00 122.5px,#00ff00 128.5px,#00ff25 135.5px,#00ff8d 147.5px,#00fffb 165.5px,#00bfff 180.5px,#00afff 186.5px,#009fff 192.5px,#0094ff 196.5px,#0089ff 203.5px,#0083ff)"></i><i style="background:linear-gradient(90deg,#0030ff,#0035ff 7.5px,#0040ff 11.5px,#0045ff 16.5px,#0075ff 30.5px,#00daff 42.5px,#00fdf6 47.5px,#00ff2b 64.5px,#01ff02 69.5px,#20ff00 80.5px,#2eff00 92.5px,#10ff00 118.5px,#09ff00 123.5px,#00ff00 128.5px,#00ff1c 134.5px,#00ff99 149.5px,#00fefe 166.5px,#00c0ff 179.5px,#009fff 193.5px,#008fff 199.5px,#008aff 203.5px,#0084ff)"></i><i style="background:linear-gradient(90deg,#0030ff,#0035ff 7.5px,#0040ff 11.5px,#0046ff 16.5px,#0073ff 29.5px,#00b1ff 37.5px,#00fcf8 46.5px,#00ffb3 52.5px,#00ff45 61.5px,#01ff04 68.5px,#22ff00 79.5px,#33ff00 92.5px,#10ff00 119.5px,#07ff00 124.5px,#00ff05 130.5px,#00ff32 137.5px,#00ff96 149.5px,#00fefe 166.5px,#00c0ff 179.5px,#00afff 186.5px,#0094ff 196.5px,#008bff 203.5px,#0084ff)"></i><i style="background:linear-gradient(90deg,#0030ff,#0035ff 7.5px,#0040ff 11.5px,#0049ff 16.5px,#0065ff 25.5px,#0091ff 33.5px,#00fbf9 45.5px,#00ffc5 50.5px,#00ff54 59.5px,#00ff07 67.5px,#20ff00 76.5px,#3bff00 91.5px,#10ff00 120.5px,#06ff00 125.5px,#00ff04 130.5px,#00ff27 136.5px,#00ff9b 150.5px,#00fefd 166.5px,#00c0ff 180.5px,#00afff 186.5px,#0094ff 196.5px,#008bff 203.5px,#0084ff)"></i><i style="background:linear-gradient(90deg,#0030ff,#0035ff 7.5px,#0040ff 11.5px,#0045ff 15.5px,#0064ff 24.5px,#0095ff 33.5px,#00f9fa 44.5px,#00ffc9 49.5px,#00ff4c 59.5px,#01ff04 67.5px,#2fff00 80.5px,#40ff00 91.5px,#1fff00 112.5px,#10ff00 121.5px,#04ff00 126.5px,#00ff07 131.5px,#00ff2d 137.5px,#00ff99 150.5px,#00fffb 166.5px,#00c0ff 180.5px,#00afff 187.5px,#009fff 193.5px,#008fff 199.5px,#008bff 203.5px,#0084ff)"></i><i style="background:linear-gradient(90deg,#0030ff,#0037ff 7.5px,#0040ff 12.5px,#0061ff 23.5px,#009aff 33.5px,#00f7fc 43.5px,#00ffcc 48.5px,#00ff4e 58.5px,#02ff02 67.5px,#31ff00 79.5px,#44ff00 89.5px,#3bff00 99.5px,#20ff00 112.5px,#10ff00 122.5px,#00ff01 130.5px,#00ff2a 137.5px,#00ff8f 149.5px,#00fffa 166.5px,#00bfff 181.5px,#00afff 187.5px,#009fff 193.5px,#008fff 199.5px,#008bff 203.5px,#0084ff)"></i><i style="background:linear-gradient(90deg,#0030ff,#0033ff 6.5px,#0040ff 10.5px,#0049ff 15.5px,#005fff 22.5px,#009eff 33.5px,#00fbf8 43.5px,#00ffa9 50.5px,#00ff5c 56.5px,#02ff04 66.5px,#3dff00 81.5px,#4cff00 90.5px,#42ff00 99.5px,#20ff00 113.5px,#14ff00 118.5px,#0cff00 125.5px,#00ff00 129.5px,#00ff19 135.5px,#00ffaa 153.5px,#00fefe 167.5px,#00c0ff 180.5px,#00a4ff 190.5px,#0094ff 196.5px,#008bff 203.5px,#0085ff)"></i><i style="background:linear-gradient(90deg,#0030ff,#0034ff 6.5px,#0040ff 10.5px,#0044ff 14.5px,#0065ff 23.5px,#00acff 34.5px,#00f9fb 42.5px,#00ffac 49.5px,#00ff5c 55.5px,#01ff07 65.5px,#2aff00 74.5px,#51ff00 87.5px,#4eff00 97.5px,#20ff00 114.5px,#10ff00 123.5px,#00ff00 130.5px,#00ff25 137.5px,#00ffa2 152.5px,#00fefd 167.5px,#00bfff 181.5px,#00afff 187.5px,#009fff 193.5px,#008fff 199.5px,#0088ff)"></i><i style="background:linear-gradient(90deg,#0030ff,#0035ff 6.5px,#0040ff 10.5px,#0045ff 14.5px,#0066ff 23.5px,#00b1ff 34.5px,#00f6fd 41.5px,#00ffe2 44.5px,#00ff54 55.5px,#02ff04 65.5px,#50ff00 83.5px,#5bff00 94.5px,#20ff00 115.5px,#10ff00 123.5px,#00ff01 131.5px,#00ff2c 138.5px,#00ff99 151.5px,#00fffb 167.5px,#00c0ff 181.5px,#00afff 187.5px,#009fff 193.5px,#008fff 199.5px,#008cff)"></i><i style="background:linear-gradient(90deg,#0030ff,#0035ff 6.5px,#0040ff 10.5px,#0046ff 14.5px,#0069ff 23.5px,#00b6ff 34.5px,#00fafa 41.5px,#00ffc1 46.5px,#00ff55 54.5px,#04ff02 65.5px,#59ff00 84.5px,#5cff00 97.5px,#20ff00 115.5px,#14ff00 120.5px,#09ff00 127.5px,#00ff05 132.5px,#00ff3b 140.5px,#00ff9d 152.5px,#00fefe 168.5px,#00c0ff 181.5px,#00afff 187.5px,#009fff 193.5px,#008fff 199.5px,#008fff)"></i><i style="background:linear-gradient(90deg,#0030ff,#0035ff 6.5px,#0040ff 10.5px,#0059ff 19.5px,#0080ff 26.5px,#00c5ff 35.5px,#00f8fd 40.5px,#00ffd3 44.5px,#00ff4c 54.5px,#02ff02 64.5px,#63ff00 85.5px,#61ff00 98.5px,#20ff00 115.5px,#16ff00 120.5px,#0bff00 127.5px,#00ff01 131.5px,#00ff30 139.5px,#00ffaa 154.5px,#00fefe 168.5px,#00bfff 182.5px,#00afff 187.5px,#009fff 193.5px,#008fff 200.5px,#008fff)"></i><i style="background:linear-gradient(90deg,#0030ff,#0035ff 6.5px,#0040ff 10.5px,#005bff 19.5px,#007cff 25.5px,#00caff 35.5px,#00fbfa 40.5px,#00ffa3 47.5px,#00ff44 54.5px,#02ff04 63.5px,#6bff00 85.5px,#69ff00 98.5px,#20ff00 116.5px,#14ff00 121.5px,#0bff00 127.5px,#00ff01 131.5px,#00ff25 138.5px,#00ffa2 153.5px,#00fefd 168.5px,#00bfff 182.5px,#009fff 193.5px,#008fff 200.5px,#008fff)"></i><i style="background:linear-gradient(90deg,#0030ff,#0037ff 6.5px,#004cff 14.5px,#0064ff 21.5px,#00cfff 35.5px,#00fdf6 40.5px,#00ff3c 54.5px,#01ff06 62.5px,#72ff00 85.5px,#6fff00 98.5px,#21ff00 116.5px,#16ff00 121.5px,#05ff00 128.5px,#00ff07 133.5px,#00ff2c 139.5px,#00ff9a 152.5px,#00fdfe 169.5px,#00bfff 182.5px,#009fff 193.5px,#008fff 200.5px,#008fff)"></i><i style="background:linear-gradient(90deg,#0030ff,#0033ff 5.5px,#0040ff 9.5px,#0059ff 18.5px,#0082ff 25.5px,#00dfff 36.5px,#00fbfa 39.5px,#00ffa1 46.5px,#00ff3e 53.5px,#00ff0b 60.5px,#0dff00 64.5px,#7aff00 86.5px,#74ff00 98.5px,#2fff00 113.5px,#20ff00 118.5px,#07ff00 128.5px,#00ff05 133.5px,#00ff34 140.5px,#00ff92 151.5px,#00fefe 169.5px,#00c0ff 182.5px,#009fff 193.5px,#0094ff 197.5px,#008fff)"></i><i style="background:linear-gradient(90deg,#0030ff,#0034ff 5.5px,#0040ff 9.5px,#0056ff 17.5px,#0086ff 25.5px,#00e4ff 36.5px,#00fdf6 39.5px,#00ff6c 49.5px,#00ff2c 54.5px,#02ff02 61.5px,#7eff00 85.5px,#7aff00 98.5px,#30ff00 113.5px,#20ff00 119.5px,#10ff00 125.5px,#00ff01 132.5px,#00ff2c 139.5px,#00ff8f 151.5px,#00fefe 169.5px,#00c0ff 182.5px,#00afff 188.5px,#009fff 194.5px,#008fff 200.5px,#008fff)"></i><i style="background:linear-gradient(90deg,#0030ff,#0035ff 5.5px,#0040ff 9.5px,#0065ff 20.5px,#00dfff 35.5px,#00fbfa 38.5px,#00ffbb 43.5px,#00ff2e 53.5px,#00ff0a 58.5px,#15ff00 64.5px,#6cff00 80.5px,#84ff00 86.5px,#7fff00 98.5px,#31ff00 113.5px,#10ff00 125.5px,#00ff01 132.5px,#00ff2c 139.5px,#00ff86 150.5px,#00fffa 168.5px,#00afff 187.5px,#0094ff 197.5px,#008fff)"></i><i style="background:linear-gradient(90deg,#0030ff,#0035ff 5.5px,#0040ff 9.5px,#006dff 21.5px,#00f8fd 37.5px,#00ffd2 41.5px,#00ff27 53.5px,#01ff07 57.5px,#1bff00 64.5px,#65ff00 78.5px,#86ff00 84.5px,#88ff00 97.5px,#30ff00 114.5px,#10ff00 125.5px,#05ff00 129.5px,#00ff05 133.5px,#00ff3c 141.5px,#00ff7f 149.5px,#00fff8 168.5px,#00e6ff 174.5px,#00b0ff 187.5px,#0094ff 197.5px,#008fff)"></i><i style="background:linear-gradient(90deg,#0030ff,#0035ff 5.5px,#0040ff 9.5px,#0070ff 21.5px,#00fbfa 37.5px,#00ffbb 42.5px,#00ff21 53.5px,#02ff03 57.5px,#5cff00 76.5px,#8cff00 84.5px,#8dff00 97.5px,#31ff00 114.5px,#10ff00 126.5px,#00ff01 132.5px,#00ff2c 139.5px,#00ff9b 153.5px,#00fdfe 170.5px,#00bfff 183.5px,#009fff 194.5px,#008fff 200.5px,#008fff)"></i><i style="background:linear-gradient(90deg,#0030ff,#0037ff 5.5px,#0055ff 15.5px,#0081ff 23.5px,#00f8fd 36.5px,#00ffd2 40.5px,#00ff1c 53.5px,#06ff01 57.5px,#70ff00 78.5px,#91ff00 84.5px,#8fff00 97.5px,#30ff00 115.5px,#10ff00 126.5px,#00ff01 132.5px,#00ff2c 139.5px,#00ffa6 155.5px,#00fffa 169.5px,#00bfff 183.5px,#009fff 194.5px,#008fff 200.5px,#008fff)"></i><i style="background:linear-gradient(90deg,#0030ff,#0039ff 5.5px,#0057ff 15.5px,#0084ff 23.5px,#00fbfa 36.5px,#00ffbb 41.5px,#00ff17 53.5px,#0aff00 57.5px,#7cff00 79.5px,#99ff00 85.5px,#96ff00 95.5px,#80ff00 101.5px,#31ff00 115.5px,#10ff00 126.5px,#00ff01 132.5px,#00ff2c 139.5px,#00ffa0 154.5px,#00fffa 169.5px,#00b0ff 187.5px,#0094ff 197.5px,#008fff)"></i><i style="background:linear-gradient(90deg,#0030ff,#0034ff 4.5px,#0040ff 8.5px,#0077ff 21.5px,#00f9fc 35.5px,#00ffd2 39.5px,#00ff1f 52.5px,#02ff04 55.5px,#9cff00 84.5px,#99ff00 96.5px,#6cff00 105.5px,#2fff00 116.5px,#10ff00 125.5px,#05ff00 129.5px,#00ff05 133.5px,#00ff3c 141.5px,#00ff9f 154.5px,#00fefe 170.5px,#00c0ff 183.5px,#009fff 194.5px,#008fff 200.5px,#008fff)"></i><i style="background:linear-gradient(90deg,#0030ff,#0035ff 4.5px,#0059ff 14.5px,#0082ff 22.5px,#00f6fd 34.5px,#00ffe5 37.5px,#00ff26 51.5px,#04ff02 55.5px,#a0ff00 84.5px,#9aff00 97.5px,#69ff00 106.5px,#27ff00 118.5px,#10ff00 126.5px,#00ff01 132.5px,#00ff2c 139.5px,#00ff9f 154.5px,#00fefe 170.5px,#00b0ff 187.5px,#0095ff 197.5px,#008fff)"></i><i style="background:linear-gradient(90deg,#0030ff,#0035ff 4.5px,#005cff 14.5px,#0086ff 22.5px,#00fafb 34.5px,#00ffc3 39.5px,#00ff60 46.5px,#00ff0c 53.5px,#15ff00 57.5px,#a3ff00 83.5px,#a9ff00 87.5px,#9aff00 98.5px,#31ff00 116.5px,#10ff00 125.5px,#00ff01 132.5px,#00ff2c 139.5px,#00ff9f 154.5px,#00fefe 170.5px,#00b0ff 187.5px,#008fff 201.5px,#008fff)"></i><i style="background:linear-gradient(90deg,#0030ff,#0037ff 4.5px,#0063ff 15.5px,#0093ff 23.5px,#00f8fd 33.5px,#00ffe2 36.5px,#00ff5a 46.5px,#01ff08 53.5px,#25ff00 59.5px,#a5ff00 82.5px,#acff00 88.5px,#99ff00 99.5px,#32ff00 116.5px,#10ff00 125.5px,#00ff01 132.5px,#00ff2c 139.5px,#00ff9e 154.5px,#00fdff 171.5px,#00bfff 184.5px,#009fff 195.5px,#008fff 201.5px,#008fff)"></i><i style="background:linear-gradient(90deg,#0030ff,#0049ff 9.5px,#008eff 22.5px,#00fbfa 33.5px,#00ffc1 38.5px,#00ff5e 45.5px,#02ff06 53.5px,#83ff00 74.5px,#aeff00 83.5px,#a9ff00 94.5px,#8cff00 102.5px,#33ff00 116.5px,#10ff00 125.5px,#00ff01 132.5px,#00ff2c 139.5px,#00ff9d 154.5px,#00fffb 170.5px,#00b0ff 188.5px,#0094ff 198.5px,#008fff)"></i><i style="background:linear-gradient(90deg,#0030ff,#003bff 4.5px,#0053ff 11.5px,#009cff 23.5px,#00f7fd 32.5px,#00ffd3 36.5px,#00ff56 45.5px,#04ff04 53.5px,#79ff00 71.5px,#aaff00 80.5px,#b4ff00 87.5px,#a5ff00 97.5px,#69ff00 108.5px,#30ff00 117.5px,#10ff00 125.5px,#00ff00 131.5px,#00ff1c 137.5px,#00ff90 152.5px,#00ffef 168.5px,#00faff 172.5px,#00c0ff 184.5px,#009fff 195.5px,#008fff 201.5px,#008fff)"></i><i style="background:linear-gradient(90deg,#0030ff,#0046ff 8.5px,#00a1ff 23.5px,#00fafa 32.5px,#00ffa3 39.5px,#00ff5b 44.5px,#05ff02 53.5px,#60ff00 66.5px,#a9ff00 78.5px,#baff00 86.5px,#a9ff00 97.5px,#6bff00 108.5px,#30ff00 117.5px,#10ff00 125.5px,#00ff00 131.5px,#00ff1c 137.5px,#00ff8f 152.5px,#00ffef 168.5px,#00faff 172.5px,#00c0ff 184.5px,#009fff 195.5px,#008fff 201.5px,#008fff)"></i><i style="background:linear-gradient(90deg,#0030ff,#0051ff 10.5px,#00aeff 24.5px,#00f6fd 31.5px,#00ffd2 35.5px,#00ff54 44.5px,#02ff06 52.5px,#94ff00 73.5px,#b5ff00 79.5px,#beff00 87.5px,#a6ff00 98.5px,#75ff00 107.5px,#37ff00 116.5px,#10ff00 125.5px,#00ff00 131.5px,#00ff1c 137.5px,#00ff8f 152.5px,#00fffa 170.5px,#00afff 189.5px,#009fff 195.5px,#008fff 201.5px,#008fff)"></i><i style="background:linear-gradient(90deg,#0030ff,#0054ff 10.5px,#00bcff 25.5px,#00f9fa 31.5px,#00ffbb 36.5px,#00ff56 43.5px,#04ff04 52.5px,#8aff00 70.5px,#b9ff00 78.5px,#c3ff00 85.5px,#aeff00 97.5px,#7fff00 106.5px,#3fff00 115.5px,#10ff00 125.5px,#00ff00 131.5px,#00ff1c 137.5px,#00ff8f 152.5px,#00fefe 171.5px,#00b0ff 188.5px,#0095ff 198.5px,#008fff)"></i><i style="background:linear-gradient(90deg,#0030ff,#0051ff 9.5px,#00c1ff 25.5px,#00f4fd 30.5px,#00ffdf 33.5px,#00ff4e 43.5px,#05ff02 52.5px,#7bff00 67.5px,#c1ff00 78.5px,#c8ff00 85.5px,#adff00 98.5px,#7bff00 107.5px,#3bff00 116.5px,#10ff00 125.5px,#00ff00 131.5px,#00ff24 138.5px,#00ff8f 152.5px,#00fefe 171.5px,#00b1ff 188.5px,#008fff 201.5px,#008fff)"></i><i style="background:linear-gradient(90deg,#0030ff,#0053ff 9.5px,#00a0ff 20.5px,#00e3ff 28.5px,#00fdf2 31.5px,#00ff8c 38.5px,#00ff46 43.5px,#02ff05 51.5px,#96ff00 70.5px,#c5ff00 77.5px,#ccff00 86.5px,#afff00 98.5px,#85ff00 106.5px,#3bff00 116.5px,#10ff00 125.5px,#00ff01 131.5px,#00ff24 138.5px,#00ff8f 152.5px,#00fefd 171.5px,#00bfff 185.5px,#009fff 196.5px,#008fff 202.5px,#008fff)"></i><i style="background:linear-gradient(90deg,#0030ff,#0055ff 9.5px,#009fff 19.5px,#00e7ff 28.5px,#00faf9 30.5px,#00ff93 37.5px,#00ff3e 43.5px,#04ff04 51.5px,#98ff00 69.5px,#ccff00 77.5px,#cbff00 89.5px,#a9ff00 100.5px,#7fff00 107.5px,#35ff00 117.5px,#10ff00 125.5px,#00ff01 131.5px,#00ff24 138.5px,#00ff8f 152.5px,#00fdfe 172.5px,#00bfff 185.5px,#009fff 196.5px,#008fff 202.5px,#008fff)"></i><i style="background:linear-gradient(90deg,#0030ff,#0057ff 9.5px,#00b3ff 21.5px,#00f6fd 29.5px,#00ffdb 32.5px,#00ff40 42.5px,#00ff0c 49.5px,#10ff00 52.5px,#9dff00 69.5px,#d0ff00 76.5px,#ceff00 89.5px,#a6ff00 101.5px,#82ff00 107.5px,#25ff00 120.5px,#10ff00 125.5px,#00ff01 131.5px,#00ff24 138.5px,#00ff8f 152.5px,#00fefe 172.5px,#00c0ff 185.5px,#009fff 196.5px,#008fff 202.5px,#008fff)"></i><i style="background:linear-gradient(90deg,#0030ff,#005aff 9.5px,#00baff 21.5px,#00fafa 29.5px,#00ffb3 34.5px,#00ff37 42.5px,#04ff02 50.5px,#cbff00 74.5px,#daff00 78.5px,#d3ff00 87.5px,#b5ff00 98.5px,#8eff00 106.5px,#33ff00 118.5px,#10ff00 125.5px,#00ff01 131.5px,#00ff34 140.5px,#00ff94 153.5px,#00fffa 171.5px,#00b0ff 189.5px,#0094ff 199.5px,#008fff)"></i><i style="background:linear-gradient(90deg,#0031ff,#005dff 9.5px,#00b9ff 20.5px,#00f7fd 28.5px,#00ffdb 31.5px,#00ff2f 42.5px,#03ff02 49.5px,#3eff00 56.5px,#d9ff00 75.5px,#ddff00 85.5px,#b3ff00 99.5px,#91ff00 106.5px,#41ff00 116.5px,#11ff00 125.5px,#00ff01 131.5px,#00ff34 140.5px,#00ff94 153.5px,#00fefe 172.5px,#00c0ff 185.5px,#009fff 196.5px,#008fff 202.5px,#008fff)"></i><i style="background:linear-gradient(90deg,#0031ff,#0060ff 9.5px,#00bfff 20.5px,#00fafa 28.5px,#00ffb3 33.5px,#00ff27 42.5px,#02ff02 48.5px,#25ff00 53.5px,#baff00 70.5px,#e0ff00 76.5px,#ddff00 87.5px,#a6ff00 103.5px,#70ff00 110.5px,#23ff00 121.5px,#00ff00 130.5px,#00ff25 138.5px,#00ff85 151.5px,#00ffef 169.5px,#00faff 173.5px,#00b0ff 189.5px,#008fff 203.5px,#008fff)"></i><i style="background:linear-gradient(90deg,#0031ff,#006aff 10.5px,#00b6ff 18.5px,#00f8fc 27.5px,#00ffdb 30.5px,#00ff1f 42.5px,#03ff02 47.5px,#2bff00 53.5px,#b9ff00 69.5px,#e4ff00 76.5px,#e6ff00 81.5px,#d5ff00 90.5px,#a9ff00 103.5px,#2bff00 120.5px,#00ff00 130.5px,#00ff25 138.5px,#00ff80 150.5px,#00fffa 171.5px,#00afff 190.5px,#009fff 196.5px,#008fff 203.5px,#008fff)"></i><i style="background:linear-gradient(90deg,#0031ff,#006eff 10.5px,#00bcff 18.5px,#00fbf8 27.5px,#00ffc3 31.5px,#00ff17 42.5px,#02ff04 45.5px,#1fff00 51.5px,#b6ff00 68.5px,#e9ff00 76.5px,#e9ff00 82.5px,#caff00 95.5px,#9fff00 105.5px,#31ff00 119.5px,#01ff00 129.5px,#00ff0b 133.5px,#00ff3c 141.5px,#00ff9a 154.5px,#00fefe 172.5px,#00b0ff 189.5px,#009aff 199.5px,#008fff 203.5px,#008fff)"></i><i style="background:linear-gradient(90deg,#0032ff,#006aff 9.5px,#00c3ff 18.5px,#00f9fa 26.5px,#00ffdb 29.5px,#00ff0f 42.5px,#06ff01 45.5px,#2dff00 52.5px,#acff00 66.5px,#e9ff00 75.5px,#edff00 82.5px,#c9ff00 96.5px,#9bff00 106.5px,#40ff00 117.5px,#11ff00 125.5px,#00ff01 131.5px,#00ff34 140.5px,#00ff84 151.5px,#00fefd 172.5px,#00b0ff 189.5px,#00a3ff 194.5px,#009bff 199.5px,#008fff 203.5px,#008fff)"></i><i style="background:linear-gradient(90deg,#0034ff,#006eff 9.5px,#00d3ff 19.5px,#00f9fa 25.5px,#00ffe0 28.5px,#00ff15 41.5px,#07ff01 44.5px,#3dff00 53.5px,#b3ff00 66.5px,#edff00 75.5px,#eaff00 85.5px,#beff00 100.5px,#9dff00 106.5px,#42ff00 117.5px,#11ff00 125.5px,#00ff01 131.5px,#00ff34 140.5px,#00ff8b 152.5px,#00fffb 172.5px,#00b0ff 189.5px,#00aaff 193.5px,#009fff 197.5px,#008fff 203.5px,#008fff)"></i><i style="background:linear-gradient(90deg,#0038ff,#006aff 8.5px,#00dbff 19.5px,#00fbf9 24.5px,#00ffd8 28.5px,#00ff1a 40.5px,#09ff01 43.5px,#46ff00 53.5px,#c1ff00 67.5px,#eeff00 75.5px,#e8ff00 87.5px,#b9ff00 102.5px,#96ff00 107.5px,#20ff00 122.5px,#00ff00 130.5px,#00ff24 138.5px,#00ff8b 152.5px,#00fefe 173.5px,#00bfff 186.5px,#00afff 191.5px,#009fff 197.5px,#008fff 203.5px,#008fff)"></i><i style="background:linear-gradient(90deg,#003dff,#0066ff 7.5px,#00a2ff 13.5px,#00e3ff 19.5px,#00fcf8 23.5px,#00ffcd 28.5px,#00ff1e 39.5px,#07ff02 42.5px,#50ff00 53.5px,#c6ff00 67.5px,#f1ff00 75.5px,#e9ff00 88.5px,#b6ff00 103.5px,#7dff00 110.5px,#20ff00 122.5px,#00ff00 130.5px,#00ff1c 137.5px,#00ff8b 152.5px,#00fefe 173.5px,#00bfff 186.5px,#009fff 197.5px,#008fff)"></i><i style="background:linear-gradient(90deg,#0040ff,#0074ff 8.5px,#00c1ff 15.5px,#00f2fe 20.5px,#00ffe8 24.5px,#00ffb1 29.5px,#00ff17 39.5px,#0dff01 42.5px,#63ff00 54.5px,#daff00 69.5px,#f9ff00 77.5px,#e5ff00 90.5px,#c5ff00 100.5px,#a5ff00 106.5px,#2dff00 120.5px,#0fff00 126.5px,#00ff00 131.5px,#00ff24 138.5px,#00ff9b 155.5px,#00fefe 173.5px,#00bfff 186.5px,#009fff 197.5px,#008fff)"></i><i style="background:linear-gradient(90deg,#0042ff,#0083ff 9.5px,#00f2fd 19.5px,#00ffe5 23.5px,#00ffa5 29.5px,#01ff0f 39.5px,#14ff00 42.5px,#7eff00 56.5px,#e4ff00 70.5px,#feff00 77.5px,#efff00 87.5px,#cdff00 99.5px,#a8ff00 106.5px,#35ff00 119.5px,#11ff00 125.5px,#00ff00 131.5px,#00ff1c 137.5px,#00ff9b 155.5px,#00fefe 173.5px,#00bfff 186.5px,#009fff 197.5px,#008fff)"></i><i style="background:linear-gradient(90deg,#0047ff,#0080ff 8.5px,#00f2fd 18.5px,#00ffe4 22.5px,#00ff8d 30.5px,#03ff09 39.5px,#2cff00 44.5px,#80ff00 55.5px,#e4ff00 69.5px,#ffff00 77.5px,#e5ff00 92.5px,#c8ff00 101.5px,#99ff00 108.5px,#31ff00 120.5px,#11ff00 125.5px,#00ff01 132.5px,#00ff44 143.5px,#00ff9b 155.5px,#00fefe 173.5px,#00c0ff 186.5px,#009fff 197.5px,#0094ff 201.5px,#008fff)"></i><i style="background:linear-gradient(90deg,#004dff,#0085ff 8.5px,#00f8fa 18.5px,#00ffaf 26.5px,#00ff6f 31.5px,#02ff0e 38.5px,#1aff00 41.5px,#b6ff00 61.5px,#edff00 70.5px,#ffff00 76.5px,#f5ff00 84.5px,#e5ff00 93.5px,#c0ff00 103.5px,#90ff00 109.5px,#24ff00 122.5px,#10ff00 126.5px,#00ff01 132.5px,#00ff44 143.5px,#00ff9b 155.5px,#00fefe 173.5px,#00c0ff 186.5px,#009fff 197.5px,#0095ff 201.5px,#008fff)"></i><i style="background:linear-gradient(90deg,#0052ff,#0096ff 9.5px,#00f6fc 17.5px,#00ffce 22.5px,#00ff70 30.5px,#01ff11 37.5px,#16ff00 40.5px,#b3ff00 59.5px,#f1ff00 70.5px,#ffff00 76.5px,#f9ff00 84.5px,#ddff00 97.5px,#afff00 106.5px,#34ff00 120.5px,#11ff00 126.5px,#00ff01 132.5px,#00ff34 141.5px,#00ff9a 155.5px,#00fefe 173.5px,#00c0ff 186.5px,#009fff 196.5px,#0096ff 201.5px,#008fff)"></i><i style="background:linear-gradient(90deg,#0057ff,#009eff 9.5px,#00f3fd 16.5px,#00ffe2 19.5px,#00ff61 30.5px,#03ff09 37.5px,#33ff00 42.5px,#c8ff00 61.5px,#fdff00 72.5px,#fbff00 85.5px,#ddff00 98.5px,#b2ff00 106.5px,#2cff00 121.5px,#01ff00 130.5px,#00ff0b 134.5px,#00ff2c 140.5px,#00ff92 154.5px,#00fbff 174.5px,#00ceff 183.5px,#00afff 191.5px,#009fff 197.5px,#0099ff 201.5px,#008fff)"></i><i style="background:linear-gradient(90deg,#005fff,#008aff 6.5px,#00d4ff 13.5px,#00f8fa 16.5px,#00ff86 26.5px,#02ff0c 36.5px,#1aff00 39.5px,#54ff00 45.5px,#bfff00 58.5px,#fdff00 71.5px,#f9ff00 87.5px,#dfff00 98.5px,#b3ff00 106.5px,#25ff00 122.5px,#00ff00 131.5px,#00ff1c 138.5px,#00ff96 155.5px,#00fdfe 174.5px,#00ceff 183.5px,#00afff 191.5px,#009fff 197.5px,#009aff 201.5px,#0090ff)"></i><i style="background:linear-gradient(90deg,#0066ff,#0085ff 5.5px,#00ceff 12.5px,#00f6fc 15.5px,#00ffcf 19.5px,#02ff0d 35.5px,#17ff00 38.5px,#5cff00 45.5px,#c2ff00 57.5px,#fdff00 70.5px,#fbff00 88.5px,#ddff00 99.5px,#b5ff00 106.5px,#25ff00 122.5px,#00ff00 131.5px,#00ff15 137.5px,#00ffa2 157.5px,#00fefe 174.5px,#00c0ff 186.5px,#009fff 197.5px,#0096ff 202.5px,#0090ff)"></i><i style="background:linear-gradient(90deg,#006dff,#0095ff 6.5px,#00e3ff 13.5px,#00fef0 16.5px,#01ff16 33.5px,#0dff02 36.5px,#b8ff00 54.5px,#f5ff00 66.5px,#fff800 73.5px,#f9ff00 90.5px,#dfff00 99.5px,#afff00 107.5px,#27ff00 122.5px,#02ff00 130.5px,#00ff05 134.5px,#00ff3e 143.5px,#00ff9b 156.5px,#00fefe 174.5px,#00b0ff 190.5px,#009fff 198.5px,#0099ff 202.5px,#0090ff)"></i><i style="background:linear-gradient(90deg,#0071ff,#00a6ff 7.5px,#00f6fb 14.5px,#00ffdb 17.5px,#00ff3a 29.5px,#06ff06 34.5px,#8bff00 48.5px,#cfff00 56.5px,#fdfd00 67.5px,#fff300 76.5px,#ffff00 83.5px,#f9ff00 91.5px,#ddff00 100.5px,#b2ff00 107.5px,#31ff00 121.5px,#11ff00 126.5px,#00ff01 133.5px,#00ff34 142.5px,#00ff94 155.5px,#00fefe 174.5px,#00b0ff 190.5px,#00a3ff 195.5px,#009bff 202.5px,#0092ff)"></i><i style="background:linear-gradient(90deg,#0077ff,#00b9ff 8.5px,#00faf9 14.5px,#00ff22 30.5px,#0dff02 34.5px,#cbff00 54.5px,#efff00 61.5px,#fff600 68.5px,#fff100 77.5px,#ffff00 83.5px,#f9ff00 92.5px,#daff00 101.5px,#aaff00 108.5px,#33ff00 121.5px,#11ff00 126.5px,#00ff01 133.5px,#00ff34 142.5px,#00ff94 155.5px,#00fefe 174.5px,#00b0ff 190.5px,#00aaff 194.5px,#009fff 198.5px,#0096ff)"></i><i style="background:linear-gradient(90deg,#007dff,#00b4ff 7.5px,#00f6fd 13.5px,#00ffdb 16.5px,#00ff56 25.5px,#02ff0d 31.5px,#1cff00 35.5px,#d4ff00 54.5px,#f1ff00 59.5px,#fff500 67.5px,#fff100 78.5px,#ffff00 86.5px,#f8ff00 93.5px,#d6ff00 102.5px,#a1ff00 109.5px,#24ff00 123.5px,#10ff00 127.5px,#00ff01 133.5px,#00ff24 140.5px,#00ff80 152.5px,#00fffa 173.5px,#00caff 184.5px,#00afff 191.5px,#00a4ff 195.5px,#009cff)"></i><i style="background:linear-gradient(90deg,#0082ff,#00baff 7.5px,#00fafa 13.5px,#00ffb3 18.5px,#00ff31 27.5px,#06ff06 31.5px,#84ff00 45.5px,#ddff00 54.5px,#f8ff00 59.5px,#ffed00 72.5px,#fff900 82.5px,#fbff00 93.5px,#d2ff00 103.5px,#6bff00 115.5px,#1fff00 124.5px,#00ff00 132.5px,#00ff15 138.5px,#00ff7f 152.5px,#00fefe 174.5px,#00b0ff 190.5px,#00abff 194.5px,#009fff 198.5px,#009fff)"></i><i style="background:linear-gradient(90deg,#0087ff,#00bfff 7.5px,#00f7fd 12.5px,#00ffdb 15.5px,#00ff43 25.5px,#05ff07 30.5px,#64ff00 41.5px,#e7ff00 54.5px,#fdfd00 59.5px,#ffe600 71.5px,#fff900 84.5px,#fdff00 93.5px,#ccff00 104.5px,#25ff00 123.5px,#00ff00 132.5px,#00ff0b 136.5px,#00ff52 146.5px,#00ffab 159.5px,#00fefe 174.5px,#00b0ff 190.5px,#00abff 194.5px,#009fff 198.5px,#009fff)"></i><i style="background:linear-gradient(90deg,#008eff,#00c5ff 7.5px,#00fafa 12.5px,#00ffc3 16.5px,#00ff2c 26.5px,#09ff03 30.5px,#9eff00 46.5px,#eeff00 54.5px,#fff800 59.5px,#ffe100 71.5px,#ffef00 81.5px,#ffff00 90.5px,#faff00 94.5px,#ceff00 104.5px,#5bff00 117.5px,#20ff00 124.5px,#00ff00 132.5px,#00ff0b 136.5px,#00ff50 146.5px,#00ffaf 160.5px,#00faff 175.5px,#00beff 187.5px,#00afff 191.5px,#00a4ff 195.5px,#009fff)"></i><i style="background:linear-gradient(90deg,#0093ff,#00caff 7.5px,#00fdf6 12.5px,#00ffbd 16.5px,#00ff32 25.5px,#07ff05 29.5px,#a6ff00 46.5px,#edff00 53.5px,#fef800 57.5px,#ffdf00 70.5px,#ffef00 82.5px,#ffff00 90.5px,#faff00 94.5px,#d4ff00 103.5px,#afff00 108.5px,#20ff00 124.5px,#00ff00 132.5px,#00ff0b 136.5px,#00ff44 145.5px,#00ffaa 159.5px,#00fbfe 175.5px,#00beff 187.5px,#00afff 191.5px,#00a4ff 195.5px,#009fff)"></i><i style="background:linear-gradient(90deg,#0098ff,#00daff 8.5px,#00f9fa 11.5px,#00ffc8 15.5px,#00ff39 24.5px,#05ff07 28.5px,#64ff00 38.5px,#aeff00 46.5px,#f3fe00 53.5px,#fff200 57.5px,#ffdb00 70.5px,#ffef00 82.5px,#fffb00 87.5px,#faff00 94.5px,#d3ff00 103.5px,#a6ff00 109.5px,#21ff00 124.5px,#00ff00 132.5px,#00ff0b 136.5px,#00ff3c 144.5px,#00ff8f 155.5px,#00fdfe 175.5px,#00beff 187.5px,#00afff 192.5px,#009fff 198.5px,#009fff)"></i><i style="background:linear-gradient(90deg,#009dff,#00dfff 8.5px,#00fbf7 11.5px,#00ffc2 15.5px,#00ff15 26.5px,#08ff03 28.5px,#74ff00 39.5px,#dfff00 50.5px,#fdf900 54.5px,#ffdc00 64.5px,#ffd600 71.5px,#ffef00 82.5px,#fff900 87.5px,#faff00 94.5px,#d3ff00 103.5px,#9fff00 110.5px,#1cff00 125.5px,#00ff00 133.5px,#00ff24 141.5px,#00ff8f 155.5px,#00fefe 175.5px,#00c0ff 186.5px,#009fff 198.5px,#009fff)"></i><i style="background:linear-gradient(90deg,#00a1ff,#00daff 7.5px,#00f8fb 10.5px,#00ffce 14.5px,#01ff10 26.5px,#19ff00 29.5px,#83ff00 40.5px,#fcf900 53.5px,#ffdc00 61.5px,#ffd100 71.5px,#ffef00 82.5px,#fff600 87.5px,#ffff00 92.5px,#d2ff00 103.5px,#99ff00 111.5px,#1cff00 125.5px,#00ff00 133.5px,#00ff24 141.5px,#00ff8e 155.5px,#00fefe 175.5px,#00c1ff 186.5px,#009fff 199.5px,#009fff)"></i><i style="background:linear-gradient(90deg,#00a6ff,#00d4ff 6.5px,#00fbf9 10.5px,#00ffca 14.5px,#00ff17 25.5px,#12ff01 28.5px,#83ff00 39.5px,#fbfb00 52.5px,#ffdb00 59.5px,#ffcd00 70.5px,#ffef00 83.5px,#fff400 87.5px,#ffff00 91.5px,#dfff00 100.5px,#abff00 109.5px,#15ff00 126.5px,#00ff01 134.5px,#00ff24 141.5px,#00ff8d 155.5px,#00fffa 174.5px,#00e3ff 180.5px,#00b0ff 191.5px,#00aaff 195.5px,#009fff 199.5px,#009fff)"></i><i style="background:linear-gradient(90deg,#00acff,#00cfff 5.5px,#00fdf7 10.5px,#00ffb3 15.5px,#01ff12 25.5px,#17ff00 28.5px,#83ff00 38.5px,#f9fd00 51.5px,#ffd600 59.5px,#ffc900 70.5px,#ffef00 83.5px,#fff800 88.5px,#fbff00 93.5px,#cfff00 103.5px,#9cff00 111.5px,#49ff00 120.5px,#15ff00 126.5px,#00ff01 134.5px,#00ff24 141.5px,#00ff80 153.5px,#00fffa 174.5px,#00d8ff 182.5px,#00afff 192.5px,#00a4ff 196.5px,#009fff)"></i><i style="background:linear-gradient(90deg,#00b1ff,#00e6ff 7.5px,#00fef4 10.5px,#00ffaf 15.5px,#01ff0e 25.5px,#1cff00 28.5px,#8bff00 38.5px,#fcf900 51.5px,#ffd300 58.5px,#ffc100 68.5px,#ffef00 84.5px,#fff600 88.5px,#faff00 93.5px,#d4ff00 102.5px,#a4ff00 110.5px,#73ff00 116.5px,#1dff00 125.5px,#00ff00 133.5px,#00ff15 139.5px,#00ff7f 153.5px,#00fefe 175.5px,#00b0ff 191.5px,#00abff 195.5px,#009fff 199.5px,#009fff)"></i><i style="background:linear-gradient(90deg,#00b6ff,#00fbf9 9.5px,#00ffba 14.5px,#00ff15 24.5px,#09ff02 26.5px,#8aff00 37.5px,#fbfb00 50.5px,#ffd100 57.5px,#ffbf00 66.5px,#ffc500 72.5px,#ffef00 85.5px,#feff00 92.5px,#caff00 104.5px,#80ff00 115.5px,#1fff00 125.5px,#00ff00 133.5px,#00ff0b 137.5px,#00ff4c 146.5px,#00ff9f 158.5px,#00fefe 175.5px,#00beff 188.5px,#00afff 193.5px,#009fff 200.5px,#009fff)"></i><i style="background:linear-gradient(90deg,#00bcff,#00efff 7.5px,#00ffed 10.5px,#00ff81 17.5px,#05ff06 25.5px,#86ff00 36.5px,#f3fe00 48.5px,#ffe900 52.5px,#ffc900 58.5px,#ffbb00 67.5px,#ffc500 73.5px,#ffef00 85.5px,#feff00 92.5px,#baff00 107.5px,#79ff00 116.5px,#21ff00 125.5px,#00ff00 133.5px,#00ff0b 137.5px,#00ff53 147.5px,#00ffaf 161.5px,#00fbff 176.5px,#00bfff 188.5px,#00afff 193.5px,#009fff 200.5px,#009fff)"></i><i style="background:linear-gradient(90deg,#00c1ff,#00eaff 6.5px,#00fef3 9.5px,#00ffa0 15.5px,#02ff0e 24.5px,#1fff00 27.5px,#a3ff00 38.5px,#f9fd00 48.5px,#ffc600 57.5px,#ffb400 66.5px,#ffbe00 72.5px,#ffe000 81.5px,#ffef00 86.5px,#feff00 92.5px,#aeff00 109.5px,#7cff00 116.5px,#2aff00 124.5px,#11ff00 128.5px,#00ff00 134.5px,#00ff1c 140.5px,#00ff8b 155.5px,#00fdfe 176.5px,#00bfff 188.5px,#00afff 194.5px,#009fff 200.5px,#009fff)"></i><i style="background:linear-gradient(90deg,#00c6ff,#00efff 6.5px,#00ffef 9.5px,#00ff9d 15.5px,#01ff15 23.5px,#0cff02 25.5px,#abff00 38.5px,#fcfb00 48.5px,#ffc100 57.5px,#ffaf00 66.5px,#ffba00 72.5px,#ffdf00 81.5px,#feff00 92.5px,#9eff00 112.5px,#69ff00 118.5px,#24ff00 125.5px,#0fff00 129.5px,#00ff00 133.5px,#00ff0b 137.5px,#00ff50 147.5px,#00ffaf 161.5px,#00fefe 176.5px,#00c1ff 187.5px,#00afff 194.5px,#009fff 200.5px,#009fff)"></i><i style="background:linear-gradient(90deg,#00ccff,#00f2ff 6.5px,#00ffeb 9.5px,#00ff98 15.5px,#01ff11 23.5px,#0fff01 25.5px,#b3ff00 38.5px,#fbfc00 47.5px,#ffbc00 57.5px,#ffab00 67.5px,#ffbe00 74.5px,#ffdf00 81.5px,#feff00 92.5px,#9aff00 113.5px,#1cff00 126.5px,#00ff00 133.5px,#00ff0b 137.5px,#00ff44 146.5px,#00ffaa 160.5px,#00fefe 176.5px,#00c0ff 188.5px,#00afff 194.5px,#009fff 200.5px,#009fff)"></i><i style="background:linear-gradient(90deg,#00d1ff,#00fbfa 7.5px,#00ffa3 14.5px,#02ff0e 23.5px,#20ff00 26.5px,#bbff00 38.5px,#fdf900 47.5px,#ffba00 56.5px,#ffa500 67.5px,#ffc000 75.5px,#ffe000 82.5px,#feff00 92.5px,#95ff00 114.5px,#24ff00 125.5px,#0fff00 129.5px,#00ff00 134.5px,#00ff25 142.5px,#00ff8f 156.5px,#00fefe 176.5px,#00beff 189.5px,#00afff 194.5px,#009fff 201.5px,#009fff)"></i><i style="background:linear-gradient(90deg,#00d6ff,#00f9fd 6.5px,#00ffd5 10.5px,#00ff7e 16.5px,#01ff15 22.5px,#0cff02 24.5px,#c3ff00 38.5px,#fdf900 46.5px,#ffb500 56.5px,#ffa000 67.5px,#ffbd00 75.5px,#ffdf00 82.5px,#feff00 92.5px,#98ff00 114.5px,#24ff00 125.5px,#0fff00 129.5px,#00ff00 134.5px,#00ff25 142.5px,#00ff8f 156.5px,#00fefe 176.5px,#00bfff 189.5px,#00afff 194.5px,#009fff 201.5px,#009fff)"></i><i style="background:linear-gradient(90deg,#00ddff,#00fdfb 6.5px,#00ffc3 11.5px,#00ff79 16.5px,#01ff11 22.5px,#10ff01 24.5px,#caff00 38.5px,#fdf900 45.5px,#ffb100 56.5px,#ff9f00 66.5px,#ffaa00 72.5px,#ffdf00 82.5px,#feff00 92.5px,#aeff00 110.5px,#89ff00 116.5px,#24ff00 125.5px,#11ff00 128.5px,#00ff01 135.5px,#00ff34 144.5px,#00ff8f 156.5px,#00fefe 176.5px,#00bfff 189.5px,#00afff 195.5px,#009fff 201.5px,#009fff)"></i><i style="background:linear-gradient(90deg,#00e4ff,#00fef7 6.5px,#00ffb0 12.5px,#00ff3c 19.5px,#09ff04 23.5px,#d1ff00 38.5px,#fdf900 44.5px,#ffae00 56.5px,#ff9b00 66.5px,#ffa600 72.5px,#ffde00 82.5px,#feff00 92.5px,#b0ff00 109.5px,#93ff00 115.5px,#1cff00 126.5px,#00ff00 134.5px,#00ff24 142.5px,#00ff8e 156.5px,#00fefe 176.5px,#00bfff 189.5px,#00afff 195.5px,#009fff 201.5px,#009fff)"></i><i style="background:linear-gradient(90deg,#00ebff,#00fdf9 5.5px,#00ffd3 9.5px,#00ff7e 15.5px,#01ff15 21.5px,#0dff02 23.5px,#e2ff00 39.5px,#fdf900 43.5px,#ffa500 57.5px,#ff9600 67.5px,#ffaf00 74.5px,#ffdf00 83.5px,#feff00 92.5px,#c0ff00 105.5px,#9bff00 114.5px,#5fff00 120.5px,#1cff00 126.5px,#00ff00 134.5px,#00ff1c 141.5px,#00ff8d 156.5px,#00fefd 176.5px,#00c0ff 189.5px,#00afff 195.5px,#009fff 201.5px,#009fff)"></i><i style="background:linear-gradient(90deg,#00f0ff,#00fef4 5.5px,#00ffc0 10.5px,#00ff79 15.5px,#02ff0f 21.5px,#1fff00 24.5px,#dfff00 38.5px,#fdf900 42.5px,#ffa100 57.5px,#ff9100 66.5px,#ffad00 74.5px,#ffde00 83.5px,#feff00 92.5px,#c0ff00 105.5px,#a2ff00 113.5px,#6dff00 119.5px,#1dff00 126.5px,#00ff00 134.5px,#00ff15 140.5px,#00ff80 154.5px,#00fffb 176.5px,#00beff 190.5px,#00afff 195.5px,#009fff 201.5px,#009fff)"></i><i style="background:linear-gradient(90deg,#00f6ff,#00ffef 5.5px,#00ffbb 10.5px,#00ff61 16.5px,#04ff0a 21.5px,#34ff00 25.5px,#f0ff00 39.5px,#fef300 42.5px,#ffa100 56.5px,#ff9000 65.5px,#ff9b00 70.5px,#ffb200 75.5px,#ffee00 87.5px,#faff00 93.5px,#c0ff00 105.5px,#9eff00 114.5px,#6eff00 119.5px,#20ff00 126.5px,#00ff00 134.5px,#00ff0b 138.5px,#00ff4c 147.5px,#00ff9f 159.5px,#00fefe 177.5px,#00bfff 190.5px,#00afff 195.5px,#009fff 202.5px,#009fff)"></i><i style="background:linear-gradient(90deg,#00fbfe,#00ffe2 6.5px,#00ff8b 13.5px,#06ff06 21.5px,#8cff00 31.5px,#ecff00 38.5px,#fef500 41.5px,#ff9e00 56.5px,#ff8f00 64.5px,#ff9300 69.5px,#ffbc00 77.5px,#feff00 92.5px,#bfff00 105.5px,#9fff00 114.5px,#6fff00 119.5px,#22ff00 126.5px,#01ff00 133.5px,#00ff05 137.5px,#00ff43 146.5px,#00ff99 158.5px,#00fefe 177.5px,#00bfff 190.5px,#009fff 202.5px,#009fff)"></i><i style="background:linear-gradient(90deg,#00fefa,#00ffdb 6.5px,#00ff83 13.5px,#02ff0e 20.5px,#24ff00 23.5px,#f3fe00 38.5px,#fff100 41.5px,#ff9a00 56.5px,#ff8f00 64.5px,#ff9600 70.5px,#ffc000 78.5px,#feff00 92.5px,#bfff00 105.5px,#9fff00 114.5px,#62ff00 120.5px,#24ff00 126.5px,#0fff00 130.5px,#00ff00 134.5px,#00ff0b 138.5px,#00ff52 148.5px,#00ffbb 164.5px,#00fefe 177.5px,#00bfff 190.5px,#00afff 196.5px,#009fff 202.5px,#009fff)"></i><i style="background:linear-gradient(90deg,#00fff2,#00ffdb 5.5px,#00ff8b 12.5px,#05ff09 20.5px,#3bff00 24.5px,#f7fd00 38.5px,#ffd500 44.5px,#ff9000 58.5px,#ff9400 70.5px,#ffc400 79.5px,#feff00 92.5px,#c0ff00 105.5px,#9fff00 114.5px,#70ff00 119.5px,#24ff00 126.5px,#0fff00 130.5px,#00ff00 134.5px,#00ff0b 138.5px,#00ff3e 146.5px,#00ff8b 156.5px,#00fefe 177.5px,#00c0ff 190.5px,#00afff 196.5px,#009fff 202.5px,#009fff)"></i><i style="background:linear-gradient(90deg,#00ffeb,#00ffcb 6.5px,#00ff73 13.5px,#03ff0f 19.5px,#25ff00 22.5px,#f3fe00 37.5px,#ffec00 40.5px,#ffa500 52.5px,#ff9000 58.5px,#ff9300 70.5px,#fefe00 92.5px,#c0ff00 105.5px,#9fff00 114.5px,#7eff00 118.5px,#2cff00 125.5px,#11ff00 129.5px,#00ff00 135.5px,#00ff25 143.5px,#00ff8f 157.5px,#00fefe 177.5px,#00c0ff 190.5px,#00afff 196.5px,#009fff 202.5px,#009fff)"></i><i style="background:linear-gradient(90deg,#00ffe3,#00ffc2 6.5px,#00ff5b 14.5px,#06ff09 19.5px,#3dff00 23.5px,#f8fc00 37.5px,#ffd100 43.5px,#ff9000 56.5px,#ff9200 70.5px,#fefe00 92.5px,#c0ff00 105.5px,#9bff00 115.5px,#5cff00 121.5px,#24ff00 126.5px,#0fff00 130.5px,#00ff00 135.5px,#00ff24 143.5px,#00ff8f 157.5px,#00fefe 177.5px,#00c0ff 190.5px,#009fff 202.5px,#009fff)"></i><i style="background:linear-gradient(90deg,#00ffda,#00ffb8 6.5px,#00ff50 14.5px,#03ff0f 18.5px,#2aff00 21.5px,#f3fd00 36.5px,#ffe100 40.5px,#ffa500 50.5px,#ff8f00 57.5px,#ff9100 70.5px,#faff00 93.5px,#c0ff00 105.5px,#9bff00 115.5px,#5eff00 121.5px,#1cff00 127.5px,#00ff00 135.5px,#00ff24 143.5px,#00ff8f 157.5px,#00fefe 177.5px,#00bfff 191.5px,#009fff 203.5px,#009fff)"></i><i style="background:linear-gradient(90deg,#00ffd2,#00ffad 6.5px,#00ff53 13.5px,#08ff09 18.5px,#42ff00 22.5px,#f8fb00 36.5px,#ffb500 46.5px,#ff8e00 56.5px,#ff8500 62.5px,#ff8f00 68.5px,#ff9a00 72.5px,#ffc300 80.5px,#faff00 93.5px,#bfff00 106.5px,#9bff00 115.5px,#5fff00 121.5px,#1cff00 127.5px,#00ff00 135.5px,#00ff1c 142.5px,#00ff8e 157.5px,#00fefe 177.5px,#00bfff 191.5px,#00afff 197.5px,#009fff 203.5px,#009fff)"></i><i style="background:linear-gradient(90deg,#00ffc8,#00ffa3 6.5px,#00ff3b 14.5px,#05ff0e 17.5px,#2cff00 20.5px,#9dff00 28.5px,#f6fd00 35.5px,#ffd600 40.5px,#ff9e00 50.5px,#ff8000 61.5px,#ff8f00 68.5px,#ffa000 74.5px,#faff00 93.5px,#bfff00 106.5px,#9bff00 115.5px,#5fff00 121.5px,#1dff00 127.5px,#00ff00 135.5px,#00ff15 141.5px,#00ff8d 157.5px,#00fffd 177.5px,#00c0ff 191.5px,#00afff 197.5px,#009fff 203.5px,#009fff)"></i><i style="background:linear-gradient(90deg,#00ffbe,#00ff98 6.5px,#00ff3e 13.5px,#0aff08 17.5px,#64ff00 23.5px,#fafb00 35.5px,#ffb100 45.5px,#ff8200 57.5px,#ff8200 63.5px,#ff8f00 68.5px,#ff9600 72.5px,#fbff00 93.5px,#bfff00 106.5px,#9bff00 115.5px,#52ff00 122.5px,#20ff00 127.5px,#00ff00 135.5px,#00ff0b 139.5px,#00ff52 149.5px,#00ff9a 159.5px,#00fefe 178.5px,#00c0ff 191.5px,#009fff 203.5px,#009fff)"></i><i style="background:linear-gradient(90deg,#00ffb3,#00ff8c 6.5px,#00ff3f 12.5px,#08ff09 16.5px,#50ff00 21.5px,#bcff00 29.5px,#f7fc00 34.5px,#ffd300 39.5px,#ff9a00 49.5px,#ff8000 58.5px,#ff8400 64.5px,#ff8f00 68.5px,#ff9500 72.5px,#fdfe00 93.5px,#c0ff00 106.5px,#9bff00 115.5px,#3eff00 124.5px,#15ff00 129.5px,#00ff00 136.5px,#00ff1c 142.5px,#00ff8b 157.5px,#00fefe 178.5px,#00c0ff 191.5px,#009fff)"></i><i style="background:linear-gradient(90deg,#00ffaa,#00ff8a 5.5px,#00ff41 11.5px,#05ff0a 15.5px,#3bff00 19.5px,#afff00 27.5px,#faf900 34.5px,#ffba00 42.5px,#ff8c00 52.5px,#ff7f00 59.5px,#ff8300 64.5px,#ff8f00 68.5px,#ff9400 72.5px,#fefe00 93.5px,#c0ff00 106.5px,#9bff00 115.5px,#6eff00 120.5px,#24ff00 127.5px,#0fff00 131.5px,#00ff00 135.5px,#00ff0b 139.5px,#00ff44 148.5px,#00ff8b 157.5px,#00fefe 178.5px,#00c0ff 191.5px,#00a4ff 201.5px,#009fff)"></i><i style="background:linear-gradient(90deg,#00ffa1,#00ff75 6.5px,#03ff0e 14.5px,#25ff00 17.5px,#acff00 26.5px,#f2fe00 32.5px,#ffe300 36.5px,#ffaa00 44.5px,#ff8100 54.5px,#ff8200 64.5px,#ff8f00 69.5px,#ff9b00 73.5px,#ffd900 86.5px,#faff00 94.5px,#c0ff00 106.5px,#9bff00 115.5px,#6fff00 120.5px,#24ff00 127.5px,#0fff00 131.5px,#00ff00 136.5px,#00ff25 144.5px,#00ff90 158.5px,#00fefe 178.5px,#00bfff 192.5px,#00afff 198.5px,#009fff)"></i><i style="background:linear-gradient(90deg,#00ff98,#00ff6a 6.5px,#03ff11 13.5px,#21ff00 16.5px,#a9ff00 25.5px,#f8fc00 32.5px,#ffb000 42.5px,#ff8200 52.5px,#ff8500 65.5px,#ff8f00 69.5px,#ff9a00 73.5px,#ffc300 82.5px,#fefe00 93.5px,#c0ff00 106.5px,#9bff00 115.5px,#6fff00 120.5px,#24ff00 127.5px,#0fff00 131.5px,#00ff00 136.5px,#00ff24 144.5px,#00ff8f 158.5px,#00fefe 178.5px,#00c0ff 192.5px,#00afff 198.5px,#009fff)"></i><i style="background:linear-gradient(90deg,#00ff8e,#00ff69 5.5px,#03ff12 12.5px,#1fff01 15.5px,#b2ff00 25.5px,#f6fd00 31.5px,#ffd600 36.5px,#ff8a00 48.5px,#ff7b00 58.5px,#ff8400 65.5px,#ff8f00 69.5px,#ffa600 77.5px,#fefe00 93.5px,#b1ff00 110.5px,#8cff00 117.5px,#24ff00 127.5px,#10ff00 131.5px,#00ff01 137.5px,#00ff24 144.5px,#00ff8f 158.5px,#00fefe 178.5px,#00bfff 193.5px,#00afff 198.5px,#009fff)"></i><i style="background:linear-gradient(90deg,#00ff83,#00ff66 4.5px,#07ff09 12.5px,#46ff00 17.5px,#c9ff00 26.5px,#faf900 31.5px,#ffa900 42.5px,#ff8000 50.5px,#ff7700 59.5px,#ff8f00 69.5px,#ff9600 73.5px,#ffd400 86.5px,#faff00 94.5px,#bfff00 107.5px,#93ff00 116.5px,#4fff00 123.5px,#24ff00 127.5px,#11ff00 130.5px,#00ff00 137.5px,#00ff24 144.5px,#00ff8f 158.5px,#00fefe 178.5px,#00bfff 193.5px,#009fff)"></i><i style="background:linear-gradient(90deg,#00ff79,#00ff50 5.5px,#05ff0a 11.5px,#25ff00 14.5px,#d1ff00 26.5px,#f9fa00 30.5px,#ffaa00 41.5px,#ff7f00 49.5px,#ff7200 59.5px,#ff8f00 69.5px,#ff9400 73.5px,#ffde00 88.5px,#fbfe00 94.5px,#bfff00 107.5px,#93ff00 116.5px,#4fff00 123.5px,#1cff00 128.5px,#00ff00 136.5px,#00ff0b 140.5px,#00ff4c 149.5px,#00ff9b 160.5px,#00fefe 178.5px,#00bfff 193.5px,#009fff)"></i><i style="background:linear-gradient(90deg,#00ff71,#00ff3a 6.5px,#03ff0c 10.5px,#21ff00 13.5px,#cfff00 25.5px,#f8fc00 29.5px,#ffaa00 40.5px,#ff7900 50.5px,#ff7100 59.5px,#ff8f00 70.5px,#ffa600 78.5px,#fdfe00 94.5px,#c0ff00 107.5px,#93ff00 116.5px,#4fff00 123.5px,#15ff00 129.5px,#00ff00 137.5px,#00ff1c 143.5px,#00ff8d 158.5px,#00fffa 177.5px,#00eaff 183.5px,#00c0ff 192.5px,#00a4ff 202.5px,#009fff)"></i><i style="background:linear-gradient(90deg,#00ff69,#00ff2f 6.5px,#08ff06 10.5px,#83ff00 19.5px,#e3ff00 26.5px,#fcf800 29.5px,#ffb000 38.5px,#ff7400 50.5px,#ff7200 60.5px,#ff8f00 69.5px,#ff9600 74.5px,#ffd400 87.5px,#fefe00 94.5px,#c0ff00 107.5px,#8cff00 117.5px,#15ff00 129.5px,#00ff00 137.5px,#00ff1c 143.5px,#00ff80 156.5px,#00ffef 175.5px,#00feff 179.5px,#00c0ff 192.5px,#00a4ff 202.5px,#009fff)"></i><i style="background:linear-gradient(90deg,#00ff60,#07ff07 9.5px,#54ff00 15.5px,#ebff00 26.5px,#fef200 29.5px,#ffab00 38.5px,#ff7000 50.5px,#ff7400 61.5px,#ff8f00 69.5px,#ff9400 74.5px,#ffe400 90.5px,#fefe00 94.5px,#c0ff00 107.5px,#8cff00 117.5px,#15ff00 129.5px,#00ff00 137.5px,#00ff27 145.5px,#00ff7f 156.5px,#00fffa 177.5px,#00f4ff 181.5px,#00c0ff 193.5px,#00afff 199.5px,#009fff)"></i><i style="background:linear-gradient(90deg,#00ff58,#05ff08 8.5px,#33ff00 12.5px,#e8ff00 25.5px,#fdf400 28.5px,#ffa000 39.5px,#ff6e00 49.5px,#ff6f00 60.5px,#ff8f00 70.5px,#ff9900 75.5px,#ffd200 87.5px,#fefe00 94.5px,#c0ff00 107.5px,#8cff00 117.5px,#15ff00 129.5px,#00ff00 137.5px,#00ff25 145.5px,#00ff79 155.5px,#00fffe 178.5px,#00b0ff 198.5px,#00a0ff)"></i><i style="background:linear-gradient(90deg,#00ff50,#03ff09 7.5px,#2dff00 11.5px,#eeff00 25.5px,#feef00 28.5px,#ffa900 37.5px,#ff6900 49.5px,#ff6700 58.5px,#ff8f00 70.5px,#ff9600 75.5px,#ffdc00 89.5px,#faff00 95.5px,#c0ff00 107.5px,#8cff00 117.5px,#15ff00 129.5px,#00ff00 137.5px,#00ff25 145.5px,#00ff70 154.5px,#00fffa 177.5px,#00f4ff 181.5px,#00bfff 194.5px,#00a0ff)"></i><i style="background:linear-gradient(90deg,#00ff48,#08ff05 7.5px,#7cff00 16.5px,#f3fe00 25.5px,#ffdf00 29.5px,#ffa400 37.5px,#ff6400 49.5px,#ff6500 59.5px,#ff8f00 71.5px,#ff9900 76.5px,#ffe300 90.5px,#fafe00 95.5px,#93ff00 116.5px,#3bff00 125.5px,#15ff00 129.5px,#00ff00 137.5px,#00ff25 145.5px,#00ff6f 154.5px,#00ffef 175.5px,#00faff 180.5px,#00c0ff 193.5px,#00a4ff 203.5px,#00a0ff)"></i><i style="background:linear-gradient(90deg,#00ff40,#07ff06 6.5px,#5bff00 13.5px,#eefe00 24.5px,#ffef00 27.5px,#ffa500 36.5px,#ff6000 49.5px,#ff6600 60.5px,#ff8f00 70.5px,#ff9600 76.5px,#ffe300 90.5px,#fbfe00 95.5px,#93ff00 116.5px,#50ff00 123.5px,#15ff00 129.5px,#00ff00 137.5px,#00ff27 145.5px,#00ff83 157.5px,#00fff1 176.5px,#00faff 180.5px,#00c0ff 193.5px,#00a4ff 203.5px,#00a0ff)"></i><i style="background:linear-gradient(90deg,#00ff38,#06ff07 5.5px,#3dff00 10.5px,#f3fd00 24.5px,#ffdf00 28.5px,#ff9a00 37.5px,#ff5e00 48.5px,#ff6000 59.5px,#ff7f00 66.5px,#ff8f00 73.5px,#ffa100 79.5px,#fdfe00 95.5px,#93ff00 116.5px,#4fff00 123.5px,#15ff00 129.5px,#00ff00 137.5px,#00ff23 144.5px,#00ff4e 150.5px,#00ffaf 164.5px,#00fff0 176.5px,#00faff 180.5px,#00c0ff 193.5px,#00a4ff 203.5px,#00a0ff)"></i><i style="background:linear-gradient(90deg,#00ff30,#05ff08 4.5px,#46ff00 10.5px,#f8fb00 24.5px,#ffa900 34.5px,#ff5700 49.5px,#ff5c00 58.5px,#ff8000 67.5px,#ff8f00 74.5px,#ffb400 83.5px,#fefe00 95.5px,#93ff00 116.5px,#4eff00 123.5px,#15ff00 129.5px,#00ff00 137.5px,#00ff24 144.5px,#00ffaa 163.5px,#00ffee 175.5px,#00faff 180.5px,#00c0ff 193.5px,#00a5ff 203.5px,#00a1ff)"></i><i style="background:linear-gradient(90deg,#00ff28,#09ff03 4.5px,#f6fd00 23.5px,#ffd300 28.5px,#ff8500 39.5px,#ff5000 50.5px,#ff5a00 59.5px,#ff7f00 67.5px,#ff9600 77.5px,#ffe400 91.5px,#fefe00 95.5px,#92ff00 116.5px,#4cff00 123.5px,#15ff00 129.5px,#00ff00 136.5px,#00ff1c 143.5px,#00ffa2 162.5px,#00ffee 175.5px,#00faff 180.5px,#00c0ff 193.5px,#00a1ff)"></i><i style="background:linear-gradient(90deg,#00ff1f,#08ff05 3.5px,#e3ff00 21.5px,#fef300 24.5px,#ffa100 34.5px,#ff5000 48.5px,#ff5000 56.5px,#ff6500 62.5px,#ff7f00 68.5px,#ff9b00 78.5px,#ffeb00 92.5px,#faff00 96.5px,#8fff00 116.5px,#1cff00 128.5px,#00ff00 135.5px,#00ff0b 139.5px,#00ff2c 145.5px,#00ff9b 161.5px,#00ffee 175.5px,#00faff 180.5px,#00c0ff 193.5px,#00afff 201.5px,#00a3ff)"></i><i style="background:linear-gradient(90deg,#00ff17,#0eff02 3.5px,#f6fd00 22.5px,#ffd100 27.5px,#ff6a00 42.5px,#ff4500 50.5px,#ff5600 60.5px,#ff7f00 68.5px,#ff9a00 78.5px,#ffdb00 90.5px,#fefd00 95.5px,#8dff00 116.5px,#1cff00 128.5px,#00ff00 135.5px,#00ff0b 139.5px,#00ff34 146.5px,#00ffa0 162.5px,#00ffee 175.5px,#00faff 180.5px,#00c0ff 193.5px,#00aaff 203.5px,#00a4ff)"></i><i style="background:linear-gradient(90deg,#01ff0f,#15ff01 3.5px,#fafb00 22.5px,#ffa600 32.5px,#ff5000 46.5px,#ff4100 51.5px,#ff5300 60.5px,#ff7f00 69.5px,#ffa500 81.5px,#fafe00 96.5px,#8bff00 116.5px,#1cff00 128.5px,#00ff00 135.5px,#00ff14 141.5px,#00ffbf 167.5px,#00fefe 179.5px,#00c0ff 193.5px,#00b3ff 198.5px,#00a5ff)"></i><i style="background:linear-gradient(90deg,#02ff09,#1cff00 3.5px,#f6fd00 21.5px,#ffda00 25.5px,#ff6500 41.5px,#ff3f00 49.5px,#ff4600 58.5px,#ff7f00 70.5px,#ffa400 81.5px,#fafe00 96.5px,#89ff00 116.5px,#1cff00 128.5px,#00ff00 135.5px,#00ff25 144.5px,#00ff9f 162.5px,#00fefe 179.5px,#00c0ff 193.5px,#00baff 197.5px,#00afff 201.5px,#00a8ff)"></i><i style="background:linear-gradient(90deg,#04ff03,#24ff00 3.5px,#9dff00 13.5px,#f9fb00 21.5px,#ffb400 29.5px,#ff5000 44.5px,#ff3b00 49.5px,#ff4200 58.5px,#ff7e00 70.5px,#ffa300 81.5px,#fbfe00 96.5px,#8eff00 115.5px,#21ff00 127.5px,#00ff00 134.5px,#00ff15 141.5px,#00ffca 169.5px,#00faff 180.5px,#00cfff 190.5px,#00bfff 195.5px,#00afff 201.5px,#00acff)"></i><i style="background:linear-gradient(90deg,#06ff01,#83ff00 10.5px,#f4fd00 20.5px,#ffd700 24.5px,#ff5000 43.5px,#ff3500 49.5px,#ff3c00 57.5px,#ff6000 64.5px,#ff8f00 76.5px,#ffb600 85.5px,#fdfe00 96.5px,#84ff00 116.5px,#1fff00 127.5px,#00ff00 134.5px,#00ff17 141.5px,#00ffcf 170.5px,#00faff 180.5px,#00cfff 190.5px,#00afff 201.5px,#00afff)"></i><i style="background:linear-gradient(90deg,#0bff00,#81ff00 9.5px,#f8fb00 20.5px,#ffb900 27.5px,#ff4000 45.5px,#ff3000 50.5px,#ff3a00 58.5px,#ff7900 70.5px,#ffa400 82.5px,#fefe00 96.5px,#82ff00 116.5px,#1dff00 127.5px,#00ff00 134.5px,#00ff24 143.5px,#00ffda 172.5px,#00faff 180.5px,#00d0ff 189.5px,#00afff 201.5px,#00afff)"></i><i style="background:linear-gradient(90deg,#12ff00,#7dff00 8.5px,#f3fd00 19.5px,#ffda00 23.5px,#ffaf00 28.5px,#ff3b00 45.5px,#ff2b00 52.5px,#ff3b00 59.5px,#ff7c00 71.5px,#ffa400 82.5px,#fefd00 96.5px,#88ff00 115.5px,#15ff00 128.5px,#00ff00 134.5px,#00ff25 143.5px,#00ff73 155.5px,#00ffef 176.5px,#00faff 180.5px,#00d0ff 189.5px,#00afff 201.5px,#00afff)"></i><i style="background:linear-gradient(90deg,#1aff00,#84ff00 8.5px,#f8fb00 19.5px,#ffb700 26.5px,#ff5600 40.5px,#ff2f00 47.5px,#ff2700 53.5px,#ff3d00 60.5px,#ff7e00 72.5px,#ffa900 83.5px,#fafe00 97.5px,#85ff00 115.5px,#15ff00 128.5px,#00ff00 134.5px,#00ff2b 144.5px,#00ffdf 173.5px,#00faff 180.5px,#00d0ff 189.5px,#00afff 201.5px,#00afff)"></i><i style="background:linear-gradient(90deg,#21ff00,#81ff00 7.5px,#fbf900 19.5px,#ffac00 27.5px,#ff4a00 41.5px,#ff2a00 47.5px,#ff2200 53.5px,#ff4000 61.5px,#ff7f00 73.5px,#ffad00 84.5px,#fafe00 97.5px,#8cff00 114.5px,#15ff00 128.5px,#00ff00 134.5px,#00ff2c 144.5px,#00ffdf 173.5px,#00faff 180.5px,#00d0ff 189.5px,#00afff 202.5px,#00afff)"></i><i style="background:linear-gradient(90deg,#26ff00,#89ff00 7.5px,#f8fd00 18.5px,#ffb700 25.5px,#ff4e00 40.5px,#ff2e00 45.5px,#ff2000 51.5px,#ff2a00 57.5px,#ff8000 74.5px,#ffab00 84.5px,#fafe00 97.5px,#8bff00 114.5px,#1cff00 127.5px,#00ff00 133.5px,#00ff27 143.5px,#00ffdf 173.5px,#00faff 180.5px,#00d0ff 189.5px,#00b4ff 199.5px,#00afff)"></i><i style="background:linear-gradient(90deg,#2bff00,#8fff00 7.5px,#fbfa00 18.5px,#ffac00 26.5px,#ff4a00 40.5px,#ff2600 46.5px,#ff2200 56.5px,#ff8d00 77.5px,#ffa400 83.5px,#fafe00 97.5px,#93ff00 113.5px,#21ff00 126.5px,#00ff00 133.5px,#00ff2f 144.5px,#00ff83 158.5px,#00ffea 175.5px,#00faff 180.5px,#00d0ff 189.5px,#00b4ff 199.5px,#00afff)"></i><i style="background:linear-gradient(90deg,#31ff00,#94ff00 7.5px,#f8fd00 17.5px,#ffb900 24.5px,#ff2600 45.5px,#ff1c00 53.5px,#ff2c00 59.5px,#ff7f00 74.5px,#ffae00 85.5px,#fbfe00 97.5px,#93ff00 113.5px,#25ff00 125.5px,#00ff00 133.5px,#00ff2b 143.5px,#00ff7c 157.5px,#00ffdf 173.5px,#00faff 180.5px,#00d0ff 189.5px,#00b4ff 199.5px,#00afff)"></i><i style="background:linear-gradient(90deg,#35ff00,#9aff00 7.5px,#fbfb00 17.5px,#ffa600 26.5px,#ff6200 36.5px,#ff2200 45.5px,#ff1700 53.5px,#ff2f00 60.5px,#ff7f00 74.5px,#ffad00 85.5px,#fdfe00 97.5px,#8bff00 114.5px,#25ff00 125.5px,#00ff00 133.5px,#00ff25 142.5px,#00ff82 158.5px,#00ffea 175.5px,#00faff 180.5px,#00d0ff 189.5px,#00b4ff 199.5px,#00afff)"></i><i style="background:linear-gradient(90deg,#38ff00,#91ff00 6.5px,#f7fe00 16.5px,#ffc600 22.5px,#ff9100 29.5px,#ff2100 45.5px,#ff1100 52.5px,#ff2d00 60.5px,#ff8000 75.5px,#ffac00 85.5px,#fefd00 97.5px,#8bff00 114.5px,#25ff00 125.5px,#00ff00 133.5px,#00ff25 142.5px,#00ff94 161.5px,#00fffa 178.5px,#00cfff 191.5px,#00bfff 196.5px,#00afff 203.5px,#00afff)"></i><i style="background:linear-gradient(90deg,#3cff00,#8aff00 5.5px,#fafd00 16.5px,#ffa000 26.5px,#ff5400 37.5px,#ff2200 44.5px,#ff1000 52.5px,#ff2b00 60.5px,#ff7f00 75.5px,#ffab00 85.5px,#fefb00 97.5px,#8bff00 114.5px,#25ff00 125.5px,#00ff00 133.5px,#00ff25 142.5px,#00ff93 161.5px,#00fffa 178.5px,#00c0ff 195.5px,#00b9ff 199.5px,#00afff)"></i><i style="background:linear-gradient(90deg,#42ff00,#a5ff00 7.5px,#fbfb00 16.5px,#ff9e00 26.5px,#ff4900 38.5px,#ff2000 44.5px,#ff1000 51.5px,#ff1900 56.5px,#ff4600 65.5px,#ff8100 76.5px,#ffb600 87.5px,#fafe00 98.5px,#afff00 109.5px,#80ff00 115.5px,#27ff00 125.5px,#00ff00 133.5px,#00ff2b 143.5px,#00ff93 161.5px,#00fffa 178.5px,#00bfff 196.5px,#00afff 203.5px,#00afff)"></i><i style="background:linear-gradient(90deg,#45ff00,#b4ff00 8.5px,#f8fd00 15.5px,#ffbc00 22.5px,#ff1f00 44.5px,#ff1000 49.5px,#ff1600 56.5px,#ff4b00 66.5px,#ff8000 76.5px,#ffb400 87.5px,#fafe00 98.5px,#8bff00 114.5px,#29ff00 125.5px,#00ff00 133.5px,#00ff33 145.5px,#00ffb3 166.5px,#00fefe 179.5px,#00cfff 191.5px,#00bfff 197.5px,#00afff 203.5px,#00afff)"></i><i style="background:linear-gradient(90deg,#47ff00,#b8ff00 8.5px,#fbfb00 15.5px,#ff9900 26.5px,#ff1700 45.5px,#ff1100 55.5px,#ff4300 65.5px,#ff7f00 76.5px,#ffad00 86.5px,#fafe00 98.5px,#8bff00 114.5px,#24ff00 126.5px,#01ff00 133.5px,#00ff37 146.5px,#00ffd3 171.5px,#00fefe 179.5px,#00cfff 191.5px,#00bfff 197.5px,#00afff)"></i><i style="background:linear-gradient(90deg,#4bff00,#afff00 7.5px,#f7fe00 14.5px,#ffde00 18.5px,#ff9600 26.5px,#ff1400 45.5px,#ff1200 56.5px,#ff5b00 69.5px,#ff8100 77.5px,#ffac00 86.5px,#fafe00 98.5px,#83ff00 115.5px,#25ff00 126.5px,#00ff01 134.5px,#00ff3c 147.5px,#00ffcb 170.5px,#00fefe 179.5px,#00cfff 191.5px,#00bfff 197.5px,#00afff)"></i><i style="background:linear-gradient(90deg,#51ff00,#b1ff00 7.5px,#fafd00 14.5px,#ff9400 26.5px,#ff1600 44.5px,#ff1000 54.5px,#ff2200 60.5px,#ff7e00 76.5px,#ffa400 85.5px,#fafe00 98.5px,#7bff00 116.5px,#21ff00 127.5px,#00ff00 134.5px,#00ff35 146.5px,#00ffcb 170.5px,#00fefe 179.5px,#00cfff 191.5px,#00bfff 198.5px,#00afff)"></i><i style="background:linear-gradient(90deg,#55ff00,#c1ff00 8.5px,#fbfb00 14.5px,#ff9200 26.5px,#ff1400 44.5px,#ff1200 57.5px,#ff8000 77.5px,#ffb000 87.5px,#fbfe00 98.5px,#7cff00 116.5px,#17ff00 129.5px,#00ff00 134.5px,#00ff2f 145.5px,#00ffc3 169.5px,#00fefe 179.5px,#00cfff 192.5px,#00bfff 198.5px,#00afff)"></i><i style="background:linear-gradient(90deg,#55ff00,#c5ff00 8.5px,#fdf800 14.5px,#ff9600 25.5px,#ff1700 43.5px,#ff0f00 52.5px,#ff1400 58.5px,#ff7f00 77.5px,#ffa900 86.5px,#fdfd00 98.5px,#66ff00 119.5px,#13ff00 130.5px,#00ff01 135.5px,#00ff39 147.5px,#00fffd 179.5px,#00cfff 192.5px,#00bfff 198.5px,#00afff)"></i><i style="background:linear-gradient(90deg,#56ff00,#d4ff00 9.5px,#fafb00 13.5px,#ff8f00 26.5px,#ff1500 43.5px,#ff0d00 52.5px,#ff1700 59.5px,#ff7e00 77.5px,#ffa600 86.5px,#fafe00 99.5px,#40ff00 124.5px,#05ff00 133.5px,#00ff14 140.5px,#00ff66 155.5px,#00fff6 178.5px,#00f0ff 183.5px,#00bfff 197.5px,#00afff)"></i><i style="background:linear-gradient(90deg,#58ff00,#d8ff00 9.5px,#fbfa00 13.5px,#ff9300 25.5px,#ff1400 43.5px,#ff0500 51.5px,#ff1500 59.5px,#ff7d00 77.5px,#ffac00 87.5px,#fafe00 99.5px,#4dff00 123.5px,#0dff00 132.5px,#00ff02 136.5px,#00ff3b 148.5px,#00ffef 177.5px,#00faff 181.5px,#00cfff 192.5px,#00bfff 198.5px,#00afff)"></i><i style="background:linear-gradient(90deg,#5cff00,#dbff00 9.5px,#fdf900 13.5px,#ff9f00 23.5px,#ff1700 42.5px,#ff0100 50.5px,#ff1b00 60.5px,#ff7c00 77.5px,#ffab00 87.5px,#fafe00 99.5px,#50ff00 123.5px,#13ff00 131.5px,#00ff01 136.5px,#00ff39 148.5px,#00ffef 177.5px,#00fbff 181.5px,#00cfff 192.5px,#00bfff 198.5px,#00afff)"></i><i style="background:linear-gradient(90deg,#62ff00,#ddff00 9.5px,#fef700 13.5px,#ff9d00 23.5px,#ff1500 42.5px,#ff0000 49.5px,#ff0a00 54.5px,#ff1900 60.5px,#ff7f00 78.5px,#ffb600 89.5px,#fafe00 99.5px,#4cff00 124.5px,#10ff00 132.5px,#00ff00 136.5px,#00ff36 148.5px,#00fffa 179.5px,#00ebff 185.5px,#00c0ff 197.5px,#00b6ff 202.5px,#00b0ff)"></i><i style="background:linear-gradient(90deg,#65ff00,#dfff00 9.5px,#fbfb00 12.5px,#ff8d00 25.5px,#ff1400 42.5px,#ff0000 49.5px,#ff0700 54.5px,#ff1d00 61.5px,#ff7e00 78.5px,#ffa900 87.5px,#fafe00 99.5px,#51ff00 124.5px,#11ff00 132.5px,#00ff01 137.5px,#00ff33 148.5px,#00fff2 178.5px,#00faff 182.5px,#00cfff 193.5px,#00bfff 199.5px,#00b0ff)"></i><i style="background:linear-gradient(90deg,#65ff00,#d5ff00 8.5px,#fdfa00 12.5px,#ff9300 24.5px,#ff1700 41.5px,#ff0000 48.5px,#ff0500 54.5px,#ff1000 58.5px,#ff3d00 67.5px,#ff7d00 78.5px,#ffa600 87.5px,#fbfe00 99.5px,#56ff00 124.5px,#0fff00 133.5px,#00ff02 138.5px,#00ff3d 150.5px,#00ffcf 172.5px,#00fefe 181.5px,#00cfff 193.5px,#00bfff 199.5px,#00b0ff)"></i><i style="background:linear-gradient(90deg,#65ff00,#d8ff00 8.5px,#fef900 12.5px,#ff9f00 22.5px,#ff1c00 40.5px,#ff0000 47.5px,#ff0400 54.5px,#ff2300 63.5px,#ff7c00 78.5px,#ffac00 88.5px,#fdfd00 99.5px,#8fff00 116.5px,#64ff00 123.5px,#15ff00 132.5px,#00ff01 138.5px,#00ff34 149.5px,#00ffaf 167.5px,#00fefe 181.5px,#00cfff 193.5px,#00bfff 199.5px,#00b4ff 203.5px,#00b0ff)"></i><i style="background:linear-gradient(90deg,#65ff00,#daff00 8.5px,#fef700 12.5px,#ff9d00 22.5px,#ff1b00 40.5px,#ff0000 47.5px,#ff0700 55.5px,#ff2700 64.5px,#ff7b00 78.5px,#ffab00 88.5px,#fafe00 100.5px,#a2ff00 113.5px,#6aff00 123.5px,#17ff00 132.5px,#00ff00 138.5px,#00ff26 147.5px,#00ffc0 170.5px,#00fffd 181.5px,#00cfff 193.5px,#00bfff 200.5px,#00b1ff)"></i><i style="background:linear-gradient(90deg,#65ff00,#dbff00 8.5px,#fef500 12.5px,#ff9c00 22.5px,#ff6200 30.5px,#ff1e00 39.5px,#ff0000 46.5px,#ff0500 55.5px,#ff2500 64.5px,#ff7a00 78.5px,#ffa900 88.5px,#fafe00 100.5px,#a4ff00 113.5px,#78ff00 122.5px,#1aff00 132.5px,#00ff00 138.5px,#00ff1d 146.5px,#00ffa6 166.5px,#00fffb 181.5px,#00cfff 194.5px,#00bfff 200.5px,#00b3ff)"></i><i style="background:linear-gradient(90deg,#65ff00,#e8ff00 9.5px,#fef300 12.5px,#ffa300 21.5px,#ff6b00 29.5px,#ff2100 38.5px,#ff0000 46.5px,#ff0500 55.5px,#ff1000 59.5px,#ff3700 67.5px,#ff7d00 79.5px,#ffa600 88.5px,#fafe00 100.5px,#a1ff00 114.5px,#7dff00 122.5px,#15ff00 133.5px,#00ff00 139.5px,#00ff20 147.5px,#00ff9a 164.5px,#00fefe 182.5px,#00cfff 194.5px,#00bfff 200.5px,#00b5ff)"></i><i style="background:linear-gradient(90deg,#65ff00,#eaff00 9.5px,#fef200 12.5px,#ffa900 20.5px,#ff7200 28.5px,#ff2500 37.5px,#ff0000 46.5px,#ff0500 55.5px,#ff1000 59.5px,#ff3500 67.5px,#ff7c00 79.5px,#ffac00 89.5px,#fafe00 100.5px,#a3ff00 114.5px,#8bff00 121.5px,#5eff00 126.5px,#1eff00 132.5px,#00ff00 139.5px,#00ff17 146.5px,#00ff99 164.5px,#00fffe 182.5px,#00cfff 194.5px,#00bfff 200.5px,#00b7ff)"></i><i style="background:linear-gradient(90deg,#65ff00,#eaff00 9.5px,#fef000 12.5px,#ffa600 20.5px,#ff7b00 27.5px,#ff2500 37.5px,#ff0000 46.5px,#ff0500 55.5px,#ff1000 59.5px,#ff3400 67.5px,#ff7000 77.5px,#ffab00 89.5px,#fafe00 100.5px,#a4ff00 114.5px,#97ff00 120.5px,#6dff00 125.5px,#21ff00 132.5px,#01ff00 139.5px,#00ff07 143.5px,#00ff3e 152.5px,#00ffab 167.5px,#00fffe 182.5px,#00cfff 194.5px,#00bfff 200.5px,#00bcff)"></i><b class="mk" style="left:0;top:0px;width:37.5px;height:18px"></b><b class="mk" style="left:0;top:18px;width:28px;height:18px"></b><b class="mk" style="left:0;top:36px;width:19.5px;height:17.5px"></b><b class="mk" style="left:0;top:53.5px;width:10px;height:17.5px"></b><span class="lab">(c)</span></div><div class="fr"></div><b class="xt mn" style="left:31px"></b><b class="xt" style="left:53.67px"></b><span class="xl" style="left:54.17px">400</span><b class="xt mn" style="left:76.33px"></b><b class="xt" style="left:99px"></b><span class="xl" style="left:99.5px">450</span><b class="xt mn" style="left:121.67px"></b><b class="xt" style="left:144.33px"></b><span class="xl" style="left:144.83px">500</span><b class="xt mn" style="left:167px"></b><b class="xt" style="left:189.67px"></b><span class="xl" style="left:190.17px">550</span><b class="xt mn" style="left:212.33px"></b><b class="xt" style="left:235px"></b><span class="xl" style="left:235.5px">600</span><b class="yt mn" style="top:172px"></b><b class="yt" style="top:154.33px"></b><span class="yl" style="top:154.83px">320</span><b class="yt mn" style="top:136.67px"></b><b class="yt" style="top:119px"></b><span class="yl" style="top:119.5px">340</span><b class="yt mn" style="top:101.33px"></b><b class="yt" style="top:83.67px"></b><span class="yl" style="top:84.17px">360</span><b class="yt mn" style="top:66px"></b><b class="yt" style="top:48.33px"></b><span class="yl" style="top:48.83px">380</span><b class="yt mn" style="top:30.67px"></b><b class="yt" style="top:13px"></b><span class="yl" style="top:13.5px">400</span><span class="xa">Emission &#955;</span><span class="ya">Excitation &#955;</span><span class="ti">GQDs-250-8</span><div class="cb"></div><b class="ct" style="top:41.52px"></b><span class="cl" style="top:42.02px">1500</span><b class="ct" style="top:85.09px"></b><span class="cl" style="top:85.59px">1000</span><b class="ct" style="top:128.67px"></b><span class="cl" style="top:129.17px">500.0</span><b class="ct" style="top:170.5px"></b><span class="cl" style="top:171px">20.00</span></div><div class="pn" style="left:275px;top:195px"><div class="hm"><i style="background:linear-gradient(90deg,#0030ff,#0035ff 10.5px,#0040ff 14.5px,#0045ff 23.5px,#0050ff 27.5px,#0055ff 31.5px,#0060ff 35.5px,#007cff 41.5px,#00dcff 56.5px,#00fef7 62.5px,#00ffa9 69.5px,#00ff30 78.5px,#00ff0c 81.5px,#00ff00 84.5px,#00ff05 95.5px,#00ff7d 120.5px,#00fffe 152.5px,#00c4ff 173.5px,#009fff 186.5px,#008fff 193.5px,#007fff 199.5px,#0070ff)"></i><i style="background:linear-gradient(90deg,#0030ff,#0035ff 10.5px,#0040ff 14.5px,#0045ff 23.5px,#0050ff 27.5px,#0055ff 31.5px,#0060ff 35.5px,#007cff 41.5px,#00f9fc 60.5px,#00ffdc 64.5px,#00ff2e 78.5px,#00ff05 82.5px,#00ff05 95.5px,#00ffbd 135.5px,#00ffff 153.5px,#00b6ff 178.5px,#0075ff 202.5px,#0070ff)"></i><i style="background:linear-gradient(90deg,#0030ff,#0035ff 10.5px,#0040ff 14.5px,#0046ff 23.5px,#0050ff 28.5px,#006cff 38.5px,#00f9fd 59.5px,#00ffdb 63.5px,#00ff0a 81.5px,#00ff00 85.5px,#00ff05 95.5px,#00ffbf 136.5px,#00feff 154.5px,#009fff 187.5px,#0070ff)"></i><i style="background:linear-gradient(90deg,#0030ff,#0035ff 10.5px,#0040ff 14.5px,#0043ff 22.5px,#0050ff 26.5px,#0059ff 31.5px,#0071ff 39.5px,#00eaff 56.5px,#00fef2 60.5px,#00ff10 80.5px,#00ff00 83.5px,#00ff05 95.5px,#00ff7e 122.5px,#00ffdf 145.5px,#00feff 155.5px,#009fff 188.5px,#0070ff)"></i><i style="background:linear-gradient(90deg,#0030ff,#0035ff 10.5px,#0040ff 14.5px,#0044ff 22.5px,#0050ff 26.5px,#0054ff 30.5px,#0060ff 34.5px,#0084ff 42.5px,#00e5ff 55.5px,#00fcf9 58.5px,#00ffd2 62.5px,#00ff7d 69.5px,#00ff05 81.5px,#00ff01 94.5px,#00ff6a 119.5px,#00ffbb 136.5px,#00ffff 155.5px,#00afff 183.5px,#007fff 200.5px,#0070ff)"></i><i style="background:linear-gradient(90deg,#0030ff,#0035ff 10.5px,#0040ff 14.5px,#0045ff 22.5px,#0050ff 26.5px,#0055ff 30.5px,#0074ff 39.5px,#00e0ff 54.5px,#00fef4 58.5px,#00ffba 63.5px,#00ff7b 68.5px,#00ff05 81.5px,#00ff05 95.5px,#00ff66 119.5px,#00ffad 133.5px,#00feff 156.5px,#00afff 183.5px,#007fff 200.5px,#0071ff)"></i><i style="background:linear-gradient(90deg,#0030ff,#0035ff 10.5px,#0040ff 14.5px,#0046ff 22.5px,#0050ff 27.5px,#0076ff 39.5px,#00e4ff 54.5px,#00fdf8 57.5px,#00ffbe 62.5px,#00ff79 67.5px,#00ff05 81.5px,#00ff05 95.5px,#00ff59 117.5px,#00ffab 133.5px,#00ffff 156.5px,#00afff 184.5px,#007fff 200.5px,#0071ff)"></i><i style="background:linear-gradient(90deg,#0030ff,#0035ff 10.5px,#0040ff 14.5px,#0043ff 21.5px,#0050ff 25.5px,#0059ff 30.5px,#0080ff 40.5px,#00dfff 53.5px,#00fbfa 56.5px,#00ffc3 61.5px,#00ff78 66.5px,#00ff04 81.5px,#00ff04 95.5px,#00ff50 116.5px,#00ff9f 131.5px,#00fffe 156.5px,#00afff 184.5px,#007fff 200.5px,#0072ff)"></i><i style="background:linear-gradient(90deg,#0030ff,#0032ff 9.5px,#0040ff 14.5px,#0045ff 21.5px,#0050ff 25.5px,#0055ff 29.5px,#0083ff 40.5px,#00e4ff 53.5px,#00fdf7 56.5px,#00ffab 62.5px,#00ff62 67.5px,#00ff02 81.5px,#00ff02 95.5px,#00ff30 109.5px,#00ff5d 119.5px,#00ffa1 132.5px,#00ffff 157.5px,#00bfff 179.5px,#008bff 196.5px,#007fff 200.5px,#0073ff)"></i><i style="background:linear-gradient(90deg,#0030ff,#0033ff 9.5px,#0040ff 13.5px,#0046ff 21.5px,#0050ff 26.5px,#0075ff 37.5px,#00d5ff 51.5px,#00fbfa 55.5px,#00ffb3 61.5px,#00ff62 66.5px,#00ff36 72.5px,#00ff01 81.5px,#00ff04 96.5px,#00ff43 115.5px,#00ff9b 131.5px,#00fffe 157.5px,#00bfff 179.5px,#0094ff 193.5px,#0080ff 200.5px,#0075ff)"></i><i style="background:linear-gradient(90deg,#0030ff,#0034ff 9.5px,#0040ff 13.5px,#0043ff 20.5px,#0050ff 24.5px,#0059ff 29.5px,#0089ff 40.5px,#00e3ff 52.5px,#00fdf7 55.5px,#00ffaa 61.5px,#00ff57 66.5px,#00ff2e 72.5px,#00ff00 81.5px,#00ff02 96.5px,#00ff40 115.5px,#00ff9e 132.5px,#00ffff 158.5px,#00bfff 180.5px,#009bff 192.5px,#0080ff 200.5px,#0078ff)"></i><i style="background:linear-gradient(90deg,#0030ff,#0035ff 9.5px,#0040ff 13.5px,#0045ff 20.5px,#0050ff 24.5px,#0056ff 28.5px,#008cff 40.5px,#00e6ff 52.5px,#00fef3 55.5px,#00ffa2 61.5px,#00ff4d 66.5px,#00ff31 70.5px,#00ff01 80.5px,#0bff00 87.5px,#00ff04 97.5px,#00ff3c 115.5px,#00ff9c 132.5px,#00fffe 158.5px,#00bfff 180.5px,#00afff 186.5px,#0080ff 200.5px,#007cff)"></i><i style="background:linear-gradient(90deg,#0030ff,#0035ff 9.5px,#0040ff 13.5px,#0046ff 20.5px,#0050ff 25.5px,#0073ff 35.5px,#00c9ff 48.5px,#00fbf7 54.5px,#00ff99 61.5px,#00ff44 66.5px,#00ff2d 69.5px,#01ff00 80.5px,#0fff00 86.5px,#00ff02 97.5px,#00ff39 115.5px,#00ff9f 133.5px,#00ffff 159.5px,#00bfff 180.5px,#009bff 192.5px,#0080ff 200.5px,#007fff)"></i><i style="background:linear-gradient(90deg,#0030ff,#0035ff 9.5px,#0040ff 13.5px,#0043ff 19.5px,#0050ff 23.5px,#0056ff 27.5px,#0076ff 35.5px,#00d5ff 49.5px,#00f8fb 53.5px,#00ffdb 56.5px,#00ff91 61.5px,#00ff3b 66.5px,#00ff24 69.5px,#02ff00 80.5px,#10ff00 85.5px,#08ff00 92.5px,#00ff04 98.5px,#00ff31 114.5px,#00ff99 132.5px,#00ffef 155.5px,#00fbff 161.5px,#00cfff 175.5px,#009cff 192.5px,#0080ff 200.5px,#007fff)"></i><i style="background:linear-gradient(90deg,#0030ff,#0037ff 9.5px,#0040ff 14.5px,#0045ff 19.5px,#0050ff 23.5px,#0069ff 32.5px,#00d1ff 48.5px,#00fbf8 53.5px,#00ff9b 60.5px,#00ff33 66.5px,#00ff1d 69.5px,#01ff00 79.5px,#10ff00 84.5px,#0cff00 92.5px,#00ff00 97.5px,#00ff2f 114.5px,#00ff91 131.5px,#00ffe0 151.5px,#00ffff 160.5px,#00cfff 175.5px,#00bfff 181.5px,#0080ff 200.5px,#007fff)"></i><i style="background:linear-gradient(90deg,#0030ff,#0033ff 8.5px,#0040ff 12.5px,#0046ff 19.5px,#0066ff 31.5px,#00d6ff 48.5px,#00f8fb 52.5px,#00ffcc 56.5px,#00ff81 61.5px,#00ff2b 66.5px,#00ff13 70.5px,#03ff00 79.5px,#10ff00 84.5px,#0aff00 93.5px,#00ff01 98.5px,#00ff2c 114.5px,#00ff8f 131.5px,#00ffdf 151.5px,#00ffff 160.5px,#00bfff 180.5px,#009aff 193.5px,#0080ff 200.5px,#0080ff)"></i><i style="background:linear-gradient(90deg,#0030ff,#0034ff 8.5px,#0040ff 12.5px,#0043ff 18.5px,#0050ff 22.5px,#0069ff 31.5px,#00e3ff 49.5px,#00fbf9 52.5px,#00ff8b 60.5px,#00ff24 66.5px,#00ff0d 70.5px,#07ff00 79.5px,#10ff00 86.5px,#09ff00 94.5px,#00ff01 99.5px,#00ff29 114.5px,#00ff91 132.5px,#00ffdf 151.5px,#00feff 161.5px,#00bfff 180.5px,#00a4ff 190.5px,#0080ff 200.5px,#0080ff)"></i><i style="background:linear-gradient(90deg,#0030ff,#0035ff 8.5px,#0040ff 12.5px,#0045ff 18.5px,#0050ff 22.5px,#006bff 31.5px,#00f1ff 50.5px,#00ffea 53.5px,#00ff72 61.5px,#00ff1e 66.5px,#00ff07 70.5px,#10ff00 86.5px,#0cff00 94.5px,#00ff00 99.5px,#00ff26 114.5px,#00ff9a 134.5px,#00ffef 156.5px,#00faff 162.5px,#00bfff 180.5px,#00b9ff 184.5px,#0080ff 200.5px,#0080ff)"></i><i style="background:linear-gradient(90deg,#0030ff,#0035ff 8.5px,#0040ff 12.5px,#0046ff 18.5px,#006dff 31.5px,#00fbfa 51.5px,#00ff9b 58.5px,#00ff17 66.5px,#00ff04 69.5px,#10ff00 84.5px,#0aff00 95.5px,#00ff01 101.5px,#00ff24 114.5px,#00ff93 133.5px,#00ffef 156.5px,#00faff 162.5px,#00bfff 181.5px,#00a4ff 190.5px,#0080ff 200.5px,#0080ff)"></i><i style="background:linear-gradient(90deg,#0030ff,#0035ff 8.5px,#0040ff 12.5px,#0043ff 17.5px,#0050ff 21.5px,#0069ff 30.5px,#00f9fc 50.5px,#00ffde 53.5px,#00ff13 66.5px,#00ff01 69.5px,#10ff00 81.5px,#0aff00 96.5px,#00ff01 102.5px,#00ff27 115.5px,#00ff8e 132.5px,#00ffef 156.5px,#00faff 162.5px,#00cfff 176.5px,#00bfff 182.5px,#008bff 197.5px,#0080ff 201.5px,#0080ff)"></i><i style="background:linear-gradient(90deg,#0030ff,#0035ff 8.5px,#0040ff 12.5px,#0044ff 17.5px,#0050ff 21.5px,#0071ff 31.5px,#00f7fd 49.5px,#00ffe5 52.5px,#00ff0f 66.5px,#01ff00 69.5px,#10ff00 78.5px,#0aff00 97.5px,#00ff02 104.5px,#00ff2b 116.5px,#00ff8f 133.5px,#00ffef 156.5px,#00faff 162.5px,#00cfff 175.5px,#00b4ff 185.5px,#0094ff 194.5px,#0080ff 201.5px,#0080ff)"></i><i style="background:linear-gradient(90deg,#0030ff,#0037ff 8.5px,#0040ff 13.5px,#0045ff 17.5px,#0050ff 21.5px,#0073ff 31.5px,#00fbfa 49.5px,#00ffc3 54.5px,#00ff17 65.5px,#02ff01 68.5px,#10ff00 76.5px,#0aff00 98.5px,#00ff06 106.5px,#00ff33 118.5px,#00ff89 132.5px,#00ffef 156.5px,#00faff 162.5px,#00cfff 176.5px,#00bfff 182.5px,#008bff 197.5px,#0080ff 201.5px,#0080ff)"></i><i style="background:linear-gradient(90deg,#0030ff,#0033ff 7.5px,#0040ff 11.5px,#0046ff 17.5px,#006dff 29.5px,#0096ff 35.5px,#00cfff 42.5px,#00f9fc 48.5px,#00ffc8 53.5px,#00ff08 66.5px,#0fff00 72.5px,#10ff00 93.5px,#06ff00 101.5px,#00ff07 107.5px,#00ff37 119.5px,#00ff86 132.5px,#00ffee 155.5px,#00faff 162.5px,#00bfff 181.5px,#009bff 193.5px,#0080ff 200.5px,#0080ff)"></i><i style="background:linear-gradient(90deg,#0030ff,#0034ff 7.5px,#0040ff 11.5px,#0043ff 16.5px,#0074ff 30.5px,#00baff 38.5px,#00f9fa 47.5px,#00ffd8 51.5px,#01ff06 66.5px,#10ff00 72.5px,#1bff00 85.5px,#0aff00 101.5px,#00ff04 107.5px,#00ff35 119.5px,#00ff8f 134.5px,#00ffef 156.5px,#00faff 162.5px,#00bfff 180.5px,#009aff 193.5px,#0080ff 200.5px,#0080ff)"></i><i style="background:linear-gradient(90deg,#0030ff,#0035ff 7.5px,#0040ff 11.5px,#0045ff 16.5px,#0077ff 30.5px,#00bfff 38.5px,#00f9f9 46.5px,#00ffcf 51.5px,#00ff0f 65.5px,#0bff00 68.5px,#1fff00 82.5px,#19ff00 92.5px,#06ff00 103.5px,#00ff06 108.5px,#00ff33 119.5px,#00ff8f 134.5px,#00ffee 156.5px,#00faff 162.5px,#00bfff 180.5px,#0099ff 193.5px,#0080ff 200.5px,#0080ff)"></i><i style="background:linear-gradient(90deg,#0030ff,#0035ff 7.5px,#0040ff 11.5px,#0046ff 16.5px,#006aff 26.5px,#0084ff 31.5px,#00eaff 42.5px,#00fdf2 46.5px,#00ffac 53.5px,#00ff0b 65.5px,#0cff00 68.5px,#20ff00 79.5px,#19ff00 95.5px,#00ff04 108.5px,#00ff37 120.5px,#00ff8e 134.5px,#00ffee 156.5px,#00faff 162.5px,#00bfff 181.5px,#0080ff 200.5px,#0080ff)"></i><i style="background:linear-gradient(90deg,#0030ff,#0035ff 7.5px,#0040ff 11.5px,#0049ff 16.5px,#005bff 22.5px,#0089ff 31.5px,#00f2fe 42.5px,#00ffe8 46.5px,#00ffa0 53.5px,#01ff08 65.5px,#12ff00 71.5px,#20ff00 77.5px,#19ff00 97.5px,#00ff02 108.5px,#00ff35 120.5px,#00ff90 135.5px,#00ffde 152.5px,#00feff 161.5px,#00b0ff 185.5px,#009bff 192.5px,#0080ff 200.5px,#0080ff)"></i><i style="background:linear-gradient(90deg,#0030ff,#0035ff 7.5px,#0040ff 11.5px,#0044ff 15.5px,#0061ff 23.5px,#008eff 31.5px,#00f2fd 41.5px,#00ffe5 45.5px,#00ff7c 55.5px,#01ff06 65.5px,#20ff00 75.5px,#1cff00 98.5px,#00ff05 109.5px,#00ff39 121.5px,#00ff9b 137.5px,#00ffee 156.5px,#00faff 162.5px,#00afff 185.5px,#0080ff 200.5px,#0080ff)"></i><i style="background:linear-gradient(90deg,#0030ff,#0035ff 7.5px,#0040ff 11.5px,#0045ff 15.5px,#0063ff 23.5px,#0094ff 31.5px,#00f9f9 41.5px,#00ff9d 51.5px,#01ff05 65.5px,#20ff00 74.5px,#1fff00 98.5px,#00ff05 109.5px,#00ff37 121.5px,#00ff9f 138.5px,#00fffe 160.5px,#00bfff 180.5px,#0080ff 200.5px,#0080ff)"></i><i style="background:linear-gradient(90deg,#0030ff,#0037ff 7.5px,#0040ff 12.5px,#005bff 21.5px,#009cff 31.5px,#00f9f9 40.5px,#00ff72 54.5px,#02ff05 65.5px,#20ff00 73.5px,#27ff00 90.5px,#1aff00 101.5px,#00ff04 109.5px,#00ff35 121.5px,#00ff9e 138.5px,#00ffe0 153.5px,#00ffff 160.5px,#00b0ff 184.5px,#0080ff 201.5px,#0080ff)"></i><i style="background:linear-gradient(90deg,#0030ff,#0033ff 6.5px,#0040ff 10.5px,#0049ff 15.5px,#005dff 21.5px,#00acff 32.5px,#00f8fa 39.5px,#00ff8b 50.5px,#04ff04 65.5px,#20ff00 72.5px,#2cff00 90.5px,#25ff00 98.5px,#00ff02 109.5px,#00ff39 122.5px,#00ff9c 138.5px,#00ffde 152.5px,#00ffff 160.5px,#00afff 184.5px,#0080ff 201.5px,#0080ff)"></i><i style="background:linear-gradient(90deg,#0030ff,#0034ff 6.5px,#0040ff 10.5px,#0045ff 14.5px,#0064ff 22.5px,#00aaff 31.5px,#00f7fc 38.5px,#00ffb1 45.5px,#00ff6b 52.5px,#05ff02 65.5px,#20ff00 72.5px,#2fff00 90.5px,#2aff00 98.5px,#00ff05 110.5px,#00ff3d 123.5px,#00ff90 136.5px,#00ffde 152.5px,#00ffff 160.5px,#00afff 184.5px,#008fff 195.5px,#0080ff 201.5px,#0080ff)"></i><i style="background:linear-gradient(90deg,#0030ff,#0035ff 6.5px,#0040ff 10.5px,#0046ff 14.5px,#0067ff 22.5px,#00b1ff 31.5px,#00f6fc 37.5px,#00ffd5 41.5px,#00ff6e 50.5px,#05ff01 65.5px,#20ff00 71.5px,#2fff00 83.5px,#2eff00 98.5px,#00ff05 110.5px,#00ff3b 123.5px,#00ff9b 138.5px,#00feff 160.5px,#00afff 184.5px,#008fff 195.5px,#0080ff 201.5px,#0080ff)"></i><i style="background:linear-gradient(90deg,#0030ff,#0035ff 6.5px,#0040ff 10.5px,#0059ff 19.5px,#008aff 26.5px,#00d9ff 34.5px,#00faf8 37.5px,#00ff61 50.5px,#02ff04 64.5px,#20ff00 71.5px,#30ff00 80.5px,#30ff00 98.5px,#0bff00 107.5px,#00ff09 111.5px,#00ff33 122.5px,#00ff9f 139.5px,#00feff 160.5px,#00afff 184.5px,#008fff 195.5px,#0080ff 201.5px,#0080ff)"></i><i style="background:linear-gradient(90deg,#0030ff,#0035ff 6.5px,#0040ff 10.5px,#004bff 14.5px,#0064ff 21.5px,#00caff 32.5px,#00f7fa 36.5px,#00ffb3 42.5px,#00ff5d 49.5px,#04ff02 64.5px,#20ff00 70.5px,#30ff00 79.5px,#39ff00 96.5px,#17ff00 105.5px,#00ff02 110.5px,#00ff37 123.5px,#00ff9e 139.5px,#00feff 160.5px,#009fff 188.5px,#0084ff 198.5px,#0080ff)"></i><i style="background:linear-gradient(90deg,#0030ff,#0035ff 6.5px,#0040ff 10.5px,#0056ff 18.5px,#0076ff 23.5px,#00eafe 34.5px,#00feea 37.5px,#00ff50 49.5px,#00ff1e 58.5px,#05ff01 64.5px,#20ff00 70.5px,#30ff00 77.5px,#3dff00 96.5px,#19ff00 105.5px,#00ff01 110.5px,#00ff35 123.5px,#00ff96 138.5px,#00ffe0 153.5px,#00feff 160.5px,#009fff 188.5px,#008fff 195.5px,#0080ff 201.5px,#0080ff)"></i><i style="background:linear-gradient(90deg,#0030ff,#0035ff 6.5px,#0040ff 10.5px,#0061ff 20.5px,#00b9ff 29.5px,#00faf7 35.5px,#00ff44 49.5px,#00ff16 58.5px,#07ff00 64.5px,#2dff00 73.5px,#40ff00 95.5px,#25ff00 103.5px,#01ff01 110.5px,#00ff33 123.5px,#00ff9b 139.5px,#00ffe0 153.5px,#00feff 160.5px,#009fff 188.5px,#008fff 194.5px,#0084ff 198.5px,#0080ff)"></i><i style="background:linear-gradient(90deg,#0030ff,#0037ff 6.5px,#0055ff 17.5px,#0073ff 22.5px,#00f7fa 34.5px,#00ffbd 39.5px,#00ff38 49.5px,#00ff12 57.5px,#06ff00 63.5px,#2fff00 73.5px,#40ff00 90.5px,#39ff00 99.5px,#00ff04 111.5px,#00ff37 124.5px,#00ff9b 139.5px,#00ffe0 153.5px,#00feff 160.5px,#009fff 187.5px,#008fff 194.5px,#0084ff 198.5px,#0080ff)"></i><i style="background:linear-gradient(90deg,#0030ff,#0033ff 5.5px,#0040ff 9.5px,#0056ff 17.5px,#0076ff 22.5px,#00f3fd 33.5px,#00ffdd 36.5px,#00ff2f 49.5px,#00ff0e 56.5px,#0bff00 63.5px,#31ff00 74.5px,#40ff00 85.5px,#3cff00 99.5px,#00ff02 111.5px,#00ff35 124.5px,#00ff9f 140.5px,#00ffe0 153.5px,#00feff 160.5px,#009fff 187.5px,#0094ff 191.5px,#008bff 197.5px,#0080ff 201.5px,#0080ff)"></i><i style="background:linear-gradient(90deg,#0030ff,#0034ff 5.5px,#0040ff 9.5px,#0061ff 19.5px,#009bff 25.5px,#00f8fa 33.5px,#00ff74 43.5px,#00ff27 49.5px,#01ff07 56.5px,#1fff00 67.5px,#3fff00 79.5px,#3fff00 98.5px,#0dff00 108.5px,#00ff05 112.5px,#00ff33 124.5px,#00ff9e 140.5px,#00fffe 159.5px,#009fff 187.5px,#0094ff 191.5px,#008bff 197.5px,#0080ff 201.5px,#0080ff)"></i><i style="background:linear-gradient(90deg,#0030ff,#0035ff 5.5px,#0040ff 9.5px,#0064ff 19.5px,#00a0ff 25.5px,#00f6fd 32.5px,#00ffdb 35.5px,#00ff2b 48.5px,#00ff0e 52.5px,#0dff00 60.5px,#40ff00 78.5px,#45ff00 96.5px,#2cff00 103.5px,#01ff01 111.5px,#00ff31 124.5px,#00ff9c 140.5px,#00fffe 159.5px,#009fff 187.5px,#0094ff 191.5px,#008bff 197.5px,#0080ff 201.5px,#0080ff)"></i><i style="background:linear-gradient(90deg,#0030ff,#0035ff 5.5px,#0040ff 9.5px,#006dff 20.5px,#00fafa 32.5px,#00ff25 48.5px,#01ff07 52.5px,#2aff00 68.5px,#41ff00 77.5px,#4aff00 96.5px,#1cff00 106.5px,#00ff02 112.5px,#00ff34 125.5px,#00ff9b 140.5px,#00fffe 159.5px,#009fff 187.5px,#0094ff 191.5px,#008bff 197.5px,#0080ff 201.5px,#0080ff)"></i><i style="background:linear-gradient(90deg,#0030ff,#0035ff 5.5px,#0060ff 17.5px,#0082ff 22.5px,#00f6fc 31.5px,#00ffdb 34.5px,#00ff2b 47.5px,#02ff03 52.5px,#44ff00 77.5px,#4fff00 95.5px,#24ff00 105.5px,#01ff00 111.5px,#00ff2d 124.5px,#00ff9e 141.5px,#00fffe 159.5px,#009fff 187.5px,#0094ff 191.5px,#008bff 197.5px,#0080ff 201.5px,#0080ff)"></i><i style="background:linear-gradient(90deg,#0030ff,#0037ff 5.5px,#0059ff 15.5px,#007bff 21.5px,#00faf8 31.5px,#00ffc3 35.5px,#00ff1b 48.5px,#06ff01 52.5px,#24ff00 62.5px,#4bff00 78.5px,#4fff00 96.5px,#13ff00 108.5px,#00ff01 112.5px,#00ff31 125.5px,#00ff9c 141.5px,#00fffd 159.5px,#009fff 187.5px,#0094ff 191.5px,#008bff 197.5px,#0080ff 201.5px,#0080ff)"></i><i style="background:linear-gradient(90deg,#0030ff,#0039ff 5.5px,#0052ff 13.5px,#0080ff 21.5px,#00f6fb 30.5px,#00ffdb 33.5px,#00ff6b 41.5px,#00ff0e 49.5px,#0aff00 52.5px,#2bff00 61.5px,#4fff00 78.5px,#4bff00 97.5px,#01ff00 112.5px,#00ff29 124.5px,#00ffb9 146.5px,#00fefe 160.5px,#009fff 187.5px,#008fff 194.5px,#0084ff 198.5px,#0080ff)"></i><i style="background:linear-gradient(90deg,#0030ff,#0035ff 4.5px,#0054ff 13.5px,#007bff 20.5px,#00f1fd 29.5px,#00ffe2 32.5px,#00ff6e 40.5px,#00ff0b 49.5px,#15ff00 53.5px,#34ff00 62.5px,#54ff00 77.5px,#4cff00 97.5px,#00ff01 113.5px,#00ff10 118.5px,#00ff33 126.5px,#00ffb6 146.5px,#00fffe 160.5px,#009fff 188.5px,#008fff 194.5px,#0084ff 198.5px,#0080ff)"></i><i style="background:linear-gradient(90deg,#0030ff,#0036ff 4.5px,#0056ff 13.5px,#0080ff 20.5px,#00ccff 26.5px,#00f6fb 29.5px,#00ffdb 32.5px,#00ff73 39.5px,#01ff07 49.5px,#29ff00 56.5px,#3cff00 63.5px,#5aff00 77.5px,#49ff00 98.5px,#00ff01 113.5px,#00ff2b 125.5px,#00ffcb 150.5px,#00feff 161.5px,#00dfff 169.5px,#009fff 188.5px,#008fff 195.5px,#0080ff 201.5px,#0080ff)"></i><i style="background:linear-gradient(90deg,#0030ff,#004cff 10.5px,#0085ff 20.5px,#00d1ff 26.5px,#00f9f9 29.5px,#00ffb3 34.5px,#00ff6b 39.5px,#02ff05 49.5px,#33ff00 57.5px,#45ff00 64.5px,#5fff00 77.5px,#4bff00 98.5px,#00ff00 113.5px,#00ff29 125.5px,#00ffda 153.5px,#00feff 161.5px,#00dfff 169.5px,#009fff 188.5px,#0084ff 198.5px,#0080ff)"></i><i style="background:linear-gradient(90deg,#0030ff,#003bff 4.5px,#0051ff 11.5px,#008aff 20.5px,#00f1fd 28.5px,#00ffdb 31.5px,#00ff6e 38.5px,#04ff04 49.5px,#39ff00 57.5px,#51ff00 65.5px,#63ff00 77.5px,#4bff00 98.5px,#01ff00 113.5px,#00ff26 125.5px,#00ffd8 153.5px,#00fbff 162.5px,#00afff 183.5px,#009fff 189.5px,#008fff 195.5px,#0080ff 201.5px,#0080ff)"></i><i style="background:linear-gradient(90deg,#0030ff,#004bff 9.5px,#008eff 20.5px,#00dcff 26.5px,#00fdf1 29.5px,#00ff66 38.5px,#05ff02 49.5px,#40ff00 57.5px,#5bff00 65.5px,#69ff00 77.5px,#4bff00 98.5px,#00ff00 114.5px,#00ff29 126.5px,#00ffcb 151.5px,#00fdff 162.5px,#00cfff 174.5px,#009fff 188.5px,#0086ff 198.5px,#0080ff)"></i><i style="background:linear-gradient(90deg,#0030ff,#004cff 9.5px,#0094ff 20.5px,#00d4ff 25.5px,#00faf6 28.5px,#00ff5f 38.5px,#02ff05 48.5px,#51ff00 59.5px,#63ff00 65.5px,#6dff00 78.5px,#46ff00 99.5px,#00ff00 114.5px,#00ff27 126.5px,#00ffce 152.5px,#00feff 162.5px,#00cfff 174.5px,#00a0ff 188.5px,#0089ff 198.5px,#0080ff 203.5px,#0080ff)"></i><i style="background:linear-gradient(90deg,#0030ff,#0053ff 10.5px,#009aff 20.5px,#00daff 25.5px,#00fdf1 28.5px,#00ff57 38.5px,#04ff04 48.5px,#59ff00 59.5px,#6cff00 64.5px,#72ff00 78.5px,#5fff00 89.5px,#49ff00 99.5px,#01ff00 114.5px,#00ff25 126.5px,#00ffde 155.5px,#00faff 163.5px,#00b0ff 183.5px,#008fff 195.5px,#0080ff 202.5px,#0080ff)"></i><i style="background:linear-gradient(90deg,#0030ff,#0055ff 10.5px,#00aaff 21.5px,#00eefd 26.5px,#00feea 28.5px,#00ff5c 37.5px,#00ff35 41.5px,#06ff02 48.5px,#5aff00 58.5px,#73ff00 63.5px,#7bff00 77.5px,#60ff00 89.5px,#54ff00 94.5px,#4bff00 99.5px,#00ff00 115.5px,#00ff23 126.5px,#00ffe6 157.5px,#00faff 163.5px,#00afff 184.5px,#008fff 196.5px,#0080ff 202.5px,#0080ff)"></i><i style="background:linear-gradient(90deg,#0030ff,#0057ff 10.5px,#00b0ff 21.5px,#00f1fb 26.5px,#00ffd3 29.5px,#00ff60 36.5px,#00ff36 40.5px,#02ff04 47.5px,#5fff00 58.5px,#7bff00 63.5px,#80ff00 77.5px,#60ff00 89.5px,#56ff00 94.5px,#3bff00 103.5px,#00ff00 115.5px,#00ff22 126.5px,#00ff61 136.5px,#00ffef 159.5px,#00fbff 163.5px,#00afff 184.5px,#009fff 190.5px,#008fff 196.5px,#0080ff 202.5px,#0080ff)"></i><i style="background:linear-gradient(90deg,#0030ff,#005aff 10.5px,#00b6ff 21.5px,#00f6f9 26.5px,#00ffab 31.5px,#00ff56 36.5px,#00ff30 40.5px,#04ff02 47.5px,#6cff00 59.5px,#83ff00 63.5px,#89ff00 76.5px,#60ff00 90.5px,#59ff00 94.5px,#30ff00 105.5px,#01ff00 115.5px,#00ff24 127.5px,#00ffef 159.5px,#00fdff 163.5px,#00afff 184.5px,#008fff 196.5px,#0080ff 202.5px,#0080ff)"></i><i style="background:linear-gradient(90deg,#0030ff,#005dff 10.5px,#00caff 22.5px,#00faf5 26.5px,#00ff4e 36.5px,#00ff2a 40.5px,#07ff01 47.5px,#7bff00 60.5px,#8bff00 63.5px,#8eff00 76.5px,#60ff00 91.5px,#46ff00 100.5px,#00ff00 116.5px,#00ff27 128.5px,#00ffee 159.5px,#00faff 164.5px,#00bfff 180.5px,#008fff 196.5px,#0080ff 202.5px,#0080ff)"></i><i style="background:linear-gradient(90deg,#0030ff,#0060ff 10.5px,#00c5ff 21.5px,#00f6fa 25.5px,#00ffce 28.5px,#00ff46 36.5px,#00ff10 43.5px,#0bff00 47.5px,#83ff00 60.5px,#93ff00 63.5px,#94ff00 75.5px,#60ff00 92.5px,#3cff00 103.5px,#00ff00 116.5px,#00ff25 128.5px,#00ffe6 158.5px,#00faff 164.5px,#00cfff 175.5px,#008fff 196.5px,#0080ff 202.5px,#0080ff)"></i><i style="background:linear-gradient(90deg,#0031ff,#005dff 9.5px,#00b6ff 19.5px,#00f1fd 24.5px,#00feea 26.5px,#00ff3f 36.5px,#00ff0b 43.5px,#0eff00 47.5px,#8bff00 60.5px,#9bff00 64.5px,#99ff00 76.5px,#60ff00 92.5px,#3eff00 103.5px,#01ff00 116.5px,#00ff1c 126.5px,#00ff56 136.5px,#00ffdf 157.5px,#00faff 164.5px,#00cfff 175.5px,#009fff 191.5px,#0080ff 202.5px,#0080ff)"></i><i style="background:linear-gradient(90deg,#0031ff,#0066ff 10.5px,#00dfff 22.5px,#00fdf1 25.5px,#00ff37 36.5px,#00ff0b 42.5px,#0bff00 46.5px,#9aff00 61.5px,#a3ff00 66.5px,#9eff00 76.5px,#60ff00 93.5px,#3bff00 104.5px,#01ff00 116.5px,#00ff1b 126.5px,#00ff46 134.5px,#00ffdf 157.5px,#00faff 164.5px,#00bfff 180.5px,#009fff 191.5px,#0080ff 203.5px,#0080ff)"></i><i style="background:linear-gradient(90deg,#0031ff,#006aff 10.5px,#00f1fd 23.5px,#00ffdb 26.5px,#00ff30 36.5px,#00ff0a 41.5px,#10ff00 46.5px,#9fff00 61.5px,#abff00 66.5px,#a3ff00 76.5px,#60ff00 94.5px,#36ff00 105.5px,#00ff00 117.5px,#00ff25 129.5px,#00ffea 159.5px,#00faff 164.5px,#00bfff 180.5px,#009fff 191.5px,#008fff 197.5px,#0080ff 203.5px,#0080ff)"></i><i style="background:linear-gradient(90deg,#0031ff,#006eff 10.5px,#00f7fa 23.5px,#00ffd3 26.5px,#00ff2a 36.5px,#01ff07 40.5px,#16ff00 46.5px,#9dff00 60.5px,#afff00 64.5px,#a9ff00 76.5px,#62ff00 94.5px,#39ff00 105.5px,#00ff00 117.5px,#00ff1c 127.5px,#00ff4b 135.5px,#00ffea 159.5px,#00fbff 164.5px,#00dfff 171.5px,#00b0ff 185.5px,#008fff 197.5px,#0080ff 203.5px,#0080ff)"></i><i style="background:linear-gradient(90deg,#0033ff,#006aff 9.5px,#00f3fc 22.5px,#00ffdb 25.5px,#00ff23 36.5px,#01ff06 39.5px,#24ff00 47.5px,#93ff00 58.5px,#b3ff00 63.5px,#aeff00 76.5px,#62ff00 95.5px,#30ff00 107.5px,#01ff00 117.5px,#00ff1b 127.5px,#00ff3b 133.5px,#00ffde 157.5px,#00fdff 164.5px,#00c0ff 180.5px,#008fff 197.5px,#0080ff 203.5px,#0080ff)"></i><i style="background:linear-gradient(90deg,#0037ff,#0066ff 8.5px,#00a3ff 14.5px,#00f9f8 22.5px,#00ffc3 26.5px,#00ff1c 36.5px,#04ff02 39.5px,#2cff00 47.5px,#a3ff00 59.5px,#baff00 63.5px,#b6ff00 75.5px,#52ff00 100.5px,#01ff00 117.5px,#00ff07 121.5px,#00ff25 130.5px,#00ffea 159.5px,#00feff 164.5px,#00c0ff 180.5px,#008fff 197.5px,#0080ff 203.5px,#0080ff)"></i><i style="background:linear-gradient(90deg,#003dff,#006cff 8.5px,#00aaff 14.5px,#00f8f9 21.5px,#00ffda 24.5px,#00ff15 36.5px,#0aff01 39.5px,#32ff00 47.5px,#a9ff00 59.5px,#bfff00 63.5px,#b9ff00 76.5px,#61ff00 97.5px,#2dff00 108.5px,#00ff00 118.5px,#00ff1c 128.5px,#00ff54 137.5px,#00ffcf 155.5px,#00fffe 163.5px,#00bfff 181.5px,#0080ff 203.5px,#0080ff)"></i><i style="background:linear-gradient(90deg,#0041ff,#0069ff 7.5px,#00a6ff 13.5px,#00f7f9 20.5px,#00ffdd 23.5px,#01ff0e 36.5px,#10ff00 39.5px,#39ff00 47.5px,#a6ff00 58.5px,#c2ff00 62.5px,#bfff00 76.5px,#5eff00 99.5px,#04ff00 117.5px,#00ff09 122.5px,#00ff1f 129.5px,#00ff54 137.5px,#00ffcf 155.5px,#00fffe 163.5px,#00bfff 181.5px,#0080ff 203.5px,#0080ff)"></i><i style="background:linear-gradient(90deg,#0047ff,#0076ff 8.5px,#00f7f9 19.5px,#00ffd0 23.5px,#02ff09 36.5px,#1cff00 40.5px,#42ff00 47.5px,#a4ff00 57.5px,#c8ff00 62.5px,#c5ff00 76.5px,#43ff00 105.5px,#0fff00 115.5px,#00ff00 119.5px,#00ff22 130.5px,#00ffaf 150.5px,#00fffe 163.5px,#00c0ff 181.5px,#0080ff 203.5px,#0080ff)"></i><i style="background:linear-gradient(90deg,#004dff,#0074ff 7.5px,#00a9ff 12.5px,#00f7fa 18.5px,#00ffb8 24.5px,#01ff10 35.5px,#14ff00 38.5px,#53ff00 48.5px,#abff00 57.5px,#cdff00 62.5px,#cbff00 76.5px,#4dff00 104.5px,#11ff00 114.5px,#00ff00 120.5px,#00ff20 130.5px,#00ffcf 155.5px,#00fffe 163.5px,#00bfff 182.5px,#0080ff 202.5px,#0080ff)"></i><i style="background:linear-gradient(90deg,#0055ff,#007cff 7.5px,#00a4ff 11.5px,#00f6fc 17.5px,#00ffc5 22.5px,#00ff44 31.5px,#02ff0c 35.5px,#1aff00 38.5px,#64ff00 49.5px,#abff00 56.5px,#d2ff00 62.5px,#d0ff00 76.5px,#50ff00 104.5px,#12ff00 114.5px,#00ff00 120.5px,#00ff1b 129.5px,#00ff4e 137.5px,#00ffca 154.5px,#00fffe 163.5px,#00bfff 182.5px,#0085ff 200.5px,#0080ff)"></i><i style="background:linear-gradient(90deg,#005dff,#007cff 6.5px,#00acff 11.5px,#00f5fc 16.5px,#00ffde 19.5px,#00ff3c 31.5px,#04ff08 35.5px,#35ff00 41.5px,#6cff00 49.5px,#b3ff00 56.5px,#d8ff00 62.5px,#d6ff00 76.5px,#53ff00 104.5px,#14ff00 114.5px,#00ff00 121.5px,#00ff23 131.5px,#00ff8c 145.5px,#00fffa 162.5px,#00f4ff 166.5px,#00bfff 183.5px,#0080ff 203.5px,#0080ff)"></i><i style="background:linear-gradient(90deg,#0066ff,#0084ff 6.5px,#00b4ff 11.5px,#00f1fc 15.5px,#00ffdf 18.5px,#02ff0d 34.5px,#1bff00 37.5px,#80ff00 50.5px,#baff00 56.5px,#ddff00 62.5px,#dbff00 76.5px,#5cff00 103.5px,#1bff00 113.5px,#00ff00 120.5px,#00ff22 131.5px,#00ffca 154.5px,#00fffe 163.5px,#00cfff 177.5px,#0089ff 200.5px,#0080ff)"></i><i style="background:linear-gradient(90deg,#0071ff,#008cff 6.5px,#00bdff 11.5px,#00f7f7 15.5px,#00ffaa 21.5px,#04ff09 34.5px,#34ff00 39.5px,#80ff00 49.5px,#c1ff00 56.5px,#e1ff00 62.5px,#e0ff00 76.5px,#b5ff00 86.5px,#59ff00 104.5px,#15ff00 114.5px,#00ff00 121.5px,#00ff20 131.5px,#00ffca 154.5px,#00feff 164.5px,#00dfff 172.5px,#009bff 195.5px,#0080ff 203.5px,#0080ff)"></i><i style="background:linear-gradient(90deg,#007bff,#008eff 5.5px,#00baff 10.5px,#00f5f9 14.5px,#00ffc4 18.5px,#00ff49 28.5px,#07ff05 34.5px,#4cff00 41.5px,#93ff00 50.5px,#c8ff00 56.5px,#e8ff00 63.5px,#e5ff00 76.5px,#bfff00 85.5px,#5cff00 104.5px,#1bff00 113.5px,#00ff00 120.5px,#00ff1b 130.5px,#00ff5c 139.5px,#00ffcf 155.5px,#00fefe 164.5px,#00dfff 172.5px,#00a9ff 191.5px,#0080ff 203.5px,#0080ff)"></i><i style="background:linear-gradient(90deg,#0083ff,#0097ff 5.5px,#00d1ff 11.5px,#00faf3 14.5px,#00ff6a 24.5px,#04ff08 33.5px,#3aff00 38.5px,#b0ff00 52.5px,#d4ff00 57.5px,#edff00 63.5px,#ebff00 76.5px,#9fff00 93.5px,#5fff00 104.5px,#20ff00 112.5px,#00ff00 120.5px,#00ff07 124.5px,#00ff25 132.5px,#00ff9d 148.5px,#00ffda 157.5px,#00faff 165.5px,#00dfff 173.5px,#00bfff 184.5px,#0080ff 203.5px,#0080ff)"></i><i style="background:linear-gradient(90deg,#008cff,#00a1ff 5.5px,#00dbff 11.5px,#00f6f7 13.5px,#00ffbd 17.5px,#00ff6a 23.5px,#02ff0c 32.5px,#1dff00 35.5px,#64ff00 42.5px,#d1ff00 55.5px,#efff00 62.5px,#efff00 76.5px,#b4ff00 90.5px,#6bff00 103.5px,#27ff00 111.5px,#01ff00 120.5px,#00ff05 124.5px,#00ff1f 131.5px,#00ff95 147.5px,#00ffdf 158.5px,#00faff 165.5px,#00cfff 179.5px,#0096ff 196.5px,#0080ff)"></i><i style="background:linear-gradient(90deg,#0094ff,#00abff 5.5px,#00e4fe 11.5px,#00faf0 13.5px,#00ff75 21.5px,#00ff2c 28.5px,#05ff07 32.5px,#6cff00 42.5px,#d8ff00 55.5px,#f4ff00 63.5px,#f8ff00 74.5px,#daff00 83.5px,#75ff00 102.5px,#2fff00 110.5px,#01ff00 120.5px,#00ff05 124.5px,#00ff1d 131.5px,#00ff51 138.5px,#00ff8f 146.5px,#00ffea 160.5px,#00faff 165.5px,#00cfff 178.5px,#00abff 191.5px,#0080ff 203.5px,#0080ff)"></i><i style="background:linear-gradient(90deg,#009dff,#00b3ff 5.5px,#00edfd 11.5px,#00fde9 13.5px,#00ff77 20.5px,#00ff34 26.5px,#03ff09 31.5px,#36ff00 36.5px,#8bff00 45.5px,#dfff00 55.5px,#faff00 64.5px,#fbff00 75.5px,#d4ff00 85.5px,#78ff00 102.5px,#30ff00 110.5px,#01ff00 120.5px,#00ff09 125.5px,#00ff1c 131.5px,#00ff50 138.5px,#00ff8e 146.5px,#00ffea 160.5px,#00faff 165.5px,#00cfff 178.5px,#00c4ff 182.5px,#00b4ff 188.5px,#0080ff 203.5px,#0080ff)"></i><i style="background:linear-gradient(90deg,#00a6ff,#00c3ff 6.5px,#00f6fa 11.5px,#00ffce 14.5px,#00ff5f 21.5px,#00ff2a 26.5px,#07ff05 31.5px,#8bff00 44.5px,#e1ff00 54.5px,#fefe00 63.5px,#f9ff00 77.5px,#a5ff00 95.5px,#72ff00 103.5px,#30ff00 110.5px,#01ff00 120.5px,#00ff07 125.5px,#00ff21 132.5px,#00ff4f 138.5px,#00ff81 144.5px,#00ffea 160.5px,#00faff 165.5px,#00cfff 178.5px,#00c4ff 182.5px,#00b4ff 188.5px,#0080ff 203.5px,#0080ff)"></i><i style="background:linear-gradient(90deg,#00b0ff,#00cbff 6.5px,#00f3fc 10.5px,#00fee8 12.5px,#00ff61 20.5px,#00ff1e 26.5px,#06ff06 30.5px,#37ff00 35.5px,#93ff00 44.5px,#e8ff00 54.5px,#fffd00 62.5px,#fdff00 77.5px,#a2ff00 96.5px,#6aff00 104.5px,#31ff00 110.5px,#01ff00 120.5px,#00ff05 125.5px,#00ff25 133.5px,#00ff7f 144.5px,#00ffdf 158.5px,#00faff 165.5px,#00cfff 179.5px,#00bfff 185.5px,#008bff 200.5px,#0080ff)"></i><i style="background:linear-gradient(90deg,#00baff,#00ccff 5.5px,#00f9fa 10.5px,#00ffcc 13.5px,#00ff65 19.5px,#00ff1d 25.5px,#06ff04 29.5px,#32ff00 34.5px,#93ff00 43.5px,#eaff00 53.5px,#fefd00 59.5px,#fff400 69.5px,#fbff00 78.5px,#9eff00 97.5px,#60ff00 105.5px,#25ff00 112.5px,#00ff00 121.5px,#00ff05 125.5px,#00ff25 133.5px,#00ff84 145.5px,#00ffe4 159.5px,#00fbff 165.5px,#00deff 174.5px,#00cfff 179.5px,#00bfff 185.5px,#008bff 200.5px,#0080ff)"></i><i style="background:linear-gradient(90deg,#00bfff,#00dcff 6.5px,#00fdf5 10.5px,#00ff4d 20.5px,#00ff14 25.5px,#0dff01 29.5px,#46ff00 35.5px,#c9ff00 48.5px,#f5ff00 54.5px,#fff400 61.5px,#fff400 72.5px,#f8ff00 79.5px,#9aff00 98.5px,#25ff00 112.5px,#00ff00 121.5px,#00ff05 125.5px,#00ff25 133.5px,#00ffb6 152.5px,#00ffef 161.5px,#00fdff 165.5px,#00dfff 173.5px,#00bfff 185.5px,#008bff 200.5px,#0080ff)"></i><i style="background:linear-gradient(90deg,#00c4ff,#00dcff 5.5px,#00fcf7 9.5px,#00ffcc 12.5px,#00ff54 19.5px,#00ff15 24.5px,#0dff01 28.5px,#42ff00 34.5px,#d2ff00 48.5px,#fbfd00 54.5px,#ffee00 65.5px,#fff600 74.5px,#faff00 79.5px,#93ff00 99.5px,#25ff00 112.5px,#00ff00 121.5px,#00ff05 125.5px,#00ff25 133.5px,#00ffaf 151.5px,#00ffef 161.5px,#00feff 165.5px,#00dfff 173.5px,#00bfff 185.5px,#008bff 200.5px,#0080ff)"></i><i style="background:linear-gradient(90deg,#00cbff,#00e4ff 5.5px,#00fcf8 8.5px,#00ffd3 11.5px,#00ff3c 20.5px,#01ff0d 24.5px,#14ff00 28.5px,#4aff00 34.5px,#dbff00 48.5px,#fcfd00 53.5px,#ffea00 63.5px,#fff300 74.5px,#feff00 78.5px,#a4ff00 96.5px,#6bff00 104.5px,#25ff00 112.5px,#00ff00 121.5px,#00ff05 125.5px,#00ff25 133.5px,#00ffae 151.5px,#00fffa 163.5px,#00f4ff 167.5px,#00dfff 174.5px,#00bfff 185.5px,#008bff 200.5px,#0080ff)"></i><i style="background:linear-gradient(90deg,#00d1ff,#00edfe 5.5px,#00fef2 8.5px,#00ffb9 12.5px,#00ff34 20.5px,#02ff07 24.5px,#3cff00 32.5px,#e3ff00 48.5px,#fdfd00 52.5px,#ffe600 60.5px,#ffeb00 68.5px,#fff600 75.5px,#faff00 79.5px,#90ff00 99.5px,#60ff00 105.5px,#25ff00 112.5px,#00ff00 121.5px,#00ff05 125.5px,#00ff25 133.5px,#00ffad 151.5px,#00fffa 163.5px,#00f4ff 167.5px,#00bfff 185.5px,#008bff 200.5px,#0080ff)"></i><i style="background:linear-gradient(90deg,#00d6ff,#00faf9 6.5px,#00ffdd 9.5px,#00ff2d 20.5px,#06ff03 24.5px,#50ff00 33.5px,#ebff00 48.5px,#fef900 52.5px,#ffe300 58.5px,#ffe300 67.5px,#fff400 75.5px,#faff00 79.5px,#89ff00 100.5px,#4bff00 107.5px,#25ff00 112.5px,#00ff00 121.5px,#00ff07 125.5px,#00ff25 133.5px,#00ffa4 150.5px,#00fffa 163.5px,#00f4ff 167.5px,#00cfff 179.5px,#00bfff 185.5px,#008bff 200.5px,#0080ff)"></i><i style="background:linear-gradient(90deg,#00dcff,#00f9f9 5.5px,#00ffd2 9.5px,#00ff26 20.5px,#04ff05 23.5px,#5aff00 33.5px,#f2fe00 48.5px,#fff200 52.5px,#ffdc00 58.5px,#ffe100 68.5px,#faff00 79.5px,#86ff00 100.5px,#4bff00 107.5px,#30ff00 110.5px,#01ff00 120.5px,#00ff09 125.5px,#00ff1b 131.5px,#00ff64 141.5px,#00ffee 161.5px,#00faff 166.5px,#00cfff 178.5px,#00b4ff 188.5px,#0080ff 203.5px,#0080ff)"></i><i style="background:linear-gradient(90deg,#00e1ff,#00f9fa 4.5px,#00ffba 10.5px,#00ff20 20.5px,#08ff02 23.5px,#64ff00 33.5px,#f9fd00 48.5px,#ffd800 57.5px,#ffd900 65.5px,#faff00 79.5px,#7dff00 101.5px,#30ff00 110.5px,#01ff00 120.5px,#00ff05 124.5px,#00ff21 132.5px,#00ffdb 158.5px,#00fefe 165.5px,#00cfff 178.5px,#00c4ff 182.5px,#00b4ff 188.5px,#0080ff 203.5px,#0080ff)"></i><i style="background:linear-gradient(90deg,#00e7ff,#00fdf6 4.5px,#00ffaf 10.5px,#00ff27 19.5px,#05ff05 22.5px,#6dff00 33.5px,#f8fd00 47.5px,#ffd300 56.5px,#ffd300 65.5px,#feff00 78.5px,#7bff00 101.5px,#30ff00 110.5px,#01ff00 120.5px,#00ff05 124.5px,#00ff23 132.5px,#00ffdf 159.5px,#00faff 166.5px,#00cfff 178.5px,#00c4ff 182.5px,#00abff 191.5px,#0080ff 203.5px,#0080ff)"></i><i style="background:linear-gradient(90deg,#00edff,#00fdf7 3.5px,#00ffb1 9.5px,#00ff14 20.5px,#13ff00 23.5px,#f6fd00 46.5px,#ffe100 51.5px,#ffcb00 58.5px,#ffd100 66.5px,#feff00 78.5px,#71ff00 102.5px,#30ff00 110.5px,#01ff00 120.5px,#00ff05 124.5px,#00ff24 132.5px,#00ff64 141.5px,#00ffea 161.5px,#00fbff 166.5px,#00cfff 178.5px,#00a4ff 192.5px,#0080ff 203.5px,#0080ff)"></i><i style="background:linear-gradient(90deg,#00f3ff,#00fef0 3.5px,#00ff7b 12.5px,#01ff0e 20.5px,#19ff00 23.5px,#ebff00 44.5px,#fef300 47.5px,#ffcc00 54.5px,#ffc400 62.5px,#fff300 75.5px,#faff00 79.5px,#66ff00 103.5px,#30ff00 110.5px,#01ff00 120.5px,#00ff05 124.5px,#00ff25 132.5px,#00ff64 141.5px,#00ffef 162.5px,#00fdff 166.5px,#00cfff 178.5px,#00a4ff 192.5px,#0080ff 203.5px,#0080ff)"></i><i style="background:linear-gradient(90deg,#00f7fe,#00ffe9 3.5px,#02ff09 20.5px,#2bff00 24.5px,#e3ff00 42.5px,#fdf300 46.5px,#ffcd00 52.5px,#ffbf00 59.5px,#ffc500 65.5px,#fefe00 78.5px,#64ff00 103.5px,#24ff00 112.5px,#00ff00 121.5px,#00ff1b 130.5px,#00ff44 137.5px,#00ffea 161.5px,#00feff 166.5px,#00cfff 178.5px,#009bff 195.5px,#0080ff 203.5px,#0080ff)"></i><i style="background:linear-gradient(90deg,#00fcfd,#00ffc8 5.5px,#00ff40 15.5px,#05ff06 20.5px,#9fff00 34.5px,#f9fc00 44.5px,#ffca00 51.5px,#ffbb00 58.5px,#ffc100 65.5px,#fefe00 78.5px,#51ff00 105.5px,#15ff00 115.5px,#00ff01 122.5px,#00ff25 132.5px,#00fff2 163.5px,#00faff 167.5px,#00cfff 178.5px,#009bff 195.5px,#0080ff 203.5px,#0080ff)"></i><i style="background:linear-gradient(90deg,#00fefa,#00ffaf 6.5px,#00ff50 13.5px,#02ff0c 19.5px,#1eff00 22.5px,#c5ff00 37.5px,#f9fd00 43.5px,#ffc900 50.5px,#ffb400 57.5px,#ffba00 64.5px,#fefe00 78.5px,#4eff00 105.5px,#1fff00 113.5px,#00ff00 121.5px,#00ff25 132.5px,#00fff0 163.5px,#00faff 167.5px,#00cfff 178.5px,#0080ff 203.5px,#0080ff)"></i><i style="background:linear-gradient(90deg,#00fff5,#00ffb4 5.5px,#00ff50 12.5px,#04ff07 19.5px,#54ff00 26.5px,#d9ff00 38.5px,#fdf900 43.5px,#ffc100 50.5px,#ffaf00 57.5px,#ffb500 64.5px,#ffed00 74.5px,#faff00 79.5px,#21ff00 112.5px,#00ff00 121.5px,#00ff2b 133.5px,#00ffef 163.5px,#00faff 167.5px,#00cfff 178.5px,#0080ff 203.5px,#0080ff)"></i><i style="background:linear-gradient(90deg,#00ffee,#00ffbb 4.5px,#00ff51 11.5px,#02ff0b 18.5px,#1dff00 21.5px,#cfff00 36.5px,#fdf900 42.5px,#ffbb00 50.5px,#ffab00 57.5px,#ffb600 65.5px,#ffec00 74.5px,#faff00 79.5px,#21ff00 112.5px,#00ff00 121.5px,#00ff2c 133.5px,#00fffa 165.5px,#00cfff 178.5px,#0080ff 203.5px,#0080ff)"></i><i style="background:linear-gradient(90deg,#00ffe9,#00ffa3 5.5px,#00ff47 11.5px,#04ff06 18.5px,#49ff00 24.5px,#d9ff00 36.5px,#fdf900 41.5px,#ffb000 51.5px,#ffa400 58.5px,#ffb300 65.5px,#ffef00 75.5px,#faff00 79.5px,#35ff00 108.5px,#00ff00 121.5px,#00ff27 132.5px,#00fffa 165.5px,#00cfff 178.5px,#0080ff 203.5px,#0080ff)"></i><i style="background:linear-gradient(90deg,#00ffe5,#00ff8b 6.5px,#00ff4a 10.5px,#03ff08 17.5px,#1dff00 20.5px,#e2ff00 36.5px,#fdf900 40.5px,#ffaa00 51.5px,#ffa000 58.5px,#ffaa00 64.5px,#ffef00 75.5px,#faff00 79.5px,#9eff00 92.5px,#25ff00 111.5px,#00ff00 121.5px,#00ff23 131.5px,#00ffbb 155.5px,#00fefe 166.5px,#00cfff 178.5px,#0080ff 203.5px,#0080ff)"></i><i style="background:linear-gradient(90deg,#00ffdd,#00ff82 6.5px,#00ff40 10.5px,#06ff04 17.5px,#3dff00 22.5px,#ebff00 36.5px,#fef300 40.5px,#ffa900 50.5px,#ff9c00 58.5px,#ffa600 64.5px,#fffa00 77.5px,#f3ff00 80.5px,#8fff00 94.5px,#30ff00 109.5px,#00ff00 121.5px,#00ff24 131.5px,#00ffa4 152.5px,#00fffd 166.5px,#00c0ff 182.5px,#0080ff)"></i><i style="background:linear-gradient(90deg,#00ffd5,#00ff79 6.5px,#00ff37 10.5px,#00ff12 14.5px,#0bff02 17.5px,#76ff00 26.5px,#eaff00 35.5px,#fef300 39.5px,#ffa400 50.5px,#ff9600 58.5px,#ffab00 65.5px,#fffa00 77.5px,#f3ff00 80.5px,#86ff00 95.5px,#30ff00 109.5px,#00ff00 121.5px,#00ff25 131.5px,#00ff83 147.5px,#00fffb 166.5px,#00c0ff 182.5px,#0080ff)"></i><i style="background:linear-gradient(90deg,#00ffce,#00ff71 6.5px,#00ff21 11.5px,#03ff06 15.5px,#26ff00 19.5px,#f2fe00 35.5px,#ffeb00 39.5px,#ffa000 50.5px,#ff9200 58.5px,#ffa900 65.5px,#fefe00 78.5px,#80ff00 96.5px,#40ff00 106.5px,#0fff00 117.5px,#00ff00 121.5px,#00ff25 131.5px,#00ff82 147.5px,#00fffa 166.5px,#00bfff 182.5px,#009fff 193.5px,#0080ff)"></i><i style="background:linear-gradient(90deg,#00ffc8,#00ff56 7.5px,#00ff17 11.5px,#04ff04 14.5px,#17ff00 17.5px,#bbff00 30.5px,#f7fd00 35.5px,#ffd300 42.5px,#ff9c00 50.5px,#ff9000 57.5px,#ff9e00 63.5px,#fefe00 78.5px,#80ff00 96.5px,#40ff00 106.5px,#0fff00 117.5px,#00ff00 121.5px,#00ff35 134.5px,#00ffbc 156.5px,#00fefe 167.5px,#00bfff 182.5px,#009fff 193.5px,#0080ff)"></i><i style="background:linear-gradient(90deg,#00ffc2,#01ff0f 11.5px,#0aff01 14.5px,#2bff00 18.5px,#f3fe00 34.5px,#ffe500 38.5px,#ff9600 50.5px,#ff9000 60.5px,#ffb400 67.5px,#fefe00 78.5px,#80ff00 96.5px,#40ff00 106.5px,#0fff00 117.5px,#00ff00 121.5px,#00ff35 134.5px,#00ffb4 155.5px,#00fffa 166.5px,#00bfff 182.5px,#009fff 193.5px,#0080ff)"></i><i style="background:linear-gradient(90deg,#00ffbb,#01ff15 10.5px,#06ff03 12.5px,#2aff00 17.5px,#aeff00 28.5px,#f0fe00 33.5px,#ffef00 36.5px,#ff9200 50.5px,#ff9300 62.5px,#fefd00 78.5px,#80ff00 96.5px,#40ff00 106.5px,#0fff00 117.5px,#00ff00 121.5px,#00ff25 131.5px,#00ff8b 149.5px,#00fffa 166.5px,#00c0ff 182.5px,#009fff 193.5px,#008fff 199.5px,#0080ff)"></i><i style="background:linear-gradient(90deg,#00ffb2,#02ff0e 10.5px,#14ff00 13.5px,#53ff00 20.5px,#f6fd00 33.5px,#ffda00 38.5px,#ff9200 49.5px,#ff8e00 58.5px,#ff9600 63.5px,#fefb00 78.5px,#44ff00 105.5px,#11ff00 116.5px,#00ff01 122.5px,#00ff2b 132.5px,#00ff9d 152.5px,#00fefe 167.5px,#00c0ff 182.5px,#009fff 193.5px,#008fff 199.5px,#0080ff)"></i><i style="background:linear-gradient(90deg,#00ffa8,#00ff37 7.5px,#04ff09 10.5px,#2bff00 15.5px,#69ff00 21.5px,#fafa00 33.5px,#ffa600 45.5px,#ff8f00 50.5px,#ff8600 57.5px,#ff9b00 64.5px,#fefa00 78.5px,#44ff00 105.5px,#11ff00 116.5px,#00ff01 122.5px,#00ff37 135.5px,#00ffb2 155.5px,#00fefe 167.5px,#00c0ff 182.5px,#008fff 199.5px,#0080ff)"></i><i style="background:linear-gradient(90deg,#00ff9e,#00ff30 7.5px,#07ff05 10.5px,#66ff00 20.5px,#f7fc00 32.5px,#ffd400 37.5px,#ff8e00 49.5px,#ff8200 57.5px,#ffa100 65.5px,#fafe00 79.5px,#44ff00 105.5px,#11ff00 116.5px,#00ff01 122.5px,#00ff35 135.5px,#00ffc3 158.5px,#00fefd 167.5px,#00bfff 183.5px,#008fff 199.5px,#0080ff)"></i><i style="background:linear-gradient(90deg,#00ff96,#00ff29 7.5px,#04ff0a 9.5px,#2bff00 13.5px,#70ff00 20.5px,#f3fd00 31.5px,#ffe600 34.5px,#ffaf00 42.5px,#ff8400 51.5px,#ff8200 58.5px,#ffa500 66.5px,#fefa00 78.5px,#40ff00 106.5px,#0fff00 117.5px,#00ff00 121.5px,#00ff2b 133.5px,#00ffa3 153.5px,#00fffb 167.5px,#00bfff 183.5px,#008fff 199.5px,#0080ff)"></i><i style="background:linear-gradient(90deg,#00ff8e,#02ff12 8.5px,#11ff01 10.5px,#90ff00 22.5px,#f8fb00 31.5px,#ffba00 39.5px,#ff8000 51.5px,#ff8400 59.5px,#ffab00 67.5px,#fbfe00 79.5px,#45ff00 105.5px,#11ff00 116.5px,#00ff01 122.5px,#00ff34 135.5px,#00ffbb 157.5px,#00fefe 168.5px,#00c0ff 182.5px,#008fff 199.5px,#0080ff)"></i><i style="background:linear-gradient(90deg,#00ff86,#04ff0e 8.5px,#23ff00 11.5px,#deff00 28.5px,#fcf800 31.5px,#ffb500 39.5px,#ff8000 50.5px,#ff8200 59.5px,#ffa400 66.5px,#fdfd00 79.5px,#45ff00 105.5px,#11ff00 116.5px,#00ff00 122.5px,#00ff24 132.5px,#00ff93 151.5px,#00fffa 167.5px,#00c0ff 183.5px,#0090ff 198.5px,#0084ff 202.5px,#0080ff)"></i><i style="background:linear-gradient(90deg,#00ff7e,#06ff09 8.5px,#41ff00 13.5px,#fafa00 30.5px,#ffb500 38.5px,#ff8100 49.5px,#ff8400 60.5px,#ffa300 66.5px,#fafe00 80.5px,#40ff00 106.5px,#11ff00 116.5px,#00ff00 122.5px,#00ff23 132.5px,#00ff92 151.5px,#00fffa 167.5px,#00afff 188.5px,#008fff 199.5px,#0080ff)"></i><i style="background:linear-gradient(90deg,#00ff75,#02ff0e 7.5px,#24ff00 10.5px,#d9ff00 26.5px,#fdf600 30.5px,#ffb500 37.5px,#ff8200 48.5px,#ff8300 60.5px,#ffa300 66.5px,#fafe00 80.5px,#3bff00 107.5px,#11ff00 116.5px,#00ff01 123.5px,#00ff35 136.5px,#00ffbb 157.5px,#00fefe 168.5px,#00c0ff 183.5px,#008fff 199.5px,#0080ff)"></i><i style="background:linear-gradient(90deg,#00ff6b,#04ff09 7.5px,#39ff00 11.5px,#d9ff00 25.5px,#fbf900 29.5px,#ffb000 37.5px,#ff8000 48.5px,#ff8000 59.5px,#ffa200 66.5px,#fbfe00 80.5px,#3bff00 107.5px,#11ff00 116.5px,#00ff01 123.5px,#00ff30 135.5px,#00ffab 155.5px,#00fefe 168.5px,#00b0ff 188.5px,#008fff 199.5px,#0080ff)"></i><i style="background:linear-gradient(90deg,#00ff61,#00ff1f 5.5px,#06ff06 7.5px,#96ff00 18.5px,#ebff00 26.5px,#fdf400 29.5px,#ffaa00 37.5px,#ff8000 47.5px,#ff7700 56.5px,#ff9400 64.5px,#fdfd00 80.5px,#3bff00 107.5px,#11ff00 116.5px,#00ff01 123.5px,#00ff29 134.5px,#00ff9c 153.5px,#00fefe 168.5px,#00a1ff 192.5px,#008bff 201.5px,#0080ff)"></i><i style="background:linear-gradient(90deg,#00ff57,#02ff0d 6.5px,#25ff00 9.5px,#c4ff00 21.5px,#f9fc00 27.5px,#ffa500 37.5px,#ff7f00 47.5px,#ff7200 56.5px,#ffa500 67.5px,#fafe00 81.5px,#3bff00 107.5px,#11ff00 116.5px,#00ff00 123.5px,#00ff27 134.5px,#00ffc3 159.5px,#00fffd 168.5px,#00a0ff 193.5px,#0080ff)"></i><i style="background:linear-gradient(90deg,#00ff4e,#05ff09 6.5px,#4bff00 11.5px,#d9ff00 22.5px,#fdf900 27.5px,#ffa000 37.5px,#ff7e00 46.5px,#ff7000 55.5px,#ff9400 64.5px,#fbfe00 81.5px,#35ff00 108.5px,#10ff00 117.5px,#00ff00 123.5px,#00ff25 134.5px,#00ffc3 159.5px,#00fffb 168.5px,#00a0ff 193.5px,#0080ff)"></i><i style="background:linear-gradient(90deg,#00ff46,#02ff0e 5.5px,#24ff00 8.5px,#d8ff00 21.5px,#fdf900 26.5px,#ff9c00 37.5px,#ff7600 47.5px,#ff7200 57.5px,#ffb200 69.5px,#fdfd00 81.5px,#35ff00 108.5px,#10ff00 117.5px,#00ff00 123.5px,#00ff20 133.5px,#00ff73 147.5px,#00fffa 168.5px,#00afff 189.5px,#008fff 200.5px,#0080ff)"></i><i style="background:linear-gradient(90deg,#00ff3c,#05ff08 5.5px,#3bff00 9.5px,#e1ff00 21.5px,#fdf900 25.5px,#ff9f00 36.5px,#ff7600 45.5px,#ff7100 57.5px,#ffb000 69.5px,#fafe00 82.5px,#52ff00 104.5px,#21ff00 112.5px,#00ff00 123.5px,#00ff1b 132.5px,#00ff6c 146.5px,#00fffa 168.5px,#009fff 194.5px,#008fff 200.5px,#0080ff)"></i><i style="background:linear-gradient(90deg,#00ff31,#09ff05 5.5px,#ddff00 20.5px,#f9fd00 23.5px,#ffd500 29.5px,#ff9a00 36.5px,#ff7200 45.5px,#ff7300 58.5px,#ffb400 70.5px,#fbfe00 82.5px,#5bff00 103.5px,#25ff00 111.5px,#00ff00 123.5px,#00ff1b 132.5px,#00ff64 145.5px,#00fffa 168.5px,#009fff 194.5px,#008fff 200.5px,#0080ff)"></i><i style="background:linear-gradient(90deg,#00ff29,#05ff07 4.5px,#45ff00 9.5px,#d9ff00 19.5px,#f8fd00 22.5px,#ffd800 28.5px,#ff9500 36.5px,#ff7000 44.5px,#ff7200 58.5px,#ffc600 73.5px,#fdfe00 82.5px,#35ff00 108.5px,#10ff00 117.5px,#00ff00 124.5px,#00ff25 135.5px,#00fefe 169.5px,#009fff 194.5px,#008fff 200.5px,#0080ff)"></i><i style="background:linear-gradient(90deg,#00ff22,#09ff03 4.5px,#5cff00 10.5px,#ecff00 20.5px,#fef400 23.5px,#ffb900 31.5px,#ff8500 38.5px,#ff6e00 44.5px,#ff7100 58.5px,#ffcb00 74.5px,#faff00 83.5px,#30ff00 109.5px,#10ff00 118.5px,#00ff00 124.5px,#00ff20 134.5px,#00ffab 156.5px,#00fffe 169.5px,#009fff 194.5px,#008fff 200.5px,#0080ff)"></i><i style="background:linear-gradient(90deg,#00ff1c,#05ff05 3.5px,#44ff00 8.5px,#f3fe00 20.5px,#ffef00 23.5px,#ff8000 38.5px,#ff6500 46.5px,#ff6a00 56.5px,#ff9900 66.5px,#fafe00 83.5px,#30ff00 109.5px,#10ff00 118.5px,#00ff00 124.5px,#00ff1b 133.5px,#00ff63 145.5px,#00fffd 169.5px,#009fff 194.5px,#0081ff)"></i><i style="background:linear-gradient(90deg,#00ff17,#09ff02 3.5px,#5cff00 9.5px,#eeff00 19.5px,#fff100 22.5px,#ffa600 32.5px,#ff6e00 41.5px,#ff6100 48.5px,#ff6500 56.5px,#ffbb00 72.5px,#fafe00 83.5px,#30ff00 109.5px,#10ff00 118.5px,#00ff00 124.5px,#00ff1b 133.5px,#00ff54 143.5px,#00fff6 168.5px,#00f4ff 172.5px,#009fff 195.5px,#0082ff)"></i><i style="background:linear-gradient(90deg,#00ff11,#0fff01 3.5px,#64ff00 9.5px,#f3fe00 19.5px,#ffec00 22.5px,#ffa300 32.5px,#ff6a00 41.5px,#ff5f00 47.5px,#ff6600 57.5px,#ffcc00 75.5px,#fbfd00 83.5px,#adff00 93.5px,#31ff00 109.5px,#20ff00 113.5px,#00ff00 124.5px,#00ff0b 128.5px,#00ff27 136.5px,#00fffa 169.5px,#009fff 195.5px,#0083ff)"></i><i style="background:linear-gradient(90deg,#01ff0a,#16ff00 3.5px,#6cff00 9.5px,#eefe00 18.5px,#ffef00 21.5px,#ff9f00 32.5px,#ff6a00 40.5px,#ff5b00 45.5px,#ff6400 57.5px,#ffe300 79.5px,#f8fe00 84.5px,#3fff00 107.5px,#20ff00 113.5px,#00ff00 124.5px,#00ff0b 128.5px,#00ff25 136.5px,#00fffa 169.5px,#009fff 195.5px,#008fff 201.5px,#0084ff)"></i><i style="background:linear-gradient(90deg,#02ff04,#29ff00 4.5px,#f3fd00 18.5px,#ffea00 21.5px,#ff9400 33.5px,#ff5900 43.5px,#ff5e00 55.5px,#ff8100 63.5px,#fafe00 84.5px,#46ff00 106.5px,#20ff00 113.5px,#00ff00 124.5px,#00ff1c 134.5px,#00ff5d 145.5px,#00fffa 169.5px,#009fff 195.5px,#008fff 201.5px,#0084ff)"></i><i style="background:linear-gradient(90deg,#05ff01,#3dff00 5.5px,#eefe00 17.5px,#ffed00 20.5px,#ff5700 42.5px,#ff5400 48.5px,#ff5a00 55.5px,#ff8400 64.5px,#fafe00 84.5px,#42ff00 107.5px,#1fff00 114.5px,#10ff00 119.5px,#00ff00 125.5px,#00ff1b 134.5px,#00ff64 146.5px,#00fff8 169.5px,#00e0ff 178.5px,#009fff 195.5px,#008fff 201.5px,#0085ff)"></i><i style="background:linear-gradient(90deg,#09ff00,#54ff00 6.5px,#e8ff00 16.5px,#fef100 19.5px,#ff5400 42.5px,#ff5200 54.5px,#ff8900 65.5px,#fafe00 84.5px,#35ff00 109.5px,#10ff00 118.5px,#00ff00 125.5px,#00ff1b 134.5px,#00ff5c 145.5px,#00fff6 169.5px,#00f0ff 174.5px,#009fff 196.5px,#008fff 201.5px,#0088ff)"></i><i style="background:linear-gradient(90deg,#0fff00,#4cff00 5.5px,#e2ff00 15.5px,#fdf400 18.5px,#ff5100 42.5px,#ff4f00 53.5px,#ff6900 60.5px,#fff100 82.5px,#f5ff00 85.5px,#30ff00 110.5px,#10ff00 118.5px,#00ff00 125.5px,#00ff0b 129.5px,#00ff27 137.5px,#00ffef 168.5px,#00faff 172.5px,#009fff 196.5px,#008fff 202.5px,#008cff)"></i><i style="background:linear-gradient(90deg,#14ff00,#54ff00 5.5px,#e8ff00 15.5px,#feef00 18.5px,#ffb200 27.5px,#ff4c00 42.5px,#ff4600 46.5px,#ff5200 56.5px,#ffe600 81.5px,#f8fe00 85.5px,#30ff00 110.5px,#10ff00 119.5px,#00ff00 125.5px,#00ff0b 129.5px,#00ff25 137.5px,#00fffa 170.5px,#009fff 196.5px,#008fff 202.5px,#008fff)"></i><i style="background:linear-gradient(90deg,#1aff00,#5cff00 5.5px,#e2ff00 14.5px,#fdf300 17.5px,#ffc000 24.5px,#ff4700 42.5px,#ff4500 52.5px,#ff5900 58.5px,#ffec00 82.5px,#fafe00 85.5px,#35ff00 109.5px,#11ff00 118.5px,#00ff00 125.5px,#00ff1c 135.5px,#00ff4b 143.5px,#00fffa 170.5px,#009fff 196.5px,#008fff 202.5px,#008fff)"></i><i style="background:linear-gradient(90deg,#21ff00,#54ff00 4.5px,#dbff00 13.5px,#fbf800 16.5px,#ffbc00 24.5px,#ff6600 37.5px,#ff4200 42.5px,#ff4600 55.5px,#ffe300 81.5px,#fafe00 85.5px,#37ff00 109.5px,#11ff00 118.5px,#00ff00 126.5px,#00ff1b 135.5px,#00ff64 147.5px,#00ffee 168.5px,#00f8ff 173.5px,#009fff 197.5px,#008fff 202.5px,#008fff)"></i><i style="background:linear-gradient(90deg,#25ff00,#6bff00 5.5px,#d5ff00 12.5px,#f7fb00 15.5px,#ffca00 21.5px,#ff8600 32.5px,#ff3f00 42.5px,#ff4200 55.5px,#ffe100 81.5px,#fafe00 85.5px,#3fff00 108.5px,#11ff00 118.5px,#04ff00 123.5px,#00ff05 129.5px,#00ff29 138.5px,#00ffec 168.5px,#00faff 173.5px,#009fff 197.5px,#008fff 203.5px,#008fff)"></i><i style="background:linear-gradient(90deg,#2aff00,#81ff00 6.5px,#dcff00 12.5px,#fbf800 15.5px,#ffba00 23.5px,#ff7c00 33.5px,#ff3700 43.5px,#ff4400 56.5px,#ffe600 82.5px,#fafd00 85.5px,#41ff00 108.5px,#11ff00 118.5px,#0bff00 122.5px,#00ff00 126.5px,#00ff0b 130.5px,#00ff27 138.5px,#00ffeb 168.5px,#00faff 173.5px,#009fff 197.5px,#008fff 203.5px,#008fff)"></i><i style="background:linear-gradient(90deg,#31ff00,#75ff00 5.5px,#c9ff00 10.5px,#f8fb00 14.5px,#ffc900 20.5px,#ff7200 34.5px,#ff3300 43.5px,#ff3a00 54.5px,#ff8400 67.5px,#ffe400 82.5px,#f5fe00 86.5px,#42ff00 108.5px,#1fff00 115.5px,#10ff00 119.5px,#05ff00 123.5px,#00ff05 129.5px,#00ff2c 139.5px,#00ffea 168.5px,#00faff 173.5px,#009fff 197.5px,#008fff 203.5px,#008fff)"></i><i style="background:linear-gradient(90deg,#36ff00,#8dff00 6.5px,#cfff00 10.5px,#fbf800 14.5px,#ffb900 22.5px,#ff7000 34.5px,#ff3100 43.5px,#ff3600 54.5px,#ffd300 80.5px,#f8fe00 86.5px,#35ff00 110.5px,#10ff00 119.5px,#00ff00 126.5px,#00ff0b 130.5px,#00ff20 137.5px,#00fffa 171.5px,#0090ff 202.5px,#008fff)"></i><i style="background:linear-gradient(90deg,#3aff00,#a6ff00 7.5px,#e2ff00 11.5px,#fdf300 14.5px,#ffba00 21.5px,#ff7400 33.5px,#ff3200 42.5px,#ff3200 54.5px,#ffd100 80.5px,#fafe00 86.5px,#35ff00 110.5px,#10ff00 119.5px,#00ff00 126.5px,#00ff1b 136.5px,#00ff4c 144.5px,#00fffa 171.5px,#00daff 182.5px,#009fff 198.5px,#008fff 203.5px,#008fff)"></i><i style="background:linear-gradient(90deg,#41ff00,#adff00 7.5px,#f3fd00 12.5px,#ffe500 15.5px,#ffb600 21.5px,#ff7900 32.5px,#ff2f00 42.5px,#ff2f00 54.5px,#ffd600 81.5px,#fafe00 86.5px,#37ff00 110.5px,#11ff00 119.5px,#00ff00 126.5px,#00ff07 130.5px,#00ff24 138.5px,#00ffee 169.5px,#00faff 174.5px,#00afff 193.5px,#008fff 203.5px,#008fff)"></i><i style="background:linear-gradient(90deg,#46ff00,#a3ff00 6.5px,#eefe00 11.5px,#ffea00 14.5px,#ffb300 21.5px,#ff6e00 33.5px,#ff2b00 42.5px,#ff2500 52.5px,#ff5600 61.5px,#ffd400 81.5px,#fafe00 86.5px,#3fff00 109.5px,#11ff00 119.5px,#00ff00 126.5px,#00ff05 130.5px,#00ff29 139.5px,#00ffec 169.5px,#00faff 174.5px,#009fff 198.5px,#008fff)"></i><i style="background:linear-gradient(90deg,#4aff00,#86ff00 4.5px,#e8ff00 10.5px,#fef000 13.5px,#ffb600 20.5px,#ff6b00 33.5px,#ff2300 43.5px,#ff2400 53.5px,#ffcb00 80.5px,#fafd00 86.5px,#7fff00 101.5px,#3bff00 110.5px,#11ff00 119.5px,#00ff00 127.5px,#00ff0b 131.5px,#00ff27 139.5px,#00ffdf 167.5px,#00faff 174.5px,#009fff 198.5px,#008fff)"></i><i style="background:linear-gradient(90deg,#51ff00,#edff00 10.5px,#ffed00 13.5px,#ffb900 19.5px,#ff6100 34.5px,#ff2100 43.5px,#ff2200 53.5px,#ffc300 79.5px,#fbfb00 86.5px,#93ff00 99.5px,#42ff00 109.5px,#1fff00 116.5px,#10ff00 121.5px,#00ff00 127.5px,#00ff0b 131.5px,#00ff25 139.5px,#00ffa0 157.5px,#00fffa 172.5px,#009fff 198.5px,#008fff)"></i><i style="background:linear-gradient(90deg,#57ff00,#f1fe00 10.5px,#ffea00 13.5px,#ffaf00 20.5px,#ff5e00 34.5px,#ff2200 42.5px,#ff2400 54.5px,#ffa000 74.5px,#ffeb00 84.5px,#f8fe00 87.5px,#82ff00 101.5px,#30ff00 112.5px,#10ff00 120.5px,#00ff00 127.5px,#00ff0b 131.5px,#00ff1c 137.5px,#00ff6c 149.5px,#00ffef 170.5px,#00fbff 174.5px,#00cfff 185.5px,#009fff 198.5px,#008fff)"></i><i style="background:linear-gradient(90deg,#5cff00,#f6fd00 10.5px,#ffdc00 14.5px,#ffa100 22.5px,#ff4600 37.5px,#ff2100 42.5px,#ff2200 54.5px,#ff9f00 74.5px,#ffcf00 81.5px,#fafe00 87.5px,#35ff00 111.5px,#10ff00 120.5px,#00ff00 127.5px,#00ff0b 131.5px,#00ff1b 137.5px,#00ff64 148.5px,#00ffef 170.5px,#00fdff 174.5px,#00cfff 185.5px,#009fff 198.5px,#008fff)"></i><i style="background:linear-gradient(90deg,#62ff00,#eefe00 9.5px,#fef500 11.5px,#ffa900 20.5px,#ff3b00 38.5px,#ff2000 42.5px,#ff2500 55.5px,#ffaa00 76.5px,#ffd600 82.5px,#fafe00 87.5px,#7dff00 102.5px,#31ff00 112.5px,#10ff00 121.5px,#00ff00 127.5px,#00ff0b 131.5px,#00ff1b 137.5px,#00ff64 148.5px,#00fffe 173.5px,#009fff 198.5px,#008fff)"></i><i style="background:linear-gradient(90deg,#67ff00,#e5ff00 8.5px,#fef200 11.5px,#ffa600 20.5px,#ff3900 38.5px,#ff1d00 42.5px,#ff1f00 54.5px,#ffae00 77.5px,#fafe00 87.5px,#89ff00 101.5px,#39ff00 111.5px,#11ff00 120.5px,#00ff00 127.5px,#00ff0b 131.5px,#00ff1b 137.5px,#00ff64 148.5px,#00fffd 173.5px,#009fff 198.5px,#008fff)"></i><i style="background:linear-gradient(90deg,#6cff00,#ebff00 8.5px,#ffee00 11.5px,#ffa300 20.5px,#ff2d00 39.5px,#ff1500 43.5px,#ff1800 53.5px,#ff9000 72.5px,#ffd300 82.5px,#fbfd00 87.5px,#9dff00 99.5px,#41ff00 110.5px,#11ff00 120.5px,#00ff00 127.5px,#00ff0b 131.5px,#00ff1b 137.5px,#00ff5c 147.5px,#00ffec 170.5px,#00faff 175.5px,#009fff 198.5px,#0090ff)"></i><i style="background:linear-gradient(90deg,#72ff00,#eefe00 8.5px,#fef400 10.5px,#ffa600 19.5px,#ff2300 40.5px,#ff1100 44.5px,#ff1400 53.5px,#ff9a00 74.5px,#ffe400 84.5px,#f8fe00 88.5px,#8dff00 101.5px,#35ff00 112.5px,#10ff00 121.5px,#00ff00 127.5px,#00ff0b 131.5px,#00ff1b 137.5px,#00ff4c 145.5px,#00ffcf 165.5px,#00fefe 174.5px,#009fff 198.5px,#0094ff 202.5px,#0090ff)"></i><i style="background:linear-gradient(90deg,#77ff00,#e5ff00 7.5px,#fef000 10.5px,#ffa400 19.5px,#ff1100 43.5px,#ff1200 53.5px,#ff9300 73.5px,#ffdb00 83.5px,#fafe00 88.5px,#7dff00 103.5px,#30ff00 113.5px,#10ff00 121.5px,#00ff00 127.5px,#00ff0b 131.5px,#00ff1b 137.5px,#00ff4c 145.5px,#00ffda 167.5px,#00faff 175.5px,#009fff 198.5px,#0094ff 202.5px,#0090ff)"></i><i style="background:linear-gradient(90deg,#7cff00,#ebff00 7.5px,#ffed00 10.5px,#ffaf00 17.5px,#ff1200 42.5px,#ff1500 54.5px,#ff8c00 72.5px,#ffc600 81.5px,#fafe00 88.5px,#7fff00 103.5px,#31ff00 113.5px,#00ff00 126.5px,#00ff05 130.5px,#00ff10 134.5px,#00ff35 142.5px,#00ffaf 160.5px,#00fefe 174.5px,#009fff 198.5px,#0094ff 202.5px,#0090ff)"></i><i style="background:linear-gradient(90deg,#82ff00,#effe00 7.5px,#ffea00 10.5px,#ffa600 18.5px,#ff1100 42.5px,#ff1400 54.5px,#ff9000 73.5px,#ffc400 81.5px,#fbfd00 88.5px,#9dff00 100.5px,#39ff00 112.5px,#0fff00 122.5px,#00ff00 127.5px,#00ff1b 137.5px,#00ff4c 145.5px,#00ffbf 163.5px,#00fefe 174.5px,#009fff 198.5px,#0090ff)"></i><i style="background:linear-gradient(90deg,#87ff00,#e8ff00 6.5px,#fef000 9.5px,#ffa400 18.5px,#ff1200 41.5px,#ff1200 54.5px,#ff8f00 73.5px,#ffcc00 82.5px,#fdfb00 88.5px,#a9ff00 99.5px,#34ff00 113.5px,#00ff00 126.5px,#00ff07 131.5px,#00ff25 139.5px,#00ffea 170.5px,#00faff 175.5px,#009fff 198.5px,#0090ff)"></i><i style="background:linear-gradient(90deg,#8cff00,#edff00 6.5px,#ffed00 9.5px,#ffaf00 16.5px,#ff1500 40.5px,#ff1100 54.5px,#ff9a00 75.5px,#fafe00 89.5px,#90ff00 102.5px,#30ff00 114.5px,#01ff00 126.5px,#00ff05 131.5px,#00ff25 139.5px,#00ffef 171.5px,#00fbff 175.5px,#009fff 198.5px,#0099ff 202.5px,#0090ff)"></i><i style="background:linear-gradient(90deg,#92ff00,#f1fe00 6.5px,#ffea00 9.5px,#ff9f00 18.5px,#ff2b00 36.5px,#ff0e00 42.5px,#ff1500 55.5px,#ff9200 74.5px,#fbfe00 89.5px,#9cff00 101.5px,#37ff00 113.5px,#10ff00 122.5px,#00ff00 128.5px,#00ff0b 132.5px,#00ff20 138.5px,#00ff73 151.5px,#00fffe 174.5px,#009fff 198.5px,#009aff 202.5px,#0090ff)"></i><i style="background:linear-gradient(90deg,#97ff00,#eaff00 5.5px,#fdf800 7.5px,#ff8f00 20.5px,#ff2700 36.5px,#ff0900 43.5px,#ff1400 55.5px,#ff8000 71.5px,#ffc300 81.5px,#fdfd00 89.5px,#9fff00 101.5px,#39ff00 113.5px,#10ff00 122.5px,#00ff00 128.5px,#00ff0b 132.5px,#00ff23 139.5px,#00ffcf 166.5px,#00fffe 174.5px,#009fff 198.5px,#009bff 202.5px,#0090ff)"></i><i style="background:linear-gradient(90deg,#9cff00,#effe00 5.5px,#ffec00 8.5px,#ff7f00 22.5px,#ff2900 35.5px,#ff0400 43.5px,#ff0b00 53.5px,#ff2c00 59.5px,#ff7900 70.5px,#ffb300 79.5px,#fefb00 89.5px,#abff00 100.5px,#3bff00 113.5px,#10ff00 122.5px,#00ff00 128.5px,#00ff0b 132.5px,#00ff27 140.5px,#00ffb9 162.5px,#00feff 175.5px,#00b0ff 193.5px,#009fff 199.5px,#0095ff 203.5px,#0091ff)"></i><i style="background:linear-gradient(90deg,#a2ff00,#f3fe00 5.5px,#ffe900 8.5px,#ff8400 21.5px,#ff2b00 34.5px,#ff0100 43.5px,#ff0700 53.5px,#ff3300 60.5px,#ff8f00 74.5px,#fbfe00 90.5px,#9cff00 102.5px,#35ff00 114.5px,#10ff00 122.5px,#00ff00 128.5px,#00ff0b 132.5px,#00ff25 140.5px,#00ff9f 158.5px,#00fefe 175.5px,#00b0ff 193.5px,#009fff 199.5px,#0092ff)"></i><i style="background:linear-gradient(90deg,#a7ff00,#edff00 4.5px,#ffef00 7.5px,#ff9200 19.5px,#ff3000 32.5px,#ff0000 43.5px,#ff0500 53.5px,#ffdc00 85.5px,#fdfd00 90.5px,#9fff00 102.5px,#3dff00 113.5px,#11ff00 122.5px,#00ff00 128.5px,#00ff0b 132.5px,#00ff25 140.5px,#00ff9f 158.5px,#00fefe 175.5px,#00afff 193.5px,#009fff 199.5px,#0094ff)"></i><i style="background:linear-gradient(90deg,#acff00,#f1fe00 4.5px,#ffea00 7.5px,#ff2d00 32.5px,#ff0100 42.5px,#ff0400 53.5px,#ff4600 63.5px,#ffd300 84.5px,#fafe00 91.5px,#90ff00 104.5px,#40ff00 113.5px,#11ff00 122.5px,#00ff00 128.5px,#00ff0b 132.5px,#00ff25 140.5px,#00ff9e 158.5px,#00fefe 175.5px,#00afff 193.5px,#009fff 199.5px,#0097ff)"></i><i style="background:linear-gradient(90deg,#b2ff00,#f6fd00 4.5px,#ffde00 8.5px,#ff5300 26.5px,#ff1a00 35.5px,#ff0000 42.5px,#ff0200 53.5px,#ff3400 61.5px,#ff7a00 71.5px,#ffcb00 83.5px,#fbfe00 91.5px,#9dff00 103.5px,#42ff00 113.5px,#11ff00 122.5px,#00ff00 128.5px,#00ff0b 132.5px,#00ff25 140.5px,#00ff8b 155.5px,#00ffef 172.5px,#00faff 176.5px,#00afff 193.5px,#009fff 199.5px,#009cff)"></i><i style="background:linear-gradient(90deg,#b7ff00,#f9fb00 4.5px,#ffab00 15.5px,#ff2b00 31.5px,#ff0000 41.5px,#ff0500 54.5px,#ff4400 63.5px,#fdfd00 91.5px,#98ff00 104.5px,#43ff00 113.5px,#0fff00 123.5px,#00ff00 127.5px,#00ff05 131.5px,#00ff2c 141.5px,#00ff8b 155.5px,#00fffa 174.5px,#00afff 193.5px,#009fff 199.5px,#009fff)"></i><i style="background:linear-gradient(90deg,#bcff00,#f1fd00 3.5px,#feef00 5.5px,#ff7200 22.5px,#ff3300 29.5px,#ff0200 39.5px,#ff0500 54.5px,#ff3c00 62.5px,#ff7100 70.5px,#fafe00 92.5px,#91ff00 105.5px,#44ff00 113.5px,#0fff00 123.5px,#00ff00 127.5px,#00ff05 131.5px,#00ff2c 141.5px,#00ff8b 155.5px,#00fefe 175.5px,#00afff 193.5px,#009fff 199.5px,#009fff)"></i><i style="background:linear-gradient(90deg,#c2ff00,#f5fb00 3.5px,#ffdd00 7.5px,#ff8300 20.5px,#ff3700 28.5px,#ff1000 35.5px,#ff0000 40.5px,#ff0500 54.5px,#ff3c00 62.5px,#ff6b00 69.5px,#fafe00 92.5px,#9eff00 104.5px,#44ff00 113.5px,#11ff00 122.5px,#00ff00 128.5px,#00ff0b 132.5px,#00ff25 140.5px,#00ff8b 155.5px,#00fefe 175.5px,#00afff 193.5px,#009fff 199.5px,#009fff)"></i><b class="mk" style="left:0;top:0px;width:37.5px;height:18px"></b><b class="mk" style="left:0;top:18px;width:28px;height:18px"></b><b class="mk" style="left:0;top:36px;width:19.5px;height:17.5px"></b><b class="mk" style="left:0;top:53.5px;width:10px;height:17.5px"></b><span class="lab">(d)</span></div><div class="fr"></div><b class="xt mn" style="left:31px"></b><b class="xt" style="left:53.67px"></b><span class="xl" style="left:54.17px">400</span><b class="xt mn" style="left:76.33px"></b><b class="xt" style="left:99px"></b><span class="xl" style="left:99.5px">450</span><b class="xt mn" style="left:121.67px"></b><b class="xt" style="left:144.33px"></b><span class="xl" style="left:144.83px">500</span><b class="xt mn" style="left:167px"></b><b class="xt" style="left:189.67px"></b><span class="xl" style="left:190.17px">550</span><b class="xt mn" style="left:212.33px"></b><b class="xt" style="left:235px"></b><span class="xl" style="left:235.5px">600</span><b class="yt mn" style="top:172px"></b><b class="yt" style="top:154.33px"></b><span class="yl" style="top:154.83px">320</span><b class="yt mn" style="top:136.67px"></b><b class="yt" style="top:119px"></b><span class="yl" style="top:119.5px">340</span><b class="yt mn" style="top:101.33px"></b><b class="yt" style="top:83.67px"></b><span class="yl" style="top:84.17px">360</span><b class="yt mn" style="top:66px"></b><b class="yt" style="top:48.33px"></b><span class="yl" style="top:48.83px">380</span><b class="yt mn" style="top:30.67px"></b><b class="yt" style="top:13px"></b><span class="yl" style="top:13.5px">400</span><span class="xa">Emission &#955;</span><span class="ya">Excitation &#955;</span><span class="ti">GQDs-250-12</span><div class="cb"></div><b class="ct" style="top:21.06px"></b><span class="cl" style="top:21.56px">1000</span><b class="ct" style="top:97.3px"></b><span class="cl" style="top:97.8px">500.0</span><b class="ct" style="top:170.5px"></b><span class="cl" style="top:171px">20.00</span></div></body></html>
